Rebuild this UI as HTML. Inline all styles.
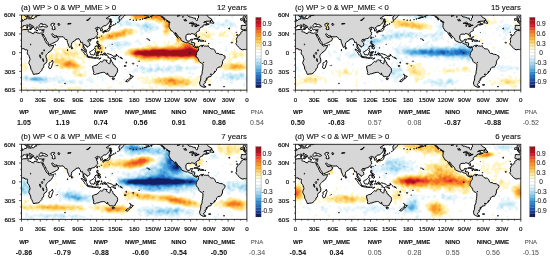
<!DOCTYPE html>
<html><head><meta charset="utf-8"><style>
html,body{margin:0;padding:0;background:#fff;width:550px;height:258px;overflow:hidden}
svg{display:block}
text{font-family:"Liberation Sans",Arial,sans-serif;fill:#222}
.ax{font-size:6.2px;fill:#111;stroke:#111;stroke-width:0.2px}
.cb{font-size:6.6px;fill:#1a1a1a;stroke:#1a1a1a;stroke-width:0.06px}
.tt{font-size:7.8px;fill:#111;stroke:#111;stroke-width:0.12px}
.tl{font-size:6px;font-weight:bold;fill:#111;stroke:#111;stroke-width:0.1px}
.tlg{font-size:6px;fill:#555;stroke:#555;stroke-width:0.1px}
.tv{font-size:7px;font-weight:bold;fill:#111;stroke:#111;stroke-width:0.04px;letter-spacing:0.15px}
.tvg{font-size:7px;fill:#555;stroke:#555;stroke-width:0.05px;letter-spacing:0.1px}
</style></head><body>
<svg width="550" height="258" viewBox="0 0 550 258">
<rect width="550" height="258" fill="#fff"/>
<defs><g id="land"><path fill="#d7d7d7" fill-rule="evenodd" stroke="#000" stroke-width="1.0" stroke-linejoin="round" d="M-3.4 14.9l0.6-0.3l1.5 0l0.9-0.6l0.5-0.7l-0.3-0.5l0.8-0.9l1.4-0.6l-0.1-0.3l0-0.5l1.1-0.1l1.1 0.2l0.6-0.5l0.8-0.3l0.9 0.3l0.2 0.6l0.6 0.3l0.6 0.6l1 0.4l1 0.5l0 1.1l0.5-0.2l0.5-0.3l-0.2-0.8l1 0.1l-0.3-0.3l-1.3-0.5l-0.9-0.5l-0.6-0.8l-0.8-0.6l0.1-0.6l0.8-0.1l0.5 0.3l0.6 0.8l0.9 0.4l1 0.5l0.6 0.4l-0.1 0.9l0.5 0.5l0.5 0.8l0.4 0.9l0.6 0.3l0.4-0.7l0.5-0.4l-0.7-0.8l0.3-0.5l0.4-0.4l1.3 0l0.2 0.5l0.3 0.9l0.3 0.8l0.6 0.4l0.8 0.3l0.7-0.4l0.8 0.2l1.3 0.1l0.9-0.2l0.5-0.1l-0.3 0.6l-0.2 1.2l-0.3 0.6l-0.3 0.9l-0.2 0.1l-0.7 0.2l-0.5-0.2l-0.8-0.1l-0.6 0.1l-0.6 0.3l-2.5-0.4l-1.3-0.7l-0.9-0.2l-1 0.5l0 0.7l-0.6 0.5l-2.1-0.7l-0.3-0.6l-1.4-0.4l-0.9-0.1l-0.6-0.4l-0.3-0.3l0.6-0.6l-0.3-0.5l0.3-0.7l-0.5 0l-1 0.1l-3.5 0.1l-1.9 0.6l-1.3 0.5l-2-0.5l-0.4 0l-0.6 1.1l-0.7 0.2l-1.1 0.8l0 1.2l-0.8 1.1l-1.2 0.7l-1 1.1l-0.9 1.5l-0.6 1.6l0.4 1.2l-0.1 1.9l-0.7 0.8l0.5 1.4l0.8 0.6l0.6 0.7l0.8 1.2l1.1 1l1.3 0.9l1.2 0.7l2.2-0.5l1.2 0.2l1.3-0.5l1.3-0.4l1.5 0l0.6 1.1l1 0.1l0.9-0.1l0.8 0.4l-0.1 1.2l-0.2 1.2l0.1 1.3l1 1.2l0.7 0.7l0.1 0.6l0.6 1.9l0.3 1.2l-0.8 1.6l-0.4 1.5l0 0.8l0.9 1.7l0.8 1.8l0.4 2.6l0.8 1l0.8 1.8l0.4 1l0.1 0.8l0.9 0.3l1.3-0.4l1.9-0.1l0.6-0.1l1.2-0.5l1.3-1.2l0.6-0.8l0.9-0.9l0.3-1.4l0.1-0.4l1.4-1l0.1-1.2l0-1l1-1.8l1.8-1l0.4-1.2l-0.1-2.2l-0.6-1.6l-0.3-0.9l0.1-1.1l0.5-1.1l0.7-0.6l0.6-0.6l1.2-1.3l1.3-0.6l1.3-1.6l0.9-1.4l0.8-1.4l0.1-0.9l0.2-0.9l-1.4 0.4l-1.3 0.1l-1.5 0.4l-0.9-0.7l0-0.5l-1-0.7l-1.3-1.3l-0.6-1.5l-0.8-1l-0.2-1.5l-1.2-1.6l-0.9-1.9l-0.6-1.5l0.4 0.7l0.7 0.7l0.4-1.1l0.3 0.9l0.7 1.3l0.9 1.2l0.6 1.3l0.3 1.2l1 1.3l0.9 1.2l0.3 1.3l0.3 0.8l1-0.1l1.9-0.7l1.2-0.7l1.3-0.5l1.2-0.7l0.9-0.5l0.7-0.4l0.8-0.4l0.4-0.9l0.8-1.2l-0.8-0.7l-0.9-0.3l-0.4-0.5l0-0.9l-0.6 0.5l-0.9 0.8l-1.5-0.2l-0.1-0.9l-0.3 0.6l-0.5-0.6l-0.4-0.7l-0.6-0.9l-0.3-0.6l0.3-0.3l0.9-0.1l0.6 0.8l1 0.9l0.9 0.4l1.3-0.2l0.6 0.8l1.2 0.2l1.7 0.2l1.5-0.1l1.5-0.1l0.7 0.9l0.6 0.3l0.3 0.7l0.6 0.9l1.6 0l0.3 1.2l0.3 1.9l0.6 1.3l0.4 1.2l0.6 1.3l0.6 1.2l0.6-0.6l0.7-0.6l0.6-1.9l0.1-1.6l1.1-0.9l1.3-0.9l1.6-1l0.3-0.9l1.2-0.2l1-0.3l0.8 0l0.4 1.1l1 0.9l0.3 1.9l0.6 0.1l1.2-0.4l0.4 1.6l0.3 1.8l-0.2 1.9l1.3 1.6l0.6 1.5l1.4 1.1l0.3-0.1l-0.4-1.6l-0.2-0.9l-0.6-0.5l-1-0.8l-0.4-1.1l-0.4-0.7l0.2-1.3l0.3-0.6l0.6 0.5l1 0.4l0.3 1l0.9 0l0.2 1.1l1.1-0.6l0.6-0.5l1.1-0.8l0-1.1l-0.3-1.3l-1.1-0.9l-0.6-1.1l0.3-1.1l0.9-0.6l1.3 0.2l0.2 0.5l0.4-0.7l1.6-0.5l1.5-0.3l1-0.8l0.9-0.9l0.6-1l1-0.9l0.3-0.9l-0.6-0.5l0.6-0.7l-0.8-0.6l-0.5-1.1l-0.5-0.3l0.8-0.6l1.3-0.6l-0.9-0.5l-1.3 0.4l-0.3-0.5l-0.5-0.6l0.5-0.2l0.9-0.5l1-0.5l0.3 0.2l-0.5 0.9l0.8-0.5l1.1-0.1l0.5 0.3l0.2 1.1l0.7 0.2l-0.1 0.9l0 0.9l0.7-0.1l1-0.2l0.3-0.6l-0.1-0.9l-0.6-0.7l-0.6-0.8l1.4-0.7l0.6-0.9l0.8-0.5l1 0.3l1.2-0.7l1.3-1l0.6-1l1.1-0.9l0.2-1.6l0.5-0.9l-0.2-0.6l-1.3-0.5l-1.2 0.2l-1.1-0.5l1.1-0.8l1.9-1.1l1.2-0.8l0.9-0.2l1.6 0l1.3-0.1l1.8 0.2l1.9-0.2l0.6-0.3l1-0.9l2.2-0.2l-1.3 2l-1.2 0.7l-0.3 1.5l0.7 2.5l1.2-1.2l0.9-0.8l1.2-1.2l0.8-1.1l1.1-1.3l9.4-3.1l0-6.3l-122.1 0l12.5 8.1l0 1.9l0.7 0.7l1.2 0l0.9-0.7l0.7-0.3l0.3 0.3l0.5 0.7l0.4 0.9l0.2 0.6l0.9 0.1l1.1-0.5l0.3-0.8l0.2-0.7l1.1-0.6l0-0.9l2.2 0l0 0.5l1.9-0.1l1.8-0.1l1.3 0.3l-1.3 0.3l-2.5 0l-0.3 0.6l0.5 0.7l-0.2 0.3l-1.5-0.3l-0.4 0.9l0.1 0.2l-0.4 0.5l-0.6 0.3l-0.6-0.2l-1.6 0.3l-1.2 0.2l-1.3-0.2l-0.6 0.2l-0.3-0.4l0.2-1.1l-0.4-0.1l0.2-0.8l-1.2 0.4l-0.3 0.4l0.3 0.6l-0.1 1l-0.9 0.3l-1.3 0.1l-0.4 0.7l-0.5 0.5l-0.6 0.2l-0.6 0.1l-0.1 0.4l-0.9 0.5l-0.6 0l-0.4-0.2l-0.3 0.7l-0.8-0.1l-0.8 0.3l0.2 0.3l1.1 0.3l0.8 0.7l0 1l-0.2 0.8l-0.9 0l-1.7-0.1l-1.4-0.1l-0.8 0.4l0.3 0.7l-0.1 0.9l-0.3 1.1l0.4 0.5l-0.1 0.6l0.9-0.1l0.8 0.2l0.4 0.5zM18.2 11.8l1.2 0l1.3-0.5l1.2 0l1 0.4l0.9 0.2l1.2 0l1-0.3l0-0.7l-1.3-0.9l-1.2-0.4l-0.6-0.4l-0.7 0.2l-1.2 0.3l-0.7-0.5l0.7-0.4l-1.3-0.4l-0.6 0l-0.5 0.8l-0.6 0.6l-0.5 0.8l0 0.7zM29.4 9.0l1.3-0.6l1.5-0.3l1 0.3l0 0.8l-1.3 0.5l0.2 0.8l1 0.8l0.1 0.7l0.5 2.2l-1.8 0.4l-1.2-0.5l0.1-1.3l0.7-0.5l-0.8-0.7l-1-1l0-0.9zM36.6 8.4l1.3 0.2l0.6 0.9l-0.9 0.8l-1-0.3zM46.3 8.6l1.6-0.3l1.6 0.1l-0.4 0.5l-1.5-0.1l-1.3 0.3zM65.1 5.2l1.3-0.5l1.2-0.9l1-1.2l0.1 0.3l-0.8 1.3l-1.2 0.9l-1.3 0.3zM8.5 29.4l0.6-0.5l0.3 0.5l-0.5 0.3zM19.8 37.8l0.5-0.5l0.7 0l0.4 0.4l-0.1 0.6l-0.3 0.8l-0.7 0l-0.4-0.6zM18.3 39.7l0.2 0l0.6 1.6l0.4 1.5l-0.4 0.2l-0.6-1.1l-0.3-1.2zM21.3 43.5l0.2 0l0.6 3l-0.3 0l-0.4-1.5zM22.4 34.7l0.4 0l-0.1 1.3l-0.2-0.1zM71.1 51.3l0.3 2.5l0.5 1.9l0.5 1.7l-0.4 1.1l0 0.5l0.9 0.4l1 0l1.2-0.7l1.3 0l1.2-0.5l1.3-0.5l1.9-0.3l1.2-0.2l1.3 0.3l0.7 0.5l1 1.3l0.2-0.5l1.1-0.9l-0.2 0.9l0.2 1l0.4-0.1l0.6 0.3l0.7 1.3l0.9 0.2l1.3-0.1l0.5 0l0.9 0.6l1.1-0.8l1.2-0.3l0.1-1l0.7-1.2l0.8-1l0.7-2.4l-0.4-1.5l0-0.6l-0.6-0.7l-0.8-0.8l-0.8-0.2l-0.4-1.3l-1.6-0.8l-0.2-1.2l-0.4-1.3l-0.5-0.5l-0.6-0.4l-0.1-1l-0.6-0.8l-0.3 1.1l-0.2 1.6l-0.1 1.3l-0.6 0.4l-0.8-0.2l-1.1-0.9l-1.1-0.6l0.1-0.8l0.6-0.9l-0.2-0.2l-1 0.2l-1.5-0.4l-0.7-0.1l-0.6 0.6l-0.4 0.9l-0.3 0.6l-0.9 0l-0.9-0.5l-0.9 0.8l-1 0.9l-0.8 0.7l-0.7 1l-1.4 0.5l-1.3 0.2l-1.1 0.6l-0.6 0.2zM222.0 14.9l0.6-0.3l1.5 0l0.9-0.6l0.5-0.7l-0.3-0.5l0.8-0.9l1.4-0.6l-0.1-0.3l0-0.5l1.1-0.1l1.1 0.2l0.6-0.5l0.8-0.3l0.9 0.3l0.2 0.6l0.6 0.3l0.6 0.6l1 0.4l1 0.5l0 1.1l0.5-0.2l0.5-0.3l-0.2-0.8l1 0.1l-0.3-0.3l-1.3-0.5l-0.9-0.5l-0.6-0.8l-0.8-0.6l0.1-0.6l0.8-0.1l0.5 0.3l0.6 0.8l0.9 0.4l1 0.5l0.6 0.4l-0.1 0.9l0.5 0.5l0.5 0.8l0.4 0.9l0.6 0.3l0.4-0.7l0.5-0.4l-0.7-0.8l0.3-0.5l0.4-0.4l1.3 0l0.2 0.5l0.3 0.9l0.3 0.8l0.6 0.4l0.8 0.3l0.7-0.4l0.8 0.2l1.3 0.1l0.9-0.2l0.5-0.1l-0.3 0.6l-0.2 1.2l-0.3 0.6l-0.3 0.9l-0.2 0.1l-0.7 0.2l-0.5-0.2l-0.8-0.1l-0.6 0.1l-0.6 0.3l-2.5-0.4l-1.3-0.7l-0.9-0.2l-1 0.5l0 0.7l-0.6 0.5l-2.1-0.7l-0.3-0.6l-1.4-0.4l-0.9-0.1l-0.6-0.4l-0.3-0.3l0.6-0.6l-0.3-0.5l0.3-0.7l-0.5 0l-1 0.1l-3.5 0.1l-1.9 0.6l-1.3 0.5l-2-0.5l-0.4 0l-0.6 1.1l-0.7 0.2l-1.1 0.8l0 1.2l-0.8 1.1l-1.2 0.7l-1 1.1l-0.9 1.5l-0.6 1.6l0.4 1.2l-0.1 1.9l-0.7 0.8l0.5 1.4l0.8 0.6l0.6 0.7l0.8 1.2l1.1 1l1.3 0.9l1.2 0.7l2.2-0.5l1.2 0.2l1.3-0.5l1.3-0.4l1.5 0l0.6 1.1l1 0.1l0.9-0.1l0.8 0.4l-0.1 1.2l-0.2 1.2l0.1 1.3l1 1.2l0.7 0.7l0.1 0.6l0.6 1.9l0.3 1.2l-0.8 1.6l-0.4 1.5l0 0.8l0.9 1.7l0.8 1.8l0.4 2.6l0.8 1l0.8 1.8l0.4 1l0.1 0.8l0.9 0.3l1.3-0.4l1.9-0.1l0.6-0.1l1.2-0.5l1.3-1.2l0.6-0.8l0.9-0.9l0.3-1.4l0.1-0.4l1.4-1l0.1-1.2l0-1l1-1.8l1.8-1l0.4-1.2l-0.1-2.2l-0.6-1.6l-0.3-0.9l0.1-1.1l0.5-1.1l0.7-0.6l0.6-0.6l1.2-1.3l1.3-0.6l1.3-1.6l0.9-1.4l0.8-1.4l0.1-0.9l0.2-0.9l-1.4 0.4l-1.3 0.1l-1.5 0.4l-0.9-0.7l0-0.5l-1-0.7l-1.3-1.3l-0.6-1.5l-0.8-1l-0.2-1.5l-1.2-1.6l-0.9-1.9l-0.6-1.5l0.4 0.7l0.7 0.7l0.4-1.1l0.3 0.9l0.7 1.3l0.9 1.2l0.6 1.3l0.3 1.2l1 1.3l0.9 1.2l0.3 1.3l0.3 0.8l1-0.1l1.9-0.7l1.2-0.7l1.3-0.5l1.2-0.7l0.9-0.5l0.7-0.4l0.8-0.4l0.4-0.9l0.8-1.2l-0.8-0.7l-0.9-0.3l-0.4-0.5l0-0.9l-0.6 0.5l-0.9 0.8l-1.5-0.2l-0.1-0.9l-0.3 0.6l-0.5-0.6l-0.4-0.7l-0.6-0.9l-0.3-0.6l0.3-0.3l0.9-0.1l0.6 0.8l1 0.9l0.9 0.4l1.3-0.2l0.6 0.8l1.2 0.2l1.7 0.2l1.5-0.1l1.5-0.1l0.7 0.9l0.6 0.3l0.3 0.7l0.6 0.9l1.6 0l0.3 1.2l0.3 1.9l0.6 1.3l0.4 1.2l0.6 1.3l0.6 1.2l0.6-0.6l0.7-0.6l0.6-1.9l0.1-1.6l1.1-0.9l1.3-0.9l1.6-1l0.3-0.9l1.2-0.2l1-0.3l0.8 0l0.4 1.1l1 0.9l0.3 1.9l0.6 0.1l1.2-0.4l0.4 1.6l0.3 1.8l-0.2 1.9l1.3 1.6l0.6 1.5l1.4 1.1l0.3-0.1l-0.4-1.6l-0.2-0.9l-0.6-0.5l-1-0.8l-0.4-1.1l-0.4-0.7l0.2-1.3l0.3-0.6l0.6 0.5l1 0.4l0.3 1l0.9 0l0.2 1.1l1.1-0.6l0.6-0.5l1.1-0.8l0-1.1l-0.3-1.3l-1.1-0.9l-0.6-1.1l0.3-1.1l0.9-0.6l1.3 0.2l0.2 0.5l0.4-0.7l1.6-0.5l1.5-0.3l1-0.8l0.9-0.9l0.6-1l1-0.9l0.3-0.9l-0.6-0.5l0.6-0.7l-0.8-0.6l-0.5-1.1l-0.5-0.3l0.8-0.6l1.3-0.6l-0.9-0.5l-1.3 0.4l-0.3-0.5l-0.5-0.6l0.5-0.2l0.9-0.5l1-0.5l0.3 0.2l-0.5 0.9l0.8-0.5l1.1-0.1l0.5 0.3l0.2 1.1l0.7 0.2l-0.1 0.9l0 0.9l0.7-0.1l1-0.2l0.3-0.6l-0.1-0.9l-0.6-0.7l-0.6-0.8l1.4-0.7l0.6-0.9l0.8-0.5l1 0.3l1.2-0.7l1.3-1l0.6-1l1.1-0.9l0.2-1.6l0.5-0.9l-0.2-0.6l-1.3-0.5l-1.2 0.2l-1.1-0.5l1.1-0.8l1.9-1.1l1.2-0.8l0.9-0.2l1.6 0l1.3-0.1l1.8 0.2l1.9-0.2l0.6-0.3l1-0.9l2.2-0.2l-1.3 2l-1.2 0.7l-0.3 1.5l0.7 2.5l1.2-1.2l0.9-0.8l1.2-1.2l0.8-1.1l1.1-1.3l9.4-3.1l0-6.3l-122.1 0l12.5 8.1l0 1.9l0.7 0.7l1.2 0l0.9-0.7l0.7-0.3l0.3 0.3l0.5 0.7l0.4 0.9l0.2 0.6l0.9 0.1l1.1-0.5l0.3-0.8l0.2-0.7l1.1-0.6l0-0.9l2.2 0l0 0.5l1.9-0.1l1.8-0.1l1.3 0.3l-1.3 0.3l-2.5 0l-0.3 0.6l0.5 0.7l-0.2 0.3l-1.5-0.3l-0.4 0.9l0.1 0.2l-0.4 0.5l-0.6 0.3l-0.6-0.2l-1.6 0.3l-1.2 0.2l-1.3-0.2l-0.6 0.2l-0.3-0.4l0.2-1.1l-0.4-0.1l0.2-0.8l-1.2 0.4l-0.3 0.4l0.3 0.6l-0.1 1l-0.9 0.3l-1.3 0.1l-0.4 0.7l-0.5 0.5l-0.6 0.2l-0.6 0.1l-0.1 0.4l-0.9 0.5l-0.6 0l-0.4-0.2l-0.3 0.7l-0.8-0.1l-0.8 0.3l0.2 0.3l1.1 0.3l0.8 0.7l0 1l-0.2 0.8l-0.9 0l-1.7-0.1l-1.4-0.1l-0.8 0.4l0.3 0.7l-0.1 0.9l-0.3 1.1l0.4 0.5l-0.1 0.6l0.9-0.1l0.8 0.2l0.4 0.5zM167.7 8.3l1.4 0.1l1.5 0l1.7 0l0.2-0.5l-0.6-0.3l-0.7-0.5l-1.2 0.2l-0.7 0.2l-0.9 0.4zM170.4 11.1l0.2 0.3l0.6-0.3l0.2-1.1l0.4-0.7l0.5-0.4l-1.1 0l-0.6 0.6l-0.2 0.8zM172.4 8.8l0.7-0.1l1.3 0.1l0.8 0.3l0.1 0.6l-0.8-0.4l-0.3 0.6l-0.4 0.7l-0.7-0.5l0.1-0.7l-0.6-0.4zM173.2 11.4l1.2 0.1l1.5-0.6l-0.1-0.2l-1.4 0.2l-1 0.4zM175.4 10.4l1.8 0l0.5-0.1l-0.2-0.4l-1.8 0.3zM164.7 6.0l0.3-0.1l-0.2-0.8l-0.5-0.8l-0.8-0.4l0.2 0.6l0.7 0.8zM163.4 6.1l0.5-0.2l-0.9-0.9l-0.6-0.6l0.2 0.6zM155.6 0.9l2.2-0.5l0.7 0.1l-1.3 0.3l-1.5 0.3zM161.2 2.2l0.5-0.1l0-0.8l-0.5 0.1zM181.6 47.1l0.5 0.1l0.2 0.5l-0.5-0.2zM193.0 56.4l0.7 0.1l-0.8 1l-0.3-0.2zM180.4 30.7l0.4 0l0.1 1l-0.5 0zM119.0-9.4l2.5 8.8l0.9 0.6l1.6 0.1l0.1 0.5l2.1 0.2l0.9 0.3l-0.9 0.8l-1.3 0.7l-1.2 0.5l-1.3 0.3l0.9-0.1l2.5-0.7l1.9-0.4l1.3-0.6l0.6-0.7l0.9-0.4l1-0.2l1.2-0.3l1.3-0.5l1.9 0.5l1.8 0.1l1.9 0.8l0.6 0.7l1 0.9l1.6 0.9l0.9 0.2l0.9 0.9l1 1.1l1.5 0.8l1.3 0.5l0.1 0.6l-1.2-0.2l0.5 1.3l-0.1 1.4l-0.3 0.8l0.2 1.1l0.3 0.7l0.8 1.3l0.4 0.7l0.8 1.3l1.3 0.4l0.8 0.8l0.5 0.7l0.4 0.8l1 1.4l0.1 0.5l1.2 1.1l1.3 1.6l0.2-0.4l-0.6-0.4l-0.5-0.8l-0.6-1.5l-0.7-1l-0.8-1.5l1.1 0.4l0.7 1.1l0.6 0.9l0.9 1.3l1 0.6l1.2 1.2l0.5 1l-0.2 0.7l0.7 0.8l1.5 0.7l1.3 0.6l1.2 0.5l1.3 0.3l0.9-0.3l1 0.4l0.6 0.7l1.3 0.4l1.2 0.4l0.3 0.1l1 0.9l0.1 0.3l0 0.7l0.8 0.3l0.5 0.6l0.7 0.2l1 0.3l0.6 0.3l-0.2-0.6l0.5-0.4l1 0.4l0.3 0.4l0.1 0.7l-0.1 0.3l0.1 1.2l-0.7 1l-0.7 0.9l-0.3 0.6l-0.3 0.7l-0.3 0.7l0.4 0.8l-0.5 0.6l-0.1 1l0.9 0.7l0.9 1.2l0.9 1.8l0.4 1.2l0.8 1l1.9 1l1.1 0.8l0.1 1.7l-0.2 1.5l-0.1 1.9l-0.5 2.2l-0.1 1.9l-0.4 1.5l-0.8 1.1l-0.1 1.7l-0.1 1.3l-0.1 1.2l-0.7 1.6l-0.3 1.3l0.3 1.5l0.7 1.3l1.2 0.6l1.3 0.6l1.2 0.3l1.3-0.3l0.5-0.2l-2-0.8l-0.1-0.7l-0.3-0.5l0-0.9l0.8-0.6l1.2-0.8l-1.1-0.9l0.4-0.5l1.2-0.3l0-1.6l0.9 0.1l-0.9-1l1.7-0.2l0.2-1.1l2.8-0.5l0.5-1l-0.3-0.7l-0.8-0.6l0.9 0l1.3 0.3l0.9-0.7l1.3-1.5l0.9-1.2l0.9-0.8l0-1.4l1.3-1.3l1.2-0.5l1.6-0.2l0.6-0.6l0.7-1.5l0.5-1l0.1-2.1l0.3-0.9l0.9-1.3l1.2-1.2l0.2-1.2l-0.3-1.2l-1.4-0.4l-0.9-0.9l-1.6-0.2l-1.5-0.2l-1.3-0.9l-1.6 0.1l-0.9-0.8l-0.3-1l-0.6-1.5l-1-0.9l-1.2-0.3l-1.3 0l-0.9-0.5l-1-1.1l-0.9-0.8l-0.6-0.5l-1.3 0.2l-0.9-0.2l-1.3 0.1l-1.2-1.1l-1 0.7l-0.4-0.5l-1.3 0.4l-0.8 0.5l-0.6 1l-0.6 0.1l-1-0.5l-0.9 0.3l-0.9 0l-1-1.1l-0.1-0.8l0.3-1.9l-0.8-0.5l-1.9 0l-0.4 0.1l-0.1-1.1l0.5-1.3l0.5-1.2l-0.8 0l-1.4 0.3l-0.2 0.8l-0.6 0.8l-1.6 0.1l-0.9-0.3l-0.6-0.8l-0.6-1.2l0-1.9l0.1-1.6l0.8-0.7l1.2-0.6l1.3 0l1.3 0.3l0.6-0.7l1.2-0.1l1.3 0.5l0.6-0.2l0.8 1.2l0.6 1.1l0.5 0.7l0.5-0.5l-0.2-1.6l-0.5-0.9l-0.1-1l0.9-0.7l1-0.8l1.2-0.5l0.6-0.4l-0.3-1l0.5-1l0.8-1.2l1.2-0.3l1.3-0.5l-0.5-0.5l0.5-0.7l1.9-0.6l0.6-0.2l0.9-0.2l-0.9 0.8l1.5-0.3l2.2-0.8l-0.9-0.1l-1.9-0.2l-0.3-1.1l0.4-0.6l-1.3-0.1l-1.6 0.5l1.3-0.7l1.8-0.5l2.5 0l1.9-0.8l0.8-0.4l-0.5-1.1l-1.5-0.8l-1.6-0.8l-0.6-0.9l-1.3-1.5l-0.3-1.1l0-8.1zM165.9-0.6l0.3 1.2l0.3 0.2l1 1l1.6 0.1l1.2 0.4l1.9 0.7l1.7 0.1l0 1.3l1.1 1l0.9-0.1l0.2-0.9l-0.2-1l1-0.6l0.3-0.9l-0.3-1l-0.3-1.5z"/><path fill="#fff" stroke="#000" stroke-width="1.0" stroke-linejoin="round" d="M30.9 45.0l0.7 2.2l-0.4 1l-0.6 1.8l-0.8 2.6l-0.4 0.6l-1.1 0.3l-0.8-0.5l-0.4-1.7l0.7-1.1l-0.3-1.7l0.3-0.8l1.2-0.4l0.9-0.9zM50.0 33.8l0-1.3l0.1-1.1l0.6 0.8l0.6 0.9l-0.2 0.5l-0.6 0.2zM59.7 34.0l1.3 0.3l0.8 0.9l1.1 1l0.7 0.2l1.4 1.8l0.4 0.8l0.9 2.2l-0.9 0l-1.3-1.2l-0.9-0.9l-0.4-0.9l-0.8-1.3l-1-0.9l-0.9-1.1zM65.9 41.8l0.8-0.5l1.1 0.2l1.4 0.3l1.3 0l1.2 0.6l-0.1 0.6l-1.5-0.3l-1.2-0.1l-1.3-0.2l-1-0.2zM72.0 42.7l0.9 0l1.6 0.1l0.1 0.2l-1.7 0.2l-0.8-0.2zM75.0 42.8l1.1 0l0.9-0.1l0 0.2l-1.2 0.2l-0.8-0.1zM77.3 44.0l1-0.7l1.3-0.5l-0.2 0.2l-1.1 0.7l-0.7 0.3zM68.6 36.2l0.5 0.3l0.7-0.6l1-0.4l0.7-0.9l0.5-0.2l0.6-0.6l0.7-0.7l0.4 0.6l0.9 0.5l-0.6 0.6l-0.3 0.1l-0.1 0.7l0.8 1.3l-0.6 0.1l-0.2 0.8l-0.7 0.9l0 1l-0.3 0.3l-0.9-0.1l-0.9-0.4l-1 0.2l-0.8-0.4l-0.1-0.8l-0.6-0.7l-0.1-0.6zM74.8 41.0l0-1.3l-0.4-0.5l0.6-1.4l0.6-1.1l0.8 0.2l1.6-0.3l0.4 0l-0.8 0.6l-1.5 0l-0.6 0.6l0.6 0.3l1.1 0l-0.8 0.4l-0.5 0.2l0.8 1l0.5 0.6l-0.7 0.7l-0.6-0.7l-0.5-0.9l0 1.6zM79.8 36.6l0.7 0l-0.4 0.9l0.4 0.5l-0.7-0.3zM80.1 39.4l1.6 0l0.2 0.5l-1.4-0.1zM78.9 39.5l0.7 0l-0.2 0.5l-0.5-0.2zM75.5 26.0l1 0l0.1 0.9l-0.5 0.9l0.2 1l1.3 0.6l-0.3-0.5l-0.6 0.2l-1.2-0.5l-0.4-1.1l0.3-0.9zM76.4 33.1l0.6-1l1.6-0.7l0.6 1.1l-0.2 1.1l-0.4 0.4l-1-0.4l-0.9-0.6zM76.4 30.1l0.7 0.9l0.5 0.6l0.8-0.5l0.4-0.8l-0.4-0.6l-0.8 0l-0.9 0.6zM73.4 32.3l1.5-1.8l-0.2-0.1l-1.4 1.6zM75.2 23.1l0.4 0.7l0.2 0l0.3-1.6l0.2-0.3l-0.5-0.1l-0.5 0.8zM68.1 25.5l0.5-0.5l0.6 0l0.3 0.3l-0.4 0.8l-0.5 0l-0.5-0.1zM82.0 16.3l1-1l1.8 0l0.4-0.5l0.6-0.4l0.9-0.5l1-1.1l0-0.8l0.9-0.3l0.3 1.1l-0.6 0.8l0 0.8l-0.2 0.6l-0.6 0.6l-0.6 0.3l-1.1 0l-0.1 0.2l-0.7 0.5l-0.5-0.7l-1.2 0.2l-1.3 0.2zM81.2 16.6l0.8-0.3l0.5 0.9l-0.4 0.7l-0.6 0.1l-0.2-0.9zM83.0 16.7l0.6-0.1l0.7-0.2l-0.1-0.3l-0.9 0.2zM87.7 11.6l0.6-0.2l1.4-0.1l1.4-0.9l-0.8-0.5l-1.6-0.8l-0.2 1.4l-0.7 0.1l-0.2 0.5zM88.9 8.8l0.9-0.5l-0.3-1.4l1 0l-0.8-1.6l-0.2-1.5l-0.3-0.2l-0.2 2l-0.1 1.9zM82.0 38.3l1-0.5l0.9 0.2l0.6 1.6l0.7-0.7l0.9-0.4l1.6 0.5l0.6 0.2l1.9 0.7l1.1 0.8l1.1 0.6l-0.2 0.5l0.5 0.7l0.9 1l0.8 0.6l-1.1-0.1l-0.9-0.2l-1-1.1l-1.2-0.4l-0.7 0.9l-0.9 0l-1.6-0.6l-0.6 0.2l0.5-0.9l-0.6-1.1l-1.1-0.5l-1.3-0.3l-0.6 0l-0.7-0.7l1-0.3l-1-0.1zM92.9 41.0l1-0.2l1-0.5l0.5-0.1l-0.4 0.6l-0.8 0.6l-0.9-0.1zM94.4 39.2l1 0.4l0.5 0.9l-0.4-0.3l-1-0.8zM97.0 41.3l0.5 0.3l-0.1 0.3l-0.5-0.3zM98.3 42.5l1.3 0.3l0.9 0.7l0.6 0.3l-0.6-0.6l-1.3-1zM90.6 63.0l2.3 0.1l0 0.8l-0.5 0.6l-1 0.2l-0.5-0.8zM108.1 59.0l1.2 0.9l0.8 1.1l1.7 0.1l-0.4 0.9l-0.6 0.3l-1 1.2l-0.5-0.1l0.3-0.9l-0.8-0.5l0.5-0.7l-0.2-1.1zM108.1 62.9l1 0.7l-0.7 0.8l-0.2 0.5l-1 0.4l-0.4 0.9l-0.9 0.5l-1.7-0.4l0.2-0.5l1-0.8l1.4-0.8l0.8-0.8zM-3.6 6.3l1.7-0.4l2.8-0.4l0.2-0.9l-0.9-0.5l-0.3-0.4l-0.8-0.6l-0.4-0.5l-0.3-0.4l0.5-0.6l-1-0.7l-1 0l-0.7 0.7l0.4 0.7l0.3 0.4l0 0.6l0.9-0.1l0.3 0.7l0 0.3l-1 0l0.3 0.3l-0.7 0.6l1.4 0.2l-0.7 0.2zM7.8 13.8l2-0.2l-0.3 1l-1.7-0.6zM5.1 11.9l1 0l0 1.1l-0.8 0.2l0-0.7zM5.4 11.3l0.5-0.7l0 1l-0.4 0zM14.7 15.4l1.8 0.1l-0.2 0.1l-1.3 0zM20.2 15.8l1.5-0.5l-0.4 0.6l-0.6 0zM104.7 50.8l-0.5-0.3l-1.1 0l-0.6 0.3l0.6 0.4l1.1 0zM105.1 47.4l-0.2-0.6l-0.3 0l-0.2 0.6l0.2 0.7l0.3 0zM112.4 48.5l-0.4-0.4l-0.7 0l-0.4 0.4l0.4 0.5l0.7 0zM90.8 29.1l0-0.2l-0.2 0l-0.1 0.2l0.1 0.2l0.2 0zM84.5 32.8l-0.2-0.2l-0.2 0l-0.1 0.2l0.1 0.3l0.2 0zM93.0 9.7l-0.3-0.3l-0.7 0l-0.3 0.3l0.3 0.3l0.7 0zM94.7 8.8l-0.2-0.3l-0.5 0l-0.3 0.3l0.3 0.2l0.5 0zM96.9 7.2l-0.2-0.2l-0.5 0l-0.3 0.2l0.3 0.2l0.5 0zM98.0 6.1l-0.2-0.2l-0.3 0l-0.1 0.2l0.1 0.2l0.3 0zM109.1 4.5l-0.2-0.2l-0.5 0l-0.3 0.2l0.3 0.2l0.5 0zM112.3 5.1l-0.3-0.1l-0.5 0l-0.2 0.1l0.2 0.2l0.5 0zM34.9 50.7l-0.1-0.1l-0.1 0l-0.1 0.1l0.1 0.2l0.1 0zM36.3 50.2l-0.1-0.1l-0.2 0l-0.1 0.1l0.1 0.2l0.2 0zM46.1 35.0l0-0.6l-0.1 0l-0.1 0.6l0.1 0.7l0.1 0zM58.2 29.7l-0.1-0.5l-0.2 0l0 0.5l0 0.5l0.2 0zM34.2 29.7l-0.3-0.2l-0.5 0l-0.2 0.2l0.2 0.2l0.5 0zM44.0 68.4l-0.2-0.3l-0.5 0l-0.3 0.3l0.3 0.2l0.5 0zM87.8 20.6l-0.1-0.1l-0.1 0l-0.1 0.1l0.1 0.1l0.1 0zM80.5 21.0l-0.2-0.2l-0.3 0l-0.2 0.2l0.2 0.1l0.3 0zM78.0 22.2l-0.2-0.2l-0.3 0l-0.2 0.2l0.2 0.2l0.3 0zM76.6 31.4l-0.2-0.4l-0.6 0l-0.3 0.4l0.3 0.4l0.6 0zM77.7 31.0l-0.1-0.5l-0.2 0l-0.1 0.5l0.1 0.5l0.2 0zM221.8 6.3l1.7-0.4l2.8-0.4l0.2-0.9l-0.9-0.5l-0.3-0.4l-0.8-0.6l-0.4-0.5l-0.3-0.4l0.5-0.6l-1-0.7l-1 0l-0.7 0.7l0.4 0.7l0.3 0.4l0 0.6l0.9-0.1l0.3 0.7l0 0.3l-1 0l0.3 0.3l-0.7 0.6l1.4 0.2l-0.7 0.2zM221.6 4.9l-0.1-1.1l0.3-0.4l-1-0.5l-0.7 0.5l-1 0.2l0.2 0.5l-0.3 0.9l0.5 0.3l0.9-0.2l1.1-0.2zM188.3 7.8l2 0l1.9 0.5l0.2-0.5l-0.5-1.1l-1.2-0.4l0-1l-1 0.1l-1.2 1.8zM172.2 23.9l1.9-0.6l1.2-0.2l1.9 1l1.7 0.8l-0.5 0.2l-1.6 0l-0.2-0.5l-1.9-0.6l-1.3-0.2zM178.8 26.0l1.1-0.9l1.7 0.1l1 0.7l-1.3 0.2l-1 0.1zM176.4 26.1l1.3 0l-0.2 0.2l-0.8 0zM183.3 26.0l1 0l-0.1 0.3l-0.8 0zM145.0 5.8l0.9 0.3l0.9 0.8l1.3 0.4l-0.7-0.8l-0.6-0.4l-1.2-0.5zM142.1 3.8l0.7 0l0.6 0.9l-0.3 0.2l-0.7-0.5zM187.1 69.6l2-0.1l0.2 0.4l-1.2 0.3l-0.9-0.2zM127.8 24.9l0.6 0.4l-0.4 0.4l-0.3-0.4zM197.2-0.6l0.7 0.7l0.9-0.7zM208.6 13.4l-0.4-0.3l-0.7 0l-0.4 0.3l0.4 0.3l0.7 0zM215.1 17.1l-0.1-0.2l-0.3 0l-0.2 0.2l0.2 0.2l0.3 0zM216.6 19.8l-0.4-0.2l-1 0l-0.4 0.2l0.4 0.3l1 0zM211.0 27.5l-0.3-0.4l-0.6 0l-0.4 0.4l0.4 0.5l0.6 0zM168.9 37.8l-0.2-0.4l-0.5 0l-0.3 0.4l0.3 0.5l0.5 0zM118.0 46.1l-0.3-0.2l-0.4 0l-0.2 0.2l0.2 0.2l0.4 0zM116.0 50.8l-0.2-0.2l-0.2 0l-0.1 0.2l0.1 0.2l0.2 0zM125.8 23.8l-0.1-0.3l-0.3 0l-0.2 0.3l0.2 0.2l0.3 0zM127.5 24.3l-0.2-0.3l-0.4 0l-0.2 0.3l0.2 0.2l0.4 0zM115.4 5.1l-0.3-0.2l-0.5 0l-0.2 0.2l0.2 0.1l0.5 0zM119.1 4.6l-0.2-0.2l-0.5 0l-0.2 0.2l0.2 0.1l0.5 0zM121.6 3.9l-0.3-0.1l-0.6 0l-0.2 0.1l0.2 0.2l0.6 0zM130.7 1.6l-0.4-0.4l-0.8 0l-0.3 0.4l0.3 0.3l0.8 0zM141.2 1.7l-0.3-0.6l-0.7 0l-0.3 0.6l0.3 0.5l0.7 0zM142.4 2.6l-0.3-0.5l-0.6 0l-0.3 0.5l0.3 0.6l0.6 0zM187.4 28.5l-0.1-0.4l-0.2 0l-0.1 0.4l0.1 0.3l0.2 0zM187.2 31.0l-0.1-0.2l-0.4 0l-0.1 0.2l0.1 0.1l0.4 0zM177.1 22.3l-0.2-0.3l-0.4 0l-0.2 0.3l0.2 0.4l0.4 0zM178.2 21.7l-0.2-0.3l-0.4 0l-0.2 0.3l0.2 0.3l0.4 0zM185.0 17.3l0-0.1l-0.2 0l0 0.1l0 0.1l0.2 0zM203.2 71.5l-0.3-0.2l-0.7 0l-0.3 0.2l0.3 0.1l0.7 0z"/></g></defs>
<clipPath id="clipa"><rect x="21.5" y="15.1" width="225.4" height="75.05"/></clipPath>
<g clip-path="url(#clipa)">
<rect x="21.5" y="15.1" width="225.4" height="75.05" fill="#fff"/>
<path fill="#fff6c8" fill-rule="evenodd" d="M20.2 90.5l1 0.8l2.7-3.7l-1.8-1.2l-0.4 0.3l-1.5 1.4l0 2.4zM47.7 91.4l1.4 0l1.2-0.9l0.5 0.9l1.6 0l0.7-1.8l1.9 1l0.9 0l1.9-1l1.2-0.1l-0.2-0.5l-1 0.5l-1.9-2.3l-2.8 1.4l-2.8 0.6l-1.9-1.8l-0.9-0.1l-0.9 0.3l1.1 3.8zM65.1 90.5l1.5 0.9l5.3-0.3l1.9-1.9l1.9 0.9l0.9 0l0.9-0.7l1.9 1l1.9-0.6l0.4-1.2l-0.4-1l-2.8-1.6l-3.7 0.7l-1 0.7l-1.9-0.6l-1.9 0.4l-1.9-0.7l-1 0.2l0.2 1.9l-2.2 1.9zM84.8 90.5l1.2-0.4l0.5-0.6l-1.4-0.6l-1.1 0.6l0.8 1zM91.4 90.5l1.5-1l-0.3-0.9l-1-0.8l-0.9 0.8l0 1.3l0.7 0.6zM100.0 90.5l2.4 0l-0.4-1.4l-1.9-1.3l-0.6 1.7l0.5 1zM174.2 91.4l0.4 0l-0.3-1.8l-0.4 0.9l0.3 0.9zM189.1 90.5l0.2 0.3l1.9-1.1l0-1.6l-1 1.2l-0.9 0.1l-0.2 1.1zM207.1 90.5l0.7 0.9l1.5 0l-0.3-1.1l-2.8-1.3l-0.2 0.5l1.1 1zM213.6 91.4l1.3 0l0.1-1.9l-0.3-0.5l-1.6 1.5l0.5 0.9zM239.9 90.5l1.1-0.1l0.7-0.9l-0.7-0.9l-1-0.4l-1.2 1.3l1.1 1zM246.4 91.4l1.1-0.5l0-2.4l-1.6 2l0.5 0.9zM25.3 89.5l0.6 0.8l0.9-0.2l0.6-0.6l-1.5-2.9l-1.8 1l1.2 1.9zM33.8 89.5l0.5 0.6l2.9-1.2l0.5-0.3l-0.3-1l-1.2-0.3l-1.9 0.2l-0.9-1.2l-0.9-0.3l-1.6 1.6l0.6 0.6l1.9 0.3l0.4 1zM40.3 89.5l0.6 0.6l0.9-0.2l0.5-1.3l-1.4-0.5l-0.6 0.5l0 0.9zM95.2 89.5l1.1 0l0-1l-1.1 0.1l0 0.9zM107.5 89.5l1 0l2.8-1.9l1 0.4l0.2-1.3l-2.1-1.3l-0.9 0l-1.2 1.3l-2 0.9l1.2 1.9zM128.2 89.5l1 0.7l0.9 0l0.7-0.7l-0.7-1l-1.8-0.5l-0.5 0.6l0.4 0.9zM142.3 89.5l1.9-0.2l1.9 0.8l0.8-0.6l-0.8-1l-0.9 0.8l-1-1.6l-0.9-0.2l-1.2 0.1l-1.1 1l1.3 0.9zM151.1 89.5l1.6 0.7l0.9-0.7l-0.9-3.2l-1.9 0.2l-0.4-0.7l-0.1-1l0.5-0.8l1.9-0.5l2.8 1.9l0.3 0.4l-0.4 0.9l1 1.2l1.6-0.3l0.4-0.9l-0.2-0.9l1-0.8l1 0.3l0.9 2.2l1.9-1.1l3.8 3.1l1.3-0.9l0.5-1l1.9 0.8l2.8-1.4l1 2.5l1.6-1.9l2.1-0.6l1 0l1.8 1l3.8-0.1l0.8-1.2l2 0l3.8-1.6l0.9 0.7l0 1.2l1-0.4l1.8 0.2l1.7-1l1.2-2.3l2.9-1.5l-1.1-0.3l-0.3-0.6l-0.1-1l0.4-0.7l1.8-1.1l0.1-0.6l0.1 0.6l0.8 0.2l1-1.2l-1-0.5l-0.9 0.5l-1.9-2l-2.8 1.1l-1.9 2l-1.8 0.3l-1.9 1.1l-0.9-1.5l2.3-1l-0.4-0.9l-1-0.5l-1.5 0.5l-1.3 1.1l-2.9 0.6l-2.8-1.8l-3.7-0.9l-1.9 0.2l-1.9-1.3l-0.9 1.8l-4.7-0.7l-2.8 1.4l-2.9-0.6l-1.8 1l-1 0l-2.8-1.3l-0.9 0.2l-1 1.3l-2.8 0.6l-0.8-0.7l-0.1-1.6l-1-0.2l-0.6 0.9l0.4 1.9l-0.7 1.5l-0.9 0.1l-1.1-0.7l-0.2-2.8l-0.6-0.4l-1 0l-1.8 1.5l-1 0l-1.9-1.2l-1.8 0.7l-1.9 0l-1 0.7l-0.8 1.5l0.4 0.9l1.4 0.2l1.9-2.6l1.2 1.5l0.2 0.9l-0.9 1l0.2 0.9l4 2l1.8-0.5l1.4 1.3l0.6 2.8l2.1 1.9zM166.8 87.5l-0.6-0.8l0.6-0.7l1 0.7l-0.1 0.5l-0.9 0.3zM143.3 80.6l-0.6-0.5l0.6-0.6l0.9-0.2l1.7 0.8l-1.7 0.7l-0.9-0.2zM231.2 89.5l1.3 0.6l0.9-0.4l1-1.4l-1-0.3l-2.2 1.5zM199.9 87.6l0.7 0.8l0.9 0l0.8-0.8l0-1.8l-0.8-0.8l-2.8 0.1l-0.5 0.7l1.7 1.8zM59.4 86.7l2.2 0.8l0.9 0l0.7-0.8l-0.2-0.9l-1.4-0.6l-1.8 0.6l-0.4 0.9zM96.9 86.7l0.4 0.5l1.1-0.5l0.3-0.9l-0.5-0.4l-0.9 0.3l-0.4 1zM208.3 85.8l1.7 0.7l0.9-1.3l0.2-1.3l-1-1.9l0.4-0.9l2-1.9l-0.7-1.3l-1.8 0.8l-3.8-0.2l-1 0.7l0.1 2.8l0.9 0.9l1.9-0.6l0.6 0.7l-0.4 2.8zM22.9 84.8l0.2 0.3l1.4-0.3l-0.5-1l-0.9 0.1l-0.2 0.9zM118.7 83.9l1.1 0.8l0.9-0.3l1.4-1.4l-0.8-1l-1.5-0.6l-1.6 1.6l0.5 0.9zM114.1 83.0l0.2-1l-1.1-0.3l0 0.8l0.9 0.5zM83.1 77.3l3.2-0.9l0.3-0.9l-0.6-3.8l-0.9-1.7l-1 0.3l-0.7 3.3l-1.2 0.1l-1.8-1.1l-0.5-1.8l0.5-0.8l2-0.2l0.8-1.5l0.9 0.2l0.9-0.6l0.4-0.9l-0.2-0.9l-1.1-0.8l-1.9 0.7l-0.9-2.5l-2.8-0.8l-1-2.5l-0.9 0.5l-0.9-0.9l-0.4-1.2l0.4-0.8l2.8 1.8l2.8 0.1l0.8 0.7l-0.1 2.9l3.1 0.6l0.1-1.6l-1.3-2.8l2.1-2l0.9-2.4l1.6-1.2l-0.1-1l-1.5-1.3l-0.9 0.2l0.2 2.1l-1.1 0.5l-1.2-1.5l0.5-1.8l-0.3-0.9l-0.9-0.6l-1 0.1l-0.9 0.9l-1.9 0.2l-0.9 1.1l-0.7-0.8l-0.3-3.9l1-0.4l0.9 0.3l1.9 1.4l0.9-0.9l0.5-2.2l-1.4-3.3l-0.9-0.3l-2.9 1.7l-2.8-1.6l-0.9 0l-1 0.7l0.2 1l2 1.8l0 1l-1.2 1.2l-1 2.5l-1.8 0.2l-1.4-1.1l2.3-1.9l0.3-0.9l-1.7-1.9l-0.4-1.9l-1-0.9l-1 0l-0.7 1.9l0.3 2.8l-2.4 1.9l-7.5-0.9l-2.8 1.6l-1.9-2.2l-0.9 1.1l-0.5 2.2l2.7 1l0.5 0.9l-0.1 0.9l-0.7 0.5l-3.8-1l-0.7 1.5l-1.2 0.3l-0.8-2.2l-1.1-0.3l-2.8 1.6l-1.1-1.3l0.2-0.9l1.9-1.5l2.2-0.4l0.3-1l-0.7-0.4l-1.8 1.1l-1-1.3l-0.9-0.2l-1.3 1.8l-1.8 0.9l0.3 2l-1.8 0.8l0.8 0.2l1.7 2.7l-0.1 2.8l1.2 0.4l1-0.3l1.9 1.6l1.5 0.1l0.1 1l-1.5 1.9l0.8 1.2l0.9 0.3l1-2.2l1.9-0.7l0.9 0.8l2.2 0.6l0.6 0.9l1 3.7l1.8 0.2l1-1.1l3.7 2.6l3.8-0.2l3.7 0.7l4-0.3l0.5 1l-0.9 0.9l0 1.9l1.7 0.9l1.3 2.4l8.4 0.4zM81.3 57.0l-2.2-1.2l0.3-1.5l1-1.1l0.9 0.4l1 2.2l-0.1 0.9l-0.9 0.3zM55.9 66.3l-0.1-1.2l1.1-0.3l0 2.1l-1-0.6zM60.6 53.0l-1.9-1l-1-0.9l0.1-0.6l2.8-1.2l0.5 0.8l0 1l1.2 1.8l-0.7 0.7l-1-0.6zM126.9 77.3l0.4 0.2l1-0.7l0-0.9l-1-0.2l-0.9 0.7l0.5 0.9zM105.6 76.4l1.1 0.2l0.1-0.2l-1.1-1l-0.1 1zM110.9 76.4l0.4 0.3l1-1.2l-1-0.7l-0.9 0.1l-0.3 0.6l0.8 0.9zM69.2 75.5l0.8 0.3l1-0.3l-1-0.5l-0.8 0.5zM134.9 75.5l0.9 0.9l0.9-0.9l-0.9-1l-0.9 1zM154.4 75.5l1.1 0.2l0.6-1.2l-1.6-0.5l-0.6 0.5l0.5 1zM32.4 74.5l0.1 0l0.9-0.9l-0.9-0.1l-0.1 1zM39.0 74.5l0.9-0.9l-0.9-0.7l-1.1 0.7l1.1 0.9zM200.2 74.5l0.4 0.7l1.2-0.7l-1.2-0.4l-0.4 0.4zM97.3 73.6l0.9 0.6l0.5-0.6l-0.5-0.7l-0.9 0.7zM22.2 70.8l0.9 0.6l2.8 0l0.9-2.1l1.8-1.4l-1.7-1.8l0.3-1.9l-1.3-2.4l-1.6 0.5l-1.2 1.5l-1.9-1.6l-1 0.7l0 6.5l1.3 0.4l0.7 1zM23.1 68.6l0-1.2l0.9 0.4l0 0.4l-0.9 0.4zM41.5 70.8l1.3 0.8l0.7-0.8l-0.7-0.4l-1.3 0.4zM225.2 70.8l1.7 0.4l1.8-0.8l8.5 1.1l0.9-0.4l2.9 0.1l1.8-1.2l2.8 0.2l1-0.6l0.9-0.8l0-4.9l-0.9 0.6l-0.5-0.3l-0.1-1.9l0.6-2.4l-1-0.2l-2.8 3.3l-2.2-0.7l-0.6-1.2l-2.8 0.6l-2.8 1.4l-1.9-0.1l-1.2-0.7l0.9-2.8l1.2-0.6l1.9 0.1l2.6-1.4l0.8-0.9l1.3 0.2l1.9 2.2l1.1-0.5l0.5-1.9l1.6-1.9l0-0.9l-3.2-3.1l-0.9 0l-1.2 1.2l-2.6 0.4l-1.5-1.3l0.1-1l-1.4-1.4l-1 2l-0.9 0.3l-0.9-0.5l-1.9 3l-2.1 0.4l0.1 0.9l1.3 1l0.4 0.9l-2.8 2.8l-0.2 1.9l-1.4 0.8l-1 0.1l-0.9-0.7l-0.9 0.4l-1 2.7l-0.9 0.3l-1.1-1.7l-1.7-1l-1.3 0l-0.7 2.8l-1.2 1.9l0.1 0.9l1.2-0.3l2.8 0.3l1 0.3l1.8 1.9l1.9-0.7l2.1 1.4zM230.6 58.1l-0.6-3.3l1.6-0.6l1.4 1.6l-2.4 2.3zM48.4 66.1l1.9 0.5l0-1.4l-2.4-0.1l0.5 1zM198.3 64.2l1.6 0l0.6-3.8l-0.2-1.8l1-1.9l0.2-2.7l0.8-1.1l-0.8-0.3l-1.4-7.2l-1.4-1.9l-2.8-1.8l-1-0.1l-1.8 0.8l-3.8-2.5l-3.8 0.7l-1.8-0.3l0.1-4.2l1.1-1.9l0.7-2.8l-0.2-1l-0.8-0.5l-4.7 4.1l-3.8 0.5l-0.8 0.6l0.4 6.6l-2.4 2l-2.8 0.9l-0.8-0.1l0.5-2.8l-0.4-1l-1.2-0.4l-0.6 0.4l-0.9 2.9l-1.3 0.9l-0.2-2.8l-0.7-1l-1.7 1l1.2 1.9l0.1 0.9l-0.6 0.7l-4.7 1l-3.7-2.7l-1.9-2.8l-0.9-0.3l-0.1 1.3l0.8 1.9l1.9 0.9l-1.7 1.5l-2.4-1.5l-3.2 0l-1.9 0.6l-0.9 1.4l-1.9-0.7l-1.9 1.7l-0.9 0l-1-0.6l-5.6 1.1l-1.9-0.5l-2.8 0.8l-5.1 3.7l0.1 2.8l1.2 1.4l3.8-0.1l1.9 1.7l3.7 0.6l1.2 2l1.4 1l1.2 1.7l1.9-1l0.9 0.6l1.9-0.9l3.7 1.3l1.9-1.2l1.9 0.7l1.9-1.1l1.8 0.4l2.9-0.7l1.8 0.3l1-1.1l0.9-0.2l1 1.2l0.9 0.3l2.8-0.7l1.9 0.6l1.9-0.1l3.7 1.9l1.4-2l5.2-1.3l1 0.3l1 1.9l1.8 0.8l4.7-2.9l1.8 0.1l1.9-0.5l1 0.6l0.5 2.9l2.3 0.9l2.4 0zM92.1 62.3l0.5 0.4l0.9-0.2l0.3-1.1l-0.7 0l-1 0.9zM36.5 59.5l1.6 0.3l1.6-1.2l-0.3-1l-1.3-1.2l-0.9-0.2l-1.9 0.9l-1.9-1.2l-1.9 0.7l1 1.8l1.8-0.1l2.2 1.2zM87.4 59.5l1.4 0.7l0.9-0.5l0.1-2.1l-2.2 1l-0.2 0.9zM94.6 58.6l1.7 0.6l0.7-0.6l-0.4-1.9l-1.2-2.3l-2.8-0.4l-0.5 0.8l0.5 0.8l1.8 1.1l-0.5 0.9l0.7 1zM223.4 58.6l0.6 0.7l0.9-1.7l-0.9-1.8l-0.9 0.8l0.3 2zM20.2 56.7l0 0.5l1.8-0.5l0.2-0.9l-1.1-1l0.1-0.9l1.6-1.9l-2.1-1.9l-0.5-2.1l0 8.7zM110.3 56.7l0.2 0l1.4-0.9l-1.5-0.3l-0.1 1.2zM98.5 55.8l1.6 0.9l4.7-4.4l0-3.1l0.8-1l-0.7-1.8l-2.5-2.8l2.2-1.9l0.2-1l5.6-0.4l5.6 0.4l3.8-1.9l4.8-0.9l3.7-2.2l3.7-0.2l0.9-0.5l1.9-2.3l2.8 0.9l1.1-1.3l-1.7-1.9l-0.3-1.5l-1.9 0.9l-0.9-0.3l-1.9-1.6l-2.8 0.3l-1.9-0.5l-2.8 0.1l-2.8 1.2l-3.1 0.5l-0.7 0.9l-2.8 0.7l-1.9-0.3l-2.8 0.6l-1.2 0.9l-2.5 0.3l-2.9 1.1l-4.7-0.8l-1.1 1.3l1.3 0.9l-1.1 0.7l-1.9-0.6l-0.5 0.9l0.2 1.8l1.3 1l0.2 0.9l-0.9 2.8l-0.3 3.1l-0.9 1.3l-1.9 1l0 2.3l-2.7 0.8l0.8 1.6l1.9 0.2l1.9 0.9l1.9-0.3l0.9 0.4l0.3 1.9zM214.5 53.9l0.2 0.2l2.9-1.2l-0.9-0.9l-1.1 0.1l-1.1 0.8l0 1zM246.5 53.9l1 0.9l0-4.3l-1.3 2.4l0.3 1zM114.9 52.9l1.1 0.6l1-1l0-0.9l-1-0.3l-0.9 0.4l-0.2 1.2zM120.5 52.9l2-0.9l-0.5-0.9l-1.3 0.2l-0.6 0.7l0.4 0.9zM34.2 52.0l1.1 0.4l0.2-0.4l-0.2-0.1l-1.1 0.1zM28.2 47.3l0.5 0.5l1.1-0.5l-1.1-0.3l-0.5 0.3zM35.9 47.3l0.3 0.6l0.8-0.6l-0.8-0.5l-0.3 0.5zM87.6 47.3l0.3 0.3l0.9-0.5l0.2-1.7l-1.1-1.1l-1.9 0l-0.9 1.4l2.5 1.6zM43.7 46.4l1-0.3l2.2-2.5l-0.4-1.5l-0.9 0.1l-1.9 2.1l-0.9 0.2l-1-1.6l-0.9 0.1l-0.4 0.6l-0.3 0.9l1.6 0.4l1-0.3l0.9 1.8zM52.1 45.4l0.5-0.9l-1.4-0.3l-0.2 0.3l1.1 0.9zM205.1 45.4l3 0.8l1.4-1.7l-5.2-1.1l-0.8 1.1l1.6 0.9zM94.1 43.6l0.3 0.3l0.3-0.3l-0.3-2.2l-0.9-0.2l-1.3 0.5l-0.5 0.9l2.4 1zM234.0 43.6l0.4 0.3l0.2-0.3l0.1-2.9l1.3-1.8l-0.4-1.9l0.5-0.9l3-1.6l0.9 0.4l1-0.3l3.7 2.5l0.1-2.9l-2.9-1l-0.9-1.4l-1 0.2l-0.9 1l-1.9-1l-1.9 1.8l-1.9-0.3l-1.8-1.1l-1 0.3l-0.4 0.5l0.3 1l2 0.4l0.6 2.4l-2 4.7l1.4 1.4l1.5 0.5zM25.1 41.7l0.8 0.9l0.9-0.9l-0.9-0.9l-0.8 0.9zM203.8 41.7l0.5 0.4l2.1-1.4l0.7-1.3l1-0.1l4.7 1.2l0.9-0.9l-0.9-1.2l-1-0.1l-0.3-3.2l0.3-0.5l1 0.2l0.9 1l1.8-0.7l-0.2-0.9l-1.6-1.2l-2.8 0.1l-0.8-1.7l-3-1l-1.8-2.2l-1.6 0.3l-0.3 0.6l-1-0.1l-0.2 0.5l1.2 0.3l1.5 1.6l-0.1 0.9l-2.4 0.2l-1.8-0.7l-1.9 0.8l-2.8 0.3l1.8 2.2l0 1l-1.7 1.8l0.8 1.8l1.9 0.2l0.9 0.7l1.9-1.6l0.9 0.1l0.9 0.7l0.5 1.9zM243.3 41.7l1.4 0.6l0.9-0.6l1.7-1.9l-0.3-0.9l-0.4-0.3l-1 0.4l-0.9 1.1l-1.4 0.6l0 1zM89.3 40.7l0.4 0.3l1-0.6l0.3-0.6l-0.3-0.7l-1-0.3l-0.9 0.8l0.5 1.1zM142.9 37.9l1 0l-0.6-1l-0.9 0.1l0.5 0.9zM59.9 37.0l0.7 0.4l1.2-0.4l-1.2-0.8l-0.7 0.8zM167.6 37.0l1-1.6l1.7-1.2l-0.1-1.9l0.3-0.5l1-0.5l1.8 1.3l1.6-0.3l0.4-0.9l-0.8-2.9l0.7-0.9l1.9 0.5l0.6-0.5l0-1.9l-1.3-2.8l1.8-1.9l0.4-3.7l-0.6-1.5l-1.9 0.1l-0.3-1.4l-46.3 0l-0.4 0.9l0.5 2.8l1.1 1l2.2 0.5l1.9 1.2l3.8-0.1l2.8-0.8l2.8 0.2l2.8 0.8l2.9-0.5l3.7 0.8l5.6 2.7l1.9-0.4l0.7 0.3l-0.2 2.8l1.4 0.9l0.5 0.9l-0.5 1l-1.3 0.9l1.4 2.8l-0.9 1.9l1.7 1l1.9-0.2l1.8 1.1zM219.0 37.0l2.2-0.1l2.8 0.7l3.5-0.6l1.2-1.9l0-0.9l-0.9-0.5l-2.8 2.6l-0.5-1.2l0.5-1l1.2-0.9l0.7-2.1l1.8 1.4l1-0.2l0.8-1.9l-0.6-0.9l-1.2-0.4l-1.8 1.1l-1.9 0.1l-2.8 2.2l-0.3-2.1l-0.7-0.5l-0.6 2.4l-1.5 0.9l-0.4 1l-0.5 1.9l0.8 0.9zM190.6 35.1l2.5 0.1l0-0.9l-2.3-2l-1.3 0l-0.2 1.2l1.3 1.6zM20.2 32.3l0 0.7l2.5-0.7l0.7-1.9l0.6-0.2l0.9 0.8l1.5-0.6l1-0.9l-0.4-1l-3.9-1.8l-2.9-0.5l0 6.1zM193.1 32.3l1.8 0l1-0.9l0.3-1l-0.3-0.9l-2.8 2.8zM247.3 32.3l0.2 0.2l0-6.2l-0.9 0.4l-2.8-0.5l-2.9 1.4l-0.1 0.9l2 2.9l2.8-0.4l1 0.4l0.7 0.9zM77.5 30.4l4.7 0.4l2.1-1.3l-1.1-0.7l-1 0.9l-0.9 0.1l-2.8-1.3l-1.4 1l0.4 0.9zM233.6 30.4l0.8 0.3l0.4-0.3l-0.4-0.7l-0.8 0.7zM103.8 28.5l2.9 0.1l0.5-1l-2.4-1.1l-1.3 1.1l0.3 0.9zM66.5 25.7l0.7 0.6l1.3-0.6l-0.4-0.9l-0.9-0.4l-0.7 1.3zM185.2 25.7l0.3 0.5l0.7-0.5l-0.6-1.8l0.8-1l-0.3-1.9l0.4-1.8l-1-1.6l-1.1 4.4l1.1 1.9l-0.3 1.8zM59.4 24.8l0.3 0.5l1-0.5l-1-0.6l-0.3 0.6zM44.7 22.9l0.9 0.5l0.3-0.5l0.1-0.9l-0.4-0.5l-0.9 1.4zM103.6 22.9l1.2 0.3l0.4-1.2l-1.4-0.5l-0.4 0.5l0.2 0.9zM202.2 22.9l0.2 0.5l1-0.4l0-1l-1-0.3l-0.2 1.2zM237.8 22.9l0.3 0.2l0.5-1.1l-0.5-0.7l-0.8 0.7l0.5 0.9zM245.5 22.9l2-2.2l0-6.2l-2.4 0l-1.7 2.8l2.5 2.8l-0.5 0.9l0.1 1.9zM92.8 22.0l1.1 0l0.5-1l-0.9-0.3l-0.7 1.3zM25.9 20.1l6.6-0.6l1.8-1.3l1.2-1.8l-1.2-0.5l-1.8 0.7l-2.3-2.1l-10 0l0 3.1l1 1.6l0.9 0.7l3.8 0.2zM35.8 20.1l0.4 0.5l0.6-0.5l-0.6-0.6l-0.4 0.6zM50.7 19.2l0.7 0l0.4-1l-0.6-1.2l-0.8 1.2l0.3 1zM77.0 19.2l0.8 0l0.4-1.9l-1.2-2.8l-0.7 0l-1 1.9l1.7 2.8zM39.0 18.2l1.7 0l0-0.9l-0.7-0.6l-1 0.1l-0.4 0.5l0.4 0.9zM207.7 17.3l0.4 0.3l0.9-0.3l-0.9-1.1l-0.4 1.1zM192.3 15.4l0.8 0.4l0.5-0.4l-0.5-0.6l-0.8 0.6zM228.9 15.4l0.8 0.9l0.4-0.9l-0.4-0.6l-0.8 0.6z"/>
<path fill="#fee79a" fill-rule="evenodd" d="M54.6 89.5l1.3 0.3l0.4-0.3l-0.4-1.3l-1.3 0.4l0 0.9zM67.8 89.5l0.3 0.6l1 0l2.1-0.6l-1-0.9l-1.1-0.3l-1.3 1.2zM79.3 88.6l1.1 0.2l0.2-0.2l-0.2-0.5l-1 0l-0.1 0.5zM169.2 86.7l1.3 0.8l1.9-1.4l3.7 0.4l2.9-0.5l1.8 1.2l3.8-1.1l2.8 0l4.5-3.1l0.3-1l-1.7-0.9l-1.2-2.1l-3.8-0.3l-3.7-1.4l-2.8 0.3l-1.9-0.7l-2.8 0.8l-1.9-1.1l-2.8-0.4l-2.1 1.1l-2.6-0.3l-2.8 0.9l-1.9 0l-1.9-0.9l-1.9 1.4l-3.9 0.8l0.2 1.9l-1.1 0.9l1.1 0.1l1.8 1.6l3.8 0.7l1.9-0.3l1.9 1.3l4.7-0.1l2.4 1.4zM80.0 76.4l2.5 0l0.4-0.9l-0.5-1l-3-1.3l-2.7 1.3l0 1l3.3 0.9zM75.3 74.5l0.4 0.6l0.8-0.6l-0.6-0.9l0.2-1.9l1.9-1.9l0.5-1.3l2.2-0.6l0.2-1.8l-0.5-1.2l-2.9-1.5l-2-2l-1.7-2.5l-1.9 0.3l-1.3-0.6l-1.4-2.8l1.8-0.3l2.8 1.7l0.9-0.4l0.9-1l-0.2-1l1.2 0.8l1.2-0.8l0-1.9l-1.2-1.5l-0.9 0l-3.8 1.5l-0.3-0.9l-2.5-1.6l-1 0l-0.9 1.3l-0.9-0.3l-2.2-2.2l-1.6-0.4l-0.2 2.3l0.9 1.8l0 1.9l5.3 1.9l-1 0.9l1.3 1l-0.2 0.9l-0.5 0.2l-1.8-1.6l-3.7-1.4l0.2-0.9l-1-1l-1.2-0.2l-0.6 1.2l1.1 1.8l-0.3 1l-1.1 0.4l-0.9-0.4l-1.3-1.9l1.4-2.8l-0.4-1l-1.6-0.6l-1.3 2.5l-0.7 2.8l-0.8 1l-1.3-1l0.7-1.8l-0.4-1.3l-0.9-0.2l-1 0.9l-1.8 0.1l-0.5 0.5l-0.9 2.8l0.4 1.1l1 0.2l0.9 1.1l1.9 0.5l1.9 1.9l0.9 0.5l1.9-0.4l0.9 0.7l0.6 1.9l2.7 2.8l1.4 0l1.9-0.9l1.9 0.2l1.8 0.9l4.7-0.2l1.2 0.9l0 1l-1.3 1.8l2.6 1.9zM240.0 70.8l1.9-1.2l3.7-0.7l1.9-1.6l0-1.3l-1.9-0.3l-1.8-1.9l-4.7-0.4l-1.9-0.6l-2.8 0.9l-4.7-1.1l-0.2 0.7l-0.8 0.4l-2.8 1l-1.9-1l-0.3 1.4l-1.5 0.5l-1.2 1.4l0.2 1.1l2-0.2l2.7 1.8l1.9-0.3l7.5 1.3l2.8-0.6l1.9 0.7zM20.2 67.9l0 0.5l1-0.1l1.2-2.2l0.1-1l-1.3-1.4l-1 0.2l0 4zM25.2 67.9l0.7 0.5l0.3-0.5l-0.3-1.7l-1 0.2l-0.2 0.6l0.5 0.9zM194.7 62.3l0.2 0.6l3.8 0.1l0.9-0.9l0.2-3.5l1.2-1.9l0.4-3.8l-1.8-7l-3.5-0.5l-1.2-2.1l-0.9 0.6l-1.8-0.3l-1.4-1.9l-1.5-0.8l-4.7 0.3l-1.9 0.8l-1.6-0.3l1.4-1.9l0.2-1.9l0-2.8l-0.9-0.7l-4.7 0.6l-0.9 1.1l-0.3 3.7l0.4 2.8l-1.2 1l-0.8 1.7l-1.9-0.5l-1.9 0.7l-2.8-0.5l-2.7 1.4l-5.8 0.5l-2.8-1.7l-2.8 1.5l-0.9 0l-1.9-1.3l-2.8-0.1l-1 0.3l-0.8 1.7l-1 0.4l-1.9-0.9l-2.8 1.4l-1.9-0.5l-9.4 1.4l-3.4 2.9l-0.9 1.9l0.5 1l3.8 0.5l1.9 1.3l3.7 1l1.9 1.6l1.9 0.2l0 1.3l2.8-0.5l4.7 0.9l0.9 0.6l1.9-0.9l1.9 0.7l2.8-1.3l4.7 0.1l2.8-1.2l1 0.3l0.9 1.1l6.6-0.1l2.8 1.2l7.5-2.3l2.7 0.1l2.9 1.2l2.9-1.4l3.7-0.3l1.4 0.5l1.2 2.8zM229.5 61.4l0.2 0.8l0.5-1.8l-0.5-0.4l-0.2 1.4zM37.0 58.6l1.1 0l0-1l-0.9 0l-0.2 1zM233.3 57.6l2 0.6l1.4-0.6l0.6-0.9l-1-3.8l-1.9-0.3l-1.2 1.3l0.8 1.9l-0.7 1.8zM83.9 56.7l0.2 0.5l1-0.3l0.4-1.1l-1.4-0.7l-0.2 1.6zM239.8 55.8l2.1-0.1l1.3-0.9l-0.5-0.9l-1.7-0.6l-1.9 0.4l-0.3 1.1l1 1zM41.5 54.8l0.3 0.5l1.2-0.5l-1.2-1.3l-0.4 0.4l0.1 0.9zM45.4 54.8l0.2 0.4l1.5-1.3l-0.6-1.1l-1.3 1.1l0.2 0.9zM100.9 53.9l2.9-2.7l-0.3-2l0.7-1.9l-2.2-2.9l-1-0.3l-0.9 0.7l-0.9-0.3l-0.1-3.6l3.8 0.5l1.9-1.8l11.2 0.4l2.9-2.5l4.7-0.2l2.8-1.2l0.9-1.3l2.8 0.3l1.9-0.3l0.8-0.6l0.7-3.8l-1.9-1.9l-2.4 0.4l-2.8-0.6l-1.9 0.1l-2.8 1.6l-1.9 0.2l-0.9 1.2l-5.7 0.2l-6 1.6l-2.4 1.7l-2.8-0.4l-2.9 2l-2.3 0.5l1.9 1.9l0.3 1.8l-0.8 0.3l-0.7 1.6l0 1.9l-1.2 3.3l-1.4 1.4l-0.5 2.8l1.9 0.8l2.8-0.3l1 0.4l0.8 1zM68.5 47.3l0.6 0.5l0.9-0.1l1-1.3l-1-0.7l-0.9 0.5l-0.6 1.1zM76.2 46.4l0.4 0.4l0.7-1.4l-0.4-0.9l-2.2-1.9l-0.5 1l1.2 0.9l0.8 1.9zM80.3 46.4l1 0.4l0.4-0.4l-0.2-1l-0.9-0.9l-0.2-1.3l-1 0.4l-0.7 1.8l1.6 1zM233.0 41.7l0.4 0.4l0.2-0.4l-0.2-2.1l-0.4 2.1zM199.2 37.9l0.4 0.9l1.9-1.1l0.3-0.7l-1.2-0.2l-1.4 1.1zM207.2 37.9l1.8 0.2l1.4-1.1l-0.4-2.3l-1-1.2l-1.9 1.6l-3.7-1.6l-1 0l-0.7 0.7l0.7 1l4.8 2.7zM234.2 37.0l0.2 0.3l0-1.9l-0.4 0.7l0.2 0.9zM219.3 35.1l1 0.9l1.4-0.9l0.2-0.9l-0.7-1l-0.9 0l-1 1.9zM222.7 35.1l0.4 0.5l0.9-1.1l1.2-2.2l-0.2-0.5l-1 0.4l-1.4 2l0.1 0.9zM163.9 34.2l2.9 0.6l1.8-0.7l0.8-0.9l-0.6-0.9l1.7-1.5l1-0.2l1.8 1.2l1-0.4l-0.7-1.9l0.2-1.9l2.1-1.9l-0.6-2.8l0.3-0.9l1.6-1l0.1-0.9l-1.4-2.8l-1.6-1.6l-5.7-0.6l-0.8-0.6l-36 0l-0.7 0.9l-0.6 1.9l0.2 0.9l2.2 0.4l1.9 1.7l1 0.2l5.6-1.1l2.8 0.1l2.8 1l2.9-0.9l1.8 0.8l2.8 0.2l1.7 1.4l3 1.2l2.9-0.7l0.7 0.4l0.4 1l-0.8 1.8l2 2.8l-1.5 2.9l1.1 1.8l-0.1 1zM243.0 30.4l4.5 0.3l0-3.6l-2.8-0.1l-1.6 0.6l-1 0.9l0.9 1.9zM20.2 29.5l0 0.6l1 0.2l2.6-1.8l-1.2-0.9l-2.4-0.5l0 2.4zM24.9 19.2l2.9 0.1l2.4-1.1l-0.1-1.8l-0.5-1l-2-0.9l-0.8 0.3l-0.9 1.4l-1.9-0.4l-0.9-1l-1-0.3l-0.9 0.5l-0.4 1.4l1.1 1.8l3 1zM76.4 17.3l0.8 0l-0.6-1.6l-0.4 0.7l0.2 0.9zM246.7 16.4l0.8 0.5l0-1.7l-0.9-0.4l-0.4 0.6l0.5 1z"/>
<path fill="#fdd163" fill-rule="evenodd" d="M169.3 85.8l1.2 0.4l1-0.8l5.6 0.2l3.7-1.4l6.6 1.3l1.2-0.7l1.6-1.8l-0.1-1l-1-1.9l-0.7-0.3l-2.9-0.2l-2.8-0.9l-1.9 1.3l-3.7-1.6l-2.8 0l-2.8-1.2l-4.7 0.9l-1.9-0.3l-1.9 0.9l-4.7-0.4l-0.9 1.4l-1.9-0.3l-0.4 0.7l0.4 1.9l1 1l4.6 0.2l2.8 1.6l2.9 0l2.5 1zM79.4 75.5l1.9 0.3l0.6-0.3l-0.4-1l-1.1-0.4l-1.3 0.4l0.3 1zM228.7 68.9l6.6 0.9l1.9-1l0.9 0l1.9 0.9l1-0.8l1.9 0l2.6-1l0.4-0.9l-2.1-0.8l-2.8-2.2l-1.9 0.4l-1.9-0.8l-1.9 0.6l-3.7-0.4l-1.4 0.4l-0.5 1.9l-1.6 1.8l0.6 1zM61.2 67.9l0.4 0.4l1.8-1.1l1 0l4.7 1.1l1.9-0.6l2.8 0.8l2.8-0.1l2.5-1.4l0.7-0.9l-0.5-1l-1.8-0.8l-4.7-3.7l-2.8-0.8l-1.9 0.7l-2.8-0.1l-0.9-0.4l-0.3-1.4l-1.6-0.6l-2.8 2.1l-0.9-0.2l-1.9-1.8l-1 0.1l-1.4 4.1l0.5 0.5l1.9-0.1l3.7 1.4l0 2l0.6 1.8zM197.7 62.3l1.4-0.9l0.4-1l-0.3-1.8l1.4-1.9l0.6-2.8l-0.1-1.9l-1.5-4.5l-1.8-0.4l-5.4-2.6l-3.1-2.7l-0.9-0.2l-4.7 0.5l-2.6 1.5l-1.2 2l-2.8 1l-1 0.2l-3.7-1.1l-1.9 0.4l-2.8-0.3l-1.9 1.1l-5.6 0.5l-4.7-0.8l-2.8 0.7l-1.9-0.6l-4.7 1.5l-2.8-0.3l-2.8 0.8l-1.9-0.4l-8.5 1.3l-1 0.5l-1.9 2.8l1.1 0.4l1.8 1.9l2.8 0.9l3.8 2.3l1.9-0.1l1.9 0.9l3.7 0.7l2.8-0.9l1.9 0.9l2.8 0.5l1.9-0.9l4.7 0.3l3.8-1.2l2.8 1.2l1.9-0.3l1.8 0.5l1.9-0.6l1.9 1l4.7-0.5l3.7-1.1l1.9 0l3.8 0.9l2.8-1.2l2.8-0.1l1.1 0.2l2.6 2.8l1.9 0.9zM235.2 57.6l1.1-0.8l0-0.2l-1.6 0.1l0.5 0.9zM66.9 54.8l1 0l0.8-0.9l-3.4-2.1l-0.9 0l0 1.4l2.5 1.6zM95.6 52.0l2 0l0.6-2l0.9 0.1l1 1.1l1.9-0.2l0.7-0.9l0.5-1.9l-0.3-1.3l-1.9-1.6l-1.9 1l-0.9-1l-0.3 1.1l0.4 0.9l-2.9 3.3l0.2 1.4zM177.5 42.6l0.5 0.3l1-0.4l2.6-2.7l0.3-2.8l-1.1-1.4l-2.4 0.5l-1.9 2.8l-0.1 0.9l1.1 2.8zM100.0 39.8l2 0.6l2.8-1.5l8.4 0.4l0.7-0.4l0.3-1.2l1.8 1.4l2.9-2.3l4.7-0.1l1.7-0.6l2-3.9l1.4 2l2.4 0.1l1.2-3.9l-0.3-0.9l-0.9-0.5l-2.8 1l-2.9-1.2l-4.7 2.8l-7.5 0.7l-2.8 1.1l-2.8 0.4l-2.8 3.1l-1.9-0.8l-2.4 0.9l-0.7 1.9l0.2 0.9zM165.7 33.2l1.1 0l1.8-2.5l3.5-1.2l1.2-2.8l0.9-1l0.2-5.6l0.6-1.9l0-0.9l-0.7-0.6l-1.9 0.2l-1.9-1l-1.9 0l-1.7-1.4l-3.6 0l-1.2 0.8l-1.1-0.8l-7.2 0l-2.1 1l-1.8-0.4l-1.9 0.4l-3-1l-10.4 0l-2.2 0.9l-0.2 1l1.1 0.9l0.9 1.9l1.6 0.9l5.6-1.3l2.8 0.1l2.8 0.9l1.9-1.1l3.8 1.3l2.8-0.8l0.9 1.9l1 0.1l0.9-0.5l1.8 1.3l2.9-0.8l1.4 2.7l-0.4 1.8l1.5 3.8l-1.8 1.9l2 1.8zM243.7 29.5l1 0.5l0.9-0.1l1.2-0.4l0.6-1l-2.7-1l-1 1l0 1zM26.1 18.2l2.1 0l0.6-0.9l0-0.9l-1-0.4l-1.6 1.3l-0.1 0.9z"/>
<path fill="#fcb53f" fill-rule="evenodd" d="M173.4 84.8l2.6 0l3-1.4l3.7 0l0.9-0.4l0.5-1.9l-0.3-1l-3 0.8l-9.3-2.8l-4.7 1l-1.9-0.4l-1.3 1.4l0 1l2.2 2.8l1.9 0.3l3.8-1.1l1.9 1.7zM185.4 84.8l2.2 0l0.3-0.9l-1.4-1.6l-0.3 0.7l-1.5 0.9l0.7 0.9zM159.5 81.1l0.7 0.7l1.4-0.7l-0.6-1l-0.8-0.2l-1 0.2l0.3 1zM232.3 68.9l1.1 0.2l3.8-1.3l1.9 0.6l1.9-0.8l1.8 0.4l0.1-1l-1.9-2.1l-1 0l-0.9 0.7l-1.9-1.2l-1.9 0.6l-3.7-0.4l-0.8 2.4l0.2 0.9l1.3 1zM67.4 67.0l1.7 0.6l1.9-0.8l0.9 0.1l1.9 0.8l2.8-0.6l1.5-1l-3.1-2.8l-2.2-0.7l-1-1.2l-1.8-0.8l-5.6 1.1l-1 1.2l-1.1 0.4l-0.3 0.9l1.8 1.9l1.5 0.7l2.1 0.2zM197.0 61.4l1.2 0l0.5-1l-0.3-1.8l1.2-1l1.1-1.8l0.4-2.9l-1.5-4.2l-2.8-0.7l-8.4-5.6l-4.5 0.2l-1.5 1l-1 1.8l-1.5 1.2l-2.8 0.9l-4.7-1l-12.2 1.5l-5.7-0.7l-3.7 0.4l-1.9 0.8l-5.6 0l-3.8 0.8l-1.9-0.4l-7.6 2.2l-0.1 1.8l1.2 1.9l2.6 1l3 1.9l1.9-0.3l2.8 1.4l2.8 0.5l2.8-0.9l1.9 0.7l1.9-0.6l0.9 0.6l1.9-0.4l4.7 0.5l3.8-1.3l6.5 1.4l2.9-0.8l1.8 0.8l1.9-0.2l1.1 0.4l2.7-0.9l3.7-0.4l3.8 0.8l4.7-1.1l2.8 0.4l3 3.1zM100.4 50.1l1.4 0l0.5-0.9l-0.3-1.8l-1-0.4l-0.9 0.1l-0.8 1.1l1.1 1.9zM177.8 41.7l0.6 0l2.4-2.3l0.5-1.5l-0.5-1.3l-0.9-0.3l-0.9 0.5l-2 2.1l-0.1 0.9l0.9 1.9zM102.2 38.9l0.7 0.1l1.2-1.1l-1.2-0.8l-0.8 0.8l0.1 1zM106.3 37.9l1.3 0.8l4.7 0l0.9-0.6l1-1.7l1.8 1.4l2.9-1.6l4.7-0.1l1.4-1l0.6-2.8l1.2-1.9l-1.4-1l-4.7 2.9l-7.5 0.9l-2.8 1.4l-1.9-0.4l-1 0.9l-1.2 2.8zM129.0 33.2l0.2 0.3l1.1-0.3l-1.1-1.1l-0.2 1.1zM165.2 31.4l1.6 0.5l0.7-1.5l-0.7-0.4l-1.6 1.4zM166.1 28.5l0.7 0.7l0.9 0l1.9-2.6l0.5 0.1l0.4 1l1 0.1l2.2-3l0.1-1.9l-0.5-2l-2.8 0.8l-1.1-0.7l-0.2-1.8l2.3-0.2l0.6-0.8l-0.6-1.2l-1.9-0.4l-0.7 0.7l-0.3 1.8l-0.9-1l-0.8-2.7l-1.1-0.6l-1.7 0.6l-0.9 1l-1.1 0.1l-2.3-2l-2.1 0l-3.2 0.3l-1.8 1.2l-2.8 0.3l-0.9 1l2.7 2l1 0.1l2.8-1l4.7 2.3l2.8-0.6l0.9 0.4l1 2.3l1 1.1l-1 1.8l1.2 2.8zM135.0 19.2l1.7 0.3l4.7-1.3l4.7 0.5l2.7-1.4l-2.7-2l-5-0.8l-5.3 0l-2.1 0.9l-0.1 1l1.4 2.8z"/>
<path fill="#f9962a" fill-rule="evenodd" d="M173.6 83.9l1.6 0.4l0.9-0.4l0.3-0.9l-0.4-1.9l-2.3-1.9l-2.2-0.4l-2.9 0.8l-1.3 1.5l1.3 1.1l3.8 0l1.2 1.7zM178.8 82.0l1.1 0.5l1.1-0.5l-1.1-0.5l-1.1 0.5zM233.1 67.9l1.3 0.2l2.8-1.1l0.2-0.9l-1.1-0.5l-2.9 1.1l-0.6 0.3l0.3 0.9zM65.1 66.1l4 0.6l1.9-0.9l0.9 0l1.9 0.8l0.9-0.4l0.6-1.1l-0.6-1.1l-2.6-0.7l-2-1.9l-1-0.1l-2.8 1.2l-1-0.1l-0.8 0.9l-0.4 1.8l1 1zM143.9 58.6l1.3 0l1.8-0.7l1.9 0.5l1-0.4l3.7-0.1l4.7 0.7l3.8-1.2l6.5 1.1l1.9-0.7l3.8 0l1.8 0.8l1.9-0.7l4.7-0.2l3.8 0.7l3.7-1l2.9 0l3.7 1.8l3.2-2.5l0.9-3.8l-1.3-3.4l-0.9-0.7l-2.8-0.5l-5.7-4.2l-2.8-0.9l-3.7 0.4l-0.9 0.9l-0.1 2l-1.9 0.1l-3.7 1.4l-3.8-0.6l-6.5 0.7l-4.7-0.1l-1.9 0.5l-3.8-0.1l-1.9-0.5l-2.8 0.3l-1.8 1l-6.6-0.2l-3.8 0.7l-1.9-0.4l-4.7 1.4l-1.9 1.3l-0.2 0.9l0.3 1l4.7 2.8l0.9 0.4l1.9-0.5l5.3 2zM177.9 39.8l0.1 0.4l2.1-1.3l0.2-1l-0.4-0.6l-1.9 1.6l-0.1 0.9zM107.8 37.9l4.5 0.1l1.1-1.9l-0.2-0.9l-0.9-0.4l-2.8 0.6l-1.6 1.6l-0.1 0.9zM115.3 36.1l0.7 0.5l1-0.1l1.9-1.3l1.8 0.3l0.5-0.4l0.1-0.9l-0.6-1l-3.7 0.3l-2.1 1.6l0.4 1zM123.2 34.2l0.4 0.4l0.9-1.4l0-1.6l-0.9 0l-1 0.7l-0.3 0.9l0.9 1zM166.1 27.6l0.7 0.6l0.9-0.3l0.9-2.3l3.8-0.2l0.6-2.5l-0.6-0.7l-1.9 0.2l-2.5-0.4l-0.1-1.9l-1.8-1.9l-0.3-1l-3.7 0.3l-1-0.5l-1.1-1.6l-1.7-0.5l-3.8 0.5l-3.6 1.9l0.8 1.2l1 0.1l1.8-0.8l1 0l2.8 0.7l1.9 1.4l3.7-0.5l3.8 3.5l-0.3 1l-1.8 1.8l0.5 1.9zM135.1 18.2l0.7 0.7l0.9-0.2l0.9-1.7l1.9 0.8l4.7-0.3l1 0.5l1.8-0.7l-0.3-0.9l-0.6-0.4l-1.9 0.1l-4.7-1.3l-0.9 0.9l-1 0.1l-0.9-0.8l-1.3 0.4l-0.9 1l0.6 1.8z"/>
<path fill="#f37524" fill-rule="evenodd" d="M168.6 81.1l1 0.3l1.9-0.6l2.8 0.7l0.2-0.4l-0.4-1l-1.7-0.7l-3 0.7l-0.8 1zM65.5 65.1l1.7 0.4l4.1-1.3l-1.3-1.9l-0.9-0.2l-3.4 2.1l-0.2 0.9zM143.3 57.6l0.9 0.5l2.8-0.7l1.9 0.4l1-0.4l4.6-0.2l1.9 0.1l1.9 0.8l2.8-1l1.9-0.2l3.8 0.9l3.7-0.6l5.6 0.4l1-0.4l9.4 0.6l6.6-1.1l3.7 1.6l2.9-1.6l1-3.8l-1.1-2.7l-0.9-0.7l-2.8-0.6l-3.8-2.4l-1.9-1.8l-2.8-0.7l-2.8 0.7l-0.9 2.2l-1 0.7l-1.9-0.2l-3.7 1l-15 0l-1.9 0.5l-5.7-0.5l-2.8 0.4l-1.8 0.8l-5.7-0.2l-4.7 0.8l-1.9-0.5l-3.9 1.4l-2 1.8l0.2 1l3.9 2.3l0.9 0.3l1.9-0.7l1.9 0.3l2.8 1.5zM109.3 37.0l1.1 0.2l1.9-0.2l-1-0.9l-2 0.9zM169.2 23.9l1.3 0.4l0.9-0.4l-0.9-0.7l-0.9 0.1l-0.4 0.6zM155.3 17.3l2.1 0.3l0.6-0.3l0.3-0.9l-2.8-0.5l-1.2 0.5l1 0.9z"/>
<path fill="#ee4f27" fill-rule="evenodd" d="M158.3 57.6l3.8-1.1l1.8 0l2.9 0.8l2.8-0.7l6.5 0.4l1-0.4l3.7 0.7l7.6-0.2l4.7-0.9l3.7 1.6l2.8-1.6l1-3.3l-1.9-2.8l-3.2-0.9l-3.6-1.9l-1.7-2l-2.8-0.6l-2.7 1.7l-1 1.7l-1 0.2l-10.3 0.9l-7.5-0.3l-4.7 0.4l-6.6-0.2l-4.7 1.1l-4.7-0.4l-4.7 0.7l-1.9-0.4l-2.8 1l-1.8 1.8l-0.2 1l3.9 1.9l1.9-0.5l2.8 0.2l2.8 1.7l1 0l11.2-0.7l1.9 1.1z"/>
<path fill="#dc1f33" fill-rule="evenodd" d="M157.8 56.7l0.5 0.3l1.9-0.7l3.7-0.3l2.9 0.7l2.8-0.6l2.8 0.4l4.7-0.3l3.7 0.8l5.7-0.7l1.9 0.4l4.7-1l3.7 1.6l2.8-1.8l0.6-2.6l-0.6-1.3l-1.8-1.4l-3.8-1.1l-1.9-1.2l-2-0.6l-0.8-1l-0.7 1l-1.2 0.3l-1.9-0.4l-0.9 1.3l-3.8 0.9l-11.2 0.6l-7.5-0.7l-1.9 0.4l-7.5-0.1l-3.8 1l-2.8-0.3l-5.6 0.5l-2.9-0.2l-2.8 1.3l-0.8 1l0 1l2.7 1.2l3.8-0.2l5.6 1.6l9.4-0.6l2.3 0.8z"/>
<path fill="#b8141f" fill-rule="evenodd" d="M195.8 56.7l1.5 0l2.3-2.3l0-2l-2.8-2l-5.6-2.2l-2.8 0.1l-3.8 1.2l-3.8 0.5l-7.5 0l-3.7 0.7l-4.7-1l-12.2 0.3l-3.8 1l-2.8-0.4l-3.8 0.7l-4.7-0.2l-2.8 1.8l0.2 1l0.8 0.3l4.7 0.3l5.6 1.4l10.3-0.4l1.9 0.9l1.9-0.8l6.6 0.5l2.8-0.5l2.8 0.5l4.7-0.3l3.7 0.7l5.7-0.7l2.8 0.2l2.8-0.8l1.9 0.4l1.8 1.1z"/>
<path fill="#9c1019" fill-rule="evenodd" d="M180.2 55.8l9.1-0.2l2.8-0.8l4.7 1.4l0.7-0.4l1.2-2.9l-1.9-2.1l-2.8-0.7l-2.8-1.4l-3.8 0.3l-2.8 1.3l-7.5 0.5l-3.8-0.4l-3.7 0.9l-4.7-1.2l-13.2 0.6l-2.8 0.8l-2.8-0.6l-3.8 1.1l-3.7-0.4l-0.8 0.4l-0.1 0.9l1.5 1l6 1.3l2.8-0.5l4.7 0.6l3.7-0.2l1.9 0.5l1.9-0.6l5.6 0.6l3.8-0.5l2.8 0.5l5.6-0.3l2.2 0.5z"/>
<path fill="#e6f5fb" fill-rule="evenodd" d="M218.1 89.5l0.3 0.6l1-0.6l-1-0.6l-0.3 0.6zM131.6 87.6l1.3 0.7l1-1.6l-1-1.1l-0.9-0.1l-1.1 1.2l0.7 0.9zM84.1 86.7l1.9 0.9l0.7-0.9l-0.7-1.1l-1.4 0.2l-0.5 0.9zM121.5 86.7l0.2 0.8l0.9-0.8l-0.9-0.4l-0.2 0.4zM243.7 86.7l1 0.3l0.7-1.2l0.2-3.7l-0.9-0.1l-1.1 1l-0.5 2.8l0.6 0.9zM53.3 85.8l0.8 0.3l0.9-0.3l0.8-1l-0.8-0.7l-0.9 0.1l-0.8 1.6zM64.5 84.8l0.8 0.7l3.8-1.9l6.6 0.9l0.8-2.5l-2.7-3.1l-2.8 1.1l-1.9-0.6l-1.5 0.7l-0.4 0.7l-2.8-2.3l-2.8-0.2l0.9-0.1l0.6-1.8l-2.5-1.2l-0.5 0.3l-0.4 1.9l-0.9 0.1l-0.6-1.1l0.4-0.9l-0.8-0.6l-2.8 1.1l-2.8 1.9l-1.9-1.2l-1.9 0.7l-1.6-1.9l0.6-1l-0.9-0.4l-0.2 1.4l-1.6 0.4l-6.6 0.3l-2.8-0.6l-5.7 1.4l-2.8-2.4l-3.7 1.5l-1-0.1l-0.7-2.4l-1.2-0.7l0 7.7l1-0.9l0.9 0.1l1 0.7l1.8 0.4l1.9 1.6l1.9-1.3l6.6 1.8l2.8-0.2l1.9 1.9l2.8-1.3l2.8 0.7l1.9-1.3l1.9 0l2.8-1.9l1.9 1.8l1.8-1.8l1 0.5l1.9 2.9l4.6-0.7l0.9 0.3l0.2 0.9zM79.8 84.8l1.5 0.4l1.8-1.3l0.3-0.9l-0.3-1.9l0.5-1l-0.4-0.8l-1.1-0.1l-1.7 1.2l-1.9-0.2l-0.3 0.9l0.5 2.8l1.1 0.9zM106.2 84.8l0.5 0.2l0.9-0.6l0-1.6l-0.9 0.6l-0.5 1.4zM230.3 83.9l2.6 0l0.3-0.9l-0.5-1l1.7-1.9l1.9 1.2l1.8-0.5l1.9-1.2l2.8 0.8l1.9-0.5l1.9 2l0.9-0.2l0-6.6l-1.9 0.8l-0.9-2.8l-2.8-0.7l-2.8-0.1l-1.9 1.3l-1.9-0.7l-1.9 1.1l-1.3-1.4l-2.4-0.8l-1.9 1.3l-2.8 0.3l-1.9-1.4l-0.9-0.1l-0.7 1.7l0.4 1.9l-0.7 0.9l-2.1 0.9l1.1 3.8l2 0.3l-0.3-2.2l1.2-0.3l3.8 2.1l1.8-1.3l1 0.3l0 1.1l-0.6 0.9l1.2 1.9zM90.5 83.0l2.1 0.5l0.6-0.5l0.6-1l-0.4-1.9l-1.8-1.3l-0.9-1.5l-3.8 0.7l-0.8 3.1l0.8 0.4l2-0.4l1.6 1.9zM217.9 83.0l0.5 0.9l0.9-0.9l-0.9-0.6l-0.5 0.6zM225.7 83.0l0.2 0.3l1-0.1l0.9-1.2l-0.9-0.9l-1.2 1.9zM101.9 82.0l1-0.5l1.2-2.3l-2.1-4.2l-1-0.2l-1.2 0.7l2.5 3.7l-0.8 1.9l0.4 0.9zM115.8 81.1l1.2 0.1l0.4-1.1l-2.1 0l0.5 1zM122.7 80.1l0.9 0.7l0.9-0.4l1-1.2l-1-0.9l-1.8 1.8zM113.3 79.2l1.8 0.6l0.2-0.6l-1.1-1.3l-0.7 0.4l-0.2 0.9zM214.8 79.2l0.8 0.5l0.7-0.5l1.8-2.8l-1.6 0.2l-1.7 2.6zM97.1 77.3l1.1 0.1l1.3-1l-1.3-0.5l-0.9 0.3l-0.2 1.1zM191.7 74.5l1.4 0.4l0.7-0.4l0.3-0.9l-1-0.8l-1.9 0.4l-0.7-2.4l0.8-1l1.8-0.3l1.8 1l2.9-2.2l1.3-0.4l0.5-0.7l1.9 0.5l0.9-0.3l0.4-1.3l-0.4-1.1l-0.9-0.6l-1.9 2.5l-4.7-1.7l-4.7 1.7l-0.9-0.1l-0.9-0.9l-1.9-0.3l-1.3 1.4l-0.2 0.9l0.6 1.9l0.9 0.9l2.8-0.6l0.2 0.7l-1.3 1.8l-0.1 1l1.2 0.5l1.9-0.3l0.5 0.7zM66.8 73.6l0.4 0.3l0.3-0.3l-0.3-1.6l-1.1 0.6l0.7 1zM132.7 73.6l0.2 0.6l1.9-2.1l1.9 0.7l0.9-0.4l1-1.6l-0.1-2.9l-0.9-0.7l-0.9 0.1l-2.8 1.6l-1 1.3l-2.8 1.5l-1.8-1l-1 0.1l-0.2 0.9l0.6 0.9l1.5 0.3l0.9-1.2l1 0l0.9 0.5l0.7 1.4zM141.8 73.6l0.5 0.4l1.9 0.2l1.9-1.3l2.8 0.6l1.9-0.2l1.9-1.6l3.7 1.3l1-0.3l0.9-1.3l0.9-0.4l1.9 0.6l1.9 2.3l0.9-0.3l1-1.9l1.9 1.5l1.8-1.5l1 0.3l0.4 1.6l2.4 0.5l1.9-1.7l4.7-0.4l2.8 0.2l1.4-0.5l-0.5-0.9l0.2-1l1.1-1.9l-0.5-0.9l-3.6-2.3l-0.9-1l-1.9 0.8l-1.9 0.1l-0.9 1l-1 0.2l-2.8-0.4l-1.9-1.2l-1.1 1.9l-1.7 1.3l-0.9-0.9l-1-2.1l-1 0.7l-0.8 1.9l-1 0.6l-1.7-1.5l-0.2-1.9l-1.8-1.2l-1 1.5l-2.2 0.6l1.1 1.9l-0.6 0.9l-1.1 0.3l-1.5-1.2l-0.9-2.8l-1.3-0.4l-0.9 0.4l0.4 2.8l-1.4 0.6l-1 0.1l-5.1-2.6l-0.7 0l-1.4 1l-1.2 1.8l0.3 1l2 0.9l-0.9 1.9l1.8 1.9zM174.3 69.5l-0.5-0.6l0.5-1.1l0.8 1.1l-0.8 0.6zM59.3 72.6l0.4 0.9l0.9-0.1l0.3-0.8l-1.2-0.4l-0.4 0.4zM111.2 72.6l0.1 0.3l1.1-0.3l-1.1-0.6l-0.1 0.6zM92.7 71.7l0.8 0.4l0.7-0.4l-0.7-0.4l-0.8 0.4zM208.1 71.7l0.9 0.4l1-0.6l0.3-0.7l-0.2-1.9l0.5-1l-2.9-2.8l-0.1-1.8l-1.4-0.5l-0.3 0.5l0.9 1.8l-1.5 2.1l-1.8 0.7l0 1l0.8 0.7l2.8 0.3l1 1.8zM112.3 69.8l1.9-0.6l0.9 0.7l0.9 0l0.8-1l-0.8-1.2l-1.8 0.3l-1-0.7l-0.9 0.1l-0.7 0.5l0.7 1.9zM125.1 69.8l1.3 0.4l0.4-0.4l-0.4-0.9l-1-0.5l-0.6 0.5l0.3 0.9zM211.5 67.9l1.2-0.9l0.1-0.9l-1-0.2l-0.8 1.1l0.5 0.9zM99.1 67.0l1 0.9l1.3-0.9l0.1-0.9l-0.5-0.8l-0.9 0.1l-1 1.6zM123.2 67.0l0.5 0l0.4-0.9l-0.5-1.2l-2.3 1.2l1.9 0.9zM111.2 65.1l1.1 0l0.2-0.9l-0.5-0.9l-1.6-0.9l-1.4-0.1l-0.2 1l2.4 1.8zM118.0 63.3l0.9 0.7l0.6-0.7l0.6-1.9l-0.3-0.9l-0.9 0.3l-0.9 2.5zM211.7 63.3l1.1 0.7l0.9-0.7l-0.9-1l-2.8 0l1.7 1zM114.1 62.3l1 0.8l1.2-2.7l1.7-0.9l0.5-0.9l-0.8-1.9l0.2-0.5l1.9-0.4l-0.4-1l-0.5-0.2l-3.8 2.2l-1 5.5zM107.5 61.4l0.1 0.3l0.4-0.3l0.3-1l-0.7-1.3l-0.1 2.3zM124.5 61.4l0.9-1l0.1-0.9l-1-0.8l-1.7 0.8l1.7 1.9zM27.0 57.6l0.8 0.4l0.3-0.4l-0.2-0.9l-1.1-0.6l-0.3 0.6l0.5 0.9zM218.0 57.6l0.4 0.5l0.2-0.5l-0.2-1.4l-0.9-1.1l-1-0.2l-0.4 0.9l1.9 1.8zM210.9 52.9l0.9 0.1l0.3-1l-1.2-0.1l0 1zM110.5 52.0l0.8 0.3l2.9-2.6l1.4-0.5l0.2-1l-1.8-0.9l0.2-1.2l0.9-0.1l1.5 2.2l2.3 2.3l2.6-1.3l1.2-1.9l1.3-0.9l2.4 0.3l3.5-0.3l2.4-2.8l-2.2-1.8l-2.8-0.5l-1.9-1.2l-2.8 1.4l-4.7-0.4l-1.9 0.7l-4.2-0.1l-2.3 1.4l-2 0.5l-0.8 2.8l0.9 0.7l0.9-0.4l1.6 0.6l-0.2 1.9l0.6 0.9l0 1.9zM224.3 51.1l1.6 0.9l2.1-0.9l-1-1.9l-0.3-2.8l-1.8 0l0.6 0.9l-0.1 0.9l-1.1 2.9zM215.5 50.1l1.2 0l0.3-0.9l-1.4-1.1l-0.4 1.1l0.3 0.9zM139.4 44.5l2 0.8l0.9-0.8l-0.4-0.9l-2.4-1.9l-0.9-2.7l-1-0.3l-2.9 3l0 0.9l1.1 0.5l1.8-0.7l1.5 1.2l0.3 0.9zM221.2 43.6l1.2 0l0.3-1l-3.3-0.4l-1.1 0.4l0.1 0.4l1.9-0.1l0.9 0.7zM38.8 42.6l0.4 0l0.3-0.9l-0.5-0.2l-0.3 0.2l0.1 0.9zM144.9 42.6l0.3 0.4l1-0.4l-1-0.4l-0.3 0.4zM28.6 41.7l1 0.4l0.6-1.4l-0.5-0.9l-1-0.4l-0.7 0.4l0.6 1.9zM148.2 40.7l0.7 0.8l0.4-0.8l-0.4-0.6l-0.7 0.6zM65.6 39.8l0.7 0.5l0.6-0.5l-0.6-0.6l-0.7 0.6zM26.4 38.9l1.4 0.6l0.3-0.6l-1.2-1.9l0-0.9l-1-1.9l-1-0.2l-0.3 0.2l0.3 0.9l1.8 1.9l-0.3 1.9zM41.6 37.9l2.1 0.7l0.3-0.7l-1.2-0.8l-1.2 0.8zM46.7 37.0l0.8 0.7l0.3-0.7l-0.3-1.2l-0.6 0.3l-0.2 0.9zM42.7 36.1l0.1 0.6l0-3.2l-0.3 1.6l0.2 1zM152.2 36.1l0.5 0.4l1.1-0.4l-1.1-0.7l-0.5 0.7zM140.9 35.1l1.9 0l1.1-2.8l-1.6-1l0-1.2l1-0.3l1.2 2.5l2.5 0.6l1 0.7l0.9-0.1l2.8-1.4l1-1.4l1.8 0.7l3.8-1.3l1.2-1.6l-0.1-1.8l-2-1.5l-1.9-0.3l-2-2l-1.8-0.5l-1.8 0.4l-1.9-0.9l-2.8-0.2l-1.9 1.7l-3.8 0.1l-1.9-1.1l-1.8 0.2l-2.7-0.6l-1.1-1l-1.9 0.4l-0.8-0.4l-1-1.5l-1-0.3l-2.8 1.6l-1.2-0.7l0.1-1.9l-0.8-2.5l-1.9 1.2l-2.8-1.3l-4.7 0.3l-1.8 2.3l-0.1 1l1 2.9l1.9 0.7l1.8 3.3l1.1-1.3l1.9 0l0.6 0.9l-0.7 1l-1 0l0 1l2.8-0.2l2.9-1.7l4.7 0.3l1.8 0.6l5.7-0.8l2.6 1.7l1.4 2.8l1.1 1l-1.2 2.8l1.2 0.9zM113.2 20.3l-1.2-1.1l1.2-1.1l2.9 1.1l-1 1.3l-1.9-0.2zM81.5 34.2l0.7 0.4l1-0.4l0-1l-1.7 1zM65.1 31.4l1.2 0.8l1.3-1.8l-0.4-0.8l-1.9 0.8l-0.2 1zM96.8 31.4l0.5 0.4l0.2-1.4l2.1-1.9l0.2-0.9l-0.7-0.8l-0.9-0.3l-1.3 1.1l0.3 2.8l-0.4 1zM190.2 29.5l0 0.7l1.1-0.7l-0.1-0.1l-1 0.1zM216.5 29.5l1 0.8l0.9-0.2l1.9-3.4l0.9-0.4l1.6 0.4l1.2 1.4l1 0.1l1.9-1.9l1.7 1.3l1.1 0.2l1.6-0.2l2.1-1.1l2.9 1.6l0.9 0l0.6-0.5l-0.1-0.9l-2-1l0.2-1.8l-0.6-1.1l-1.9-0.1l-5.6-3.8l-1.9-0.4l-1.2 1.6l-0.7 2.3l-0.9-0.2l-1.9 1l-1.8-0.3l0.3-1.9l-0.3-0.6l-4.7 3l-1-0.4l-2.8 1l-1.9 2.1l-1.2 0.6l0.3 1.5l4.7-1l3.7 2.3zM215.6 27.0l-0.7-1.3l0.7-1l1.4 0.1l0.3 1.9l-0.8 0.5l-0.9-0.2zM116.3 26.7l0.7 0.2l0.8-0.2l-0.8-0.5l-0.7 0.5zM54.5 25.7l0.5 0.7l1.3-0.7l-0.3-0.9l-1-0.1l-0.5 1zM93.3 25.7l0.2 0.6l0.9-1.3l0.5-1.1l-0.5-0.4l-0.9 0.6l-0.2 1.6zM82.1 24.8l1.1-0.9l-1-1.7l-0.8 0.7l-0.3 1l1 0.9zM106.6 24.8l1 0.2l1.3-1.1l0.4-1l-0.8-0.9l-1.9 2.8zM22.5 22.9l1.5 0.9l0.9-0.1l0.8-0.8l-0.1-0.9l-0.7-0.9l-0.9 0l-1.2 0.9l-0.3 0.9zM26.8 22.9l1 0.5l0.8-0.5l-0.8-0.7l-1 0.7zM64.9 22.9l0.4 0.2l1-1.4l1.1-2.5l-1.1-0.5l-1 0.4l-0.9 2.1l0 1.2l0.5 0.5zM73.6 22.9l1.1 0.3l0.8-1.2l-0.2-1l-0.6-0.3l-1.2 0.3l0.1 1.9zM209.9 22.0l1 0.5l0.7-0.5l0-1l-0.7-0.6l-0.9 0.1l-0.1 1.5zM90.3 21.0l0.6 0l1-0.9l-0.3-1.4l-0.9-0.3l-1.7 1.7l1.3 0.9zM99.1 20.1l1-0.2l1.9-1.4l0.9-0.1l0.5-1.1l-1.4-1l-2.6 1l-0.8 0.9l0.5 1.9zM105.5 20.1l1.2 0.6l0.2-0.6l-1.2-0.6l-0.2 0.6zM214.0 20.1l0.7 0.7l0.5-0.7l0.8-2.8l-0.4-0.3l-1.4 0.3l-1.2 0.9l1 1.9zM87.8 18.2l1 0.4l0.8-0.4l0.3-0.9l-2-0.9l-2.1 0l2 1.8zM231.4 18.2l1.1 0.5l0.7-0.5l0.3-2.8l1.2-0.9l-3 0l-0.7 2.8l0.4 0.9zM211.6 17.3l0.2 0.4l0.9-0.4l-0.9-0.7l-0.2 0.7zM79.4 16.4l1 0.5l0.8-0.5l0.8-1l-0.3-0.9l-2.5 0l-0.3 0.9l0.5 1zM93.1 15.4l2.3 0.3l1.2-1.2l-3.4 0l-0.1 0.9z"/>
<path fill="#c8e9f6" fill-rule="evenodd" d="M39.9 83.0l1.9 0l1-1l0.9-0.1l1 1.2l0.9 0l0.9-1.1l1.2 0l0.5-0.9l-0.4-2.8l-1.3-1.3l-0.9-0.2l-2.8 0.6l-1.9-0.9l-5.6 0l-6.6 1.6l-1.9-2.7l-1.1 0.1l-1.2 0.9l0 2.8l2.3 1.6l1.9-1.3l1.9 1.7l7.5 0.6l1.8 1.2zM58.5 83.0l1.2 0.4l0.4-0.4l0.5-1.9l-0.9-0.8l-1.2 0.8l-0.3 0.9l0.3 1zM70.7 83.0l2.1-0.1l0.7-0.9l-0.1-0.9l-0.6-0.5l-3.7 0.1l0 1.3l1.6 1zM80.3 83.0l1.3 0l-0.3-1l-1 0l0 1zM61.8 81.1l1.6 0.7l0.6-0.7l-0.1-1l-1.4-0.5l-1.5 0.5l0.8 1zM50.3 80.1l0.3-1.8l-0.3-0.8l-0.9 0.8l0.9 1.8zM231.2 80.1l1.3 0.2l1.9-1.6l0.9 0l1 1.1l1.8 0.2l1.2-0.8l0.7-2.5l1.9 1.4l0.9 0.1l1.8-3.7l-0.8-1l-2.8-0.5l-1.6 0.6l-0.3 1.6l-1 0.3l-1.8-1.4l-1-0.1l-1.9 0.9l-2.8-1.6l-4.8 1.2l-0.6 1l2.4 0.9l0.2 0.9l-1.4 1l-0.2 0.9l1.2 0l1.3-1.1l2.5 2zM246.4 80.1l1.1 0.3l0-3.8l-1.4 1.7l-0.2 0.9l0.5 0.9zM52.8 79.2l1.3 0.6l0.9-0.6l-0.9-1.6l-1.3 1.6zM20.2 78.3l0 0.8l1.4-0.8l-0.1-1l-1.3-1l0 2zM221.5 77.3l0.7 0.7l0.9 0l1.1-0.7l0.5-1.8l-1.6-2.3l-0.6 0.4l0.5 1.9l-1.5 1.8zM142.7 72.6l1.5 0.4l0.5-0.4l-1.4-0.5l-0.6 0.5zM146.8 71.7l1.2 0.6l2.8-0.2l1.9-1.3l0.6-1l-2.5-2.5l-3.1 1.6l-0.8 0.9l-0.1 1.9zM154.5 71.7l1.9 0.3l1.9-1.5l1.9-0.4l2.8 1.9l0.8-2.2l-0.8-1.1l-1.9 0.1l-2.8-2.5l-0.9 0.1l-0.4 1.5l-2.8 2.9l0.3 0.9zM134.4 70.8l1.4 0.3l0.7-0.3l0-1l-0.7-0.6l-1 0.3l-0.4 1.3zM142.3 70.8l1-0.2l2.3-1.7l-0.7-1l-3.5-1.9l-0.9 1l0.2 0.9l1.6 1.9l0 1zM165.6 70.8l4 0.1l0.9-1.6l1.8-1.4l-0.6-0.9l-1.2-0.4l-1.9 0.1l-3.3 2.2l-0.3 0.9l0.6 1zM175.9 70.8l0.2 0.5l3.8-0.8l0.9 0.5l2.2-3.1l-3.1-1.9l-2.8-0.5l-0.8 0.6l-0.4 4.7zM186.2 68.9l0.3 0.4l1.1-0.4l0.3-1l-0.5-1.1l-1.1 0.2l-0.4 0.9l0.3 1zM194.4 68.9l0.5 0.3l0.6-0.3l-0.2-1l-0.4 0l-0.5 1zM208.1 68.9l0.3-1l-1.3-1l-1.1 1l2.1 1zM111.2 49.2l0.1 0.3l1 0.4l0-0.8l-1-0.5l-0.1 0.6zM116.3 46.4l0.7 0.7l0.9 0.1l1.9-1.1l2.6-0.7l-0.7-0.2l-2-2.6l-1.8-0.8l-3.5 0.8l0.4 1.9l1.5 1.9zM122.7 45.4l2.7 0.2l2.9-2l0.4 1.8l0.5 0.3l0.5-1.2l-0.3-0.9l-1.1-0.1l-0.3-0.9l-1.6-0.9l-3.7 2.8l0 0.9zM145.5 31.4l0.6 0.3l1.3-0.3l-0.1-1.9l1.6-0.7l0.7 1.6l1.2 0.6l2.8-2.7l0.4-0.7l-0.4-0.9l-1.8-1l-1-1.8l-1.9 0.2l-1.9-1.2l-1.8-0.2l-1 1.2l-2.1 0.9l-0.6 0.9l0.2 1.9l-1.1 1.9l0.8 0.1l0.9-1l1-0.1l2.2 2.9zM156.3 28.5l1.1 0.6l0.9-0.4l-0.9-1.9l-1-0.2l-1.2 1l1.1 0.9zM138.2 26.7l1.3 0.2l0.9-1.2l-3.1-1.8l-1.1 0l0.2 0.9l1.8 1.9zM210.5 26.7l2.1-1l-0.4-0.9l-1.3 0.2l-0.6 0.7l0.2 1zM120.7 25.7l1.1 0l0.1-1.8l-1.5-1.9l1.3-1.4l0.4-2.4l-0.4-0.3l-1.9 0.9l-1.9-0.9l-0.6 1.3l0 2.8l0.6 1.2l1.9 1.1l0.9 1.4zM221.7 25.7l2.3 0.2l0.9-1.1l-1.8-1.5l-3.6 1.5l2.2 0.9zM229.9 25.7l0.7 0.8l1-0.3l1.5-1.4l0-0.9l-2.5-1.3l-0.4 0.3l-0.3 2.8zM126.0 24.8l1.3 0.3l1-0.4l1.8 0.9l1.1-0.8l-0.3-1.9l-2.1-0.9l-1.5-1.4l-0.9 0l-0.8 1.4l0.4 2.8zM225.5 22.0l0.4 0.6l1 0.1l1.1-1.7l-0.2-0.9l-1.9-0.3l-0.4 2.2z"/>
<path fill="#a1d7f1" fill-rule="evenodd" d="M35.5 81.1l3.5 0.2l6.6-0.6l1.3-1.5l-0.4-1l-0.9-0.3l-0.9 0.8l-1 0l-2.8-1.5l-5.6-0.2l-3.8 0.7l-1.2 0.6l-0.6 0.9l0.9 1.4l4.9 0.5zM25.0 78.3l0.9 0.9l0.9-0.1l0.7-0.8l-0.7-1.4l-0.9-0.7l-0.9 2.1zM230.8 78.3l0.8 0.5l0.9-0.1l0.9-0.8l0.6-1.5l-2.4-0.6l-1.9 0.4l0 1.1l1.1 1zM237.2 78.3l0.9 0.9l0.7-0.9l-0.7-1.1l-0.9 1.1zM240.9 76.4l1 0.4l0.9-1.3l-1.8-1.4l-0.8 0.4l0 1l0.7 0.9zM150.4 70.8l1.3-0.2l0.5-0.8l-0.5-0.9l-0.9-0.4l-0.6 0.4l0.2 1.9zM162.1 70.8l0.7-1l-1.1 0l0.4 1zM156.5 69.8l0.9 0.5l0.9-1l1.1-0.4l-0.2-0.8l-0.9-0.2l-1.8 1.9zM168.4 69.8l0.9-0.9l-0.7-0.4l-0.3 0.4l0.1 0.9zM142.1 67.9l0.2 0.3l1-0.3l-1-0.5l-0.2 0.5zM178.4 67.9l2.4 0.6l0.5-0.6l-1.4-0.5l-1.5 0.5zM116.6 45.4l0.4 0.6l0.9-0.1l0.4-0.5l-1.3-0.8l-0.4 0.8zM150.6 29.5l0.6-1l-0.3-0.9l-1.5 0l1.2 1.9zM145.7 27.6l1.3 0.7l1.8-0.7l0.5-0.9l-3.2-3l-3.4 2l0.6 0.8l1.9 0.2l0.5 0.9z"/>
<path fill="#76c1ea" fill-rule="evenodd" d="M31.2 80.1l6 0.6l5.6-1l0.2-0.5l-2.1-1.3l-6.6-0.3l-3 0.7l-1 0.9l0.9 0.9zM146.5 26.7l0.5 0.6l0.8-0.6l-0.8-0.6l-0.5 0.6z"/>
<path fill="#4ea7df" fill-rule="evenodd" d="M31.2 79.2l5 0.8l1.9-0.8l-2.8-1.1l-4.1 1.1z"/>
<use href="#land" x="21.5" y="15.1"/>
</g>
<rect x="21.5" y="15.1" width="225.4" height="75.05" fill="none" stroke="#1a1a1a" stroke-width="0.9"/>
<text x="15.4" y="17.30" class="ax" text-anchor="end">60N</text>
<text x="15.4" y="36.06" class="ax" text-anchor="end">30N</text>
<text x="15.4" y="54.83" class="ax" text-anchor="end">0</text>
<text x="15.4" y="73.59" class="ax" text-anchor="end">30S</text>
<text x="15.4" y="92.35" class="ax" text-anchor="end">60S</text>
<text x="21.50" y="102.05" class="ax" text-anchor="middle">0</text>
<text x="40.28" y="102.05" class="ax" text-anchor="middle">30E</text>
<text x="59.07" y="102.05" class="ax" text-anchor="middle">60E</text>
<text x="77.85" y="102.05" class="ax" text-anchor="middle">90E</text>
<text x="96.63" y="102.05" class="ax" text-anchor="middle">120E</text>
<text x="115.42" y="102.05" class="ax" text-anchor="middle">150E</text>
<text x="134.20" y="102.05" class="ax" text-anchor="middle">180</text>
<text x="152.98" y="102.05" class="ax" text-anchor="middle">150W</text>
<text x="171.77" y="102.05" class="ax" text-anchor="middle">120W</text>
<text x="190.55" y="102.05" class="ax" text-anchor="middle">90W</text>
<text x="209.33" y="102.05" class="ax" text-anchor="middle">60W</text>
<text x="228.12" y="102.05" class="ax" text-anchor="middle">30W</text>
<text x="246.90" y="102.05" class="ax" text-anchor="middle">0</text>
<path d="M19.1 15.10H21.5M19.1 33.86H21.5M19.1 52.62H21.5M19.1 71.39H21.5M19.1 90.15H21.5M20.2 21.35H21.5M20.2 27.61H21.5M20.2 40.12H21.5M20.2 46.37H21.5M20.2 58.88H21.5M20.2 65.13H21.5M20.2 77.64H21.5M20.2 83.90H21.5M21.50 90.14999999999999v2.4M40.28 90.14999999999999v2.4M59.07 90.14999999999999v2.4M77.85 90.14999999999999v2.4M96.63 90.14999999999999v2.4M115.42 90.14999999999999v2.4M134.20 90.14999999999999v2.4M152.98 90.14999999999999v2.4M171.77 90.14999999999999v2.4M190.55 90.14999999999999v2.4M209.33 90.14999999999999v2.4M228.12 90.14999999999999v2.4M246.90 90.14999999999999v2.4M27.76 90.14999999999999v1.3M34.02 90.14999999999999v1.3M46.54 90.14999999999999v1.3M52.81 90.14999999999999v1.3M65.33 90.14999999999999v1.3M71.59 90.14999999999999v1.3M84.11 90.14999999999999v1.3M90.37 90.14999999999999v1.3M102.89 90.14999999999999v1.3M109.16 90.14999999999999v1.3M121.68 90.14999999999999v1.3M127.94 90.14999999999999v1.3M140.46 90.14999999999999v1.3M146.72 90.14999999999999v1.3M159.24 90.14999999999999v1.3M165.51 90.14999999999999v1.3M178.03 90.14999999999999v1.3M184.29 90.14999999999999v1.3M196.81 90.14999999999999v1.3M203.07 90.14999999999999v1.3M215.59 90.14999999999999v1.3M221.86 90.14999999999999v1.3M234.38 90.14999999999999v1.3M240.64 90.14999999999999v1.3" stroke="#1a1a1a" stroke-width="0.7" fill="none"/>
<text x="21.0" y="10.1" class="tt" textLength="95.0" lengthAdjust="spacingAndGlyphs">(a) WP > 0 & WP_MME > 0</text>
<text x="246.9" y="10.1" class="tt" text-anchor="end">12 years</text>
<rect x="255.80" y="84.51" width="5.3" height="3.24" fill="#131f5e"/>
<rect x="255.80" y="81.32" width="5.3" height="3.24" fill="#183690"/>
<rect x="255.80" y="78.13" width="5.3" height="3.24" fill="#1d52a8"/>
<rect x="255.80" y="74.94" width="5.3" height="3.24" fill="#2470c0"/>
<rect x="255.80" y="71.75" width="5.3" height="3.24" fill="#338bd2"/>
<rect x="255.80" y="68.55" width="5.3" height="3.24" fill="#4ea7df"/>
<rect x="255.80" y="65.36" width="5.3" height="3.24" fill="#76c1ea"/>
<rect x="255.80" y="62.17" width="5.3" height="3.24" fill="#a1d7f1"/>
<rect x="255.80" y="58.98" width="5.3" height="3.24" fill="#c8e9f6"/>
<rect x="255.80" y="55.79" width="5.3" height="3.24" fill="#e6f5fb"/>
<rect x="255.80" y="52.60" width="5.3" height="3.24" fill="#ffffff"/>
<rect x="255.80" y="49.41" width="5.3" height="3.24" fill="#ffffff"/>
<rect x="255.80" y="46.22" width="5.3" height="3.24" fill="#fff6c8"/>
<rect x="255.80" y="43.03" width="5.3" height="3.24" fill="#fee79a"/>
<rect x="255.80" y="39.84" width="5.3" height="3.24" fill="#fdd163"/>
<rect x="255.80" y="36.65" width="5.3" height="3.24" fill="#fcb53f"/>
<rect x="255.80" y="33.45" width="5.3" height="3.24" fill="#f9962a"/>
<rect x="255.80" y="30.26" width="5.3" height="3.24" fill="#f37524"/>
<rect x="255.80" y="27.07" width="5.3" height="3.24" fill="#ee4f27"/>
<rect x="255.80" y="23.88" width="5.3" height="3.24" fill="#dc1f33"/>
<rect x="255.80" y="20.69" width="5.3" height="3.24" fill="#b8141f"/>
<rect x="255.80" y="17.50" width="5.3" height="3.24" fill="#9c1019"/>
<path d="M255.80 20.69h5.3M255.80 23.88h5.3M255.80 27.07h5.3M255.80 30.26h5.3M255.80 33.45h5.3M255.80 36.65h5.3M255.80 39.84h5.3M255.80 43.03h5.3M255.80 46.22h5.3M255.80 49.41h5.3M255.80 52.60h5.3M255.80 55.79h5.3M255.80 58.98h5.3M255.80 62.17h5.3M255.80 65.36h5.3M255.80 68.55h5.3M255.80 71.75h5.3M255.80 74.94h5.3M255.80 78.13h5.3M255.80 81.32h5.3M255.80 84.51h5.3" stroke="#000" stroke-opacity="0.28" stroke-width="0.35"/>
<rect x="255.80" y="17.50" width="5.3" height="70.2" fill="none" stroke="#000" stroke-opacity="0.5" stroke-width="0.4"/>
<text x="267.10" y="26.38" class="cb" text-anchor="middle">0.9</text>
<text x="267.10" y="35.95" class="cb" text-anchor="middle">0.6</text>
<text x="267.10" y="45.53" class="cb" text-anchor="middle">0.3</text>
<text x="267.10" y="55.10" class="cb" text-anchor="middle">0</text>
<text x="267.10" y="64.67" class="cb" text-anchor="middle">-0.3</text>
<text x="267.10" y="74.25" class="cb" text-anchor="middle">-0.6</text>
<text x="267.10" y="83.82" class="cb" text-anchor="middle">-0.9</text>
<text x="24.0" y="114.4" class="tl" text-anchor="middle">WP</text>
<text x="62.6" y="114.4" class="tl" text-anchor="middle">WP_MME</text>
<text x="100.8" y="114.4" class="tl" text-anchor="middle">NWP</text>
<text x="140.6" y="114.4" class="tl" text-anchor="middle">NWP_MME</text>
<text x="178.8" y="114.4" class="tl" text-anchor="middle">NINO</text>
<text x="219.0" y="114.4" class="tl" text-anchor="middle">NINO_MME</text>
<text x="257.0" y="114.4" class="tlg" text-anchor="middle">PNA</text>
<text x="24.0" y="125.4" class="tv" text-anchor="middle">1.05</text>
<text x="62.6" y="125.4" class="tv" text-anchor="middle">1.19</text>
<text x="100.8" y="125.4" class="tv" text-anchor="middle">0.74</text>
<text x="140.6" y="125.4" class="tv" text-anchor="middle">0.56</text>
<text x="178.8" y="125.4" class="tv" text-anchor="middle">0.91</text>
<text x="219.0" y="125.4" class="tv" text-anchor="middle">0.86</text>
<text x="257.0" y="125.4" class="tvg" text-anchor="middle">0.54</text>
<clipPath id="clipc"><rect x="295.4" y="15.1" width="225.4" height="75.05"/></clipPath>
<g clip-path="url(#clipc)">
<rect x="295.4" y="15.1" width="225.4" height="75.05" fill="#fff"/>
<path fill="#fff6c8" fill-rule="evenodd" d="M301.2 90.5l0.5 0.9l1.9 0l0.3-1.9l-1.3-0.6l-2.1 0.6l0.7 1zM313.1 91.4l0.8 0l1.5 0l-0.6-0.9l-0.9-0.1l-0.8 1zM318.1 90.5l0.5 0.3l0.8-0.3l0.3-1l-1.1-0.5l-0.5 1.5zM396.5 91.4l1.3 0l0.7-0.9l-1.6 0l-0.4 0.9zM412.9 91.4l0.5 0l2.2 0l-1.2-1l-1.5 1zM453.8 91.4l2.4 0l0.1-3.8l-0.6-1.1l-1 0.5l-0.9 1.6l0 2.8zM463.5 90.5l0.6 0.4l1.2-0.4l-0.4-1l-0.8-0.3l-0.6 1.3zM341.4 89.5l0.6 0.7l0.4-0.7l-0.4-0.4l-0.6 0.4zM379.1 89.5l1.5 0.5l0.3-1.4l-1.3-0.4l-0.6 0.4l0.1 0.9zM416.3 89.5l0.9 0.8l0.4-0.8l-0.4-0.4l-0.9 0.4zM470.2 89.5l1.5 0.6l1.4-0.6l-1.4-1.7l-1 0l-0.6 0.8l0.1 0.9zM512.6 88.6l1.3 0.2l3.3-1.2l0.1-1.8l-2-1.9l0.5-0.4l2.8 0l1.9 1l0.9 0l0-5.2l-1.9-0.7l-1.8 1l-1-0.3l0.6-2l-0.6-0.9l-1.5 0.9l0.2 1.9l-2.4 0.5l-1.3-3.3l-2.5-1.3l-0.9 0.1l-1 1.2l1.9 1l0.6 0.9l-0.6 0.5l-0.9 0l-1-1l-0.9-0.3l-1.9 1.2l-2.8-0.3l-1.9 1.7l-0.9 1.9l-1 0.3l-0.9 0l-1.9-1.7l-0.9 0.2l-1 1.2l-1.8 1.1l-0.9 1.7l0.4 1l1.4 0.5l1-0.4l0.9-1.8l2.8-0.8l0.9 0.2l1.9 2.6l1.9-0.3l0.9-0.7l1.9 0.5l1.9-0.8l1.9-0.2l2.2 1.2l0 1.8l1.5-0.2l0.6 1.2zM375.8 87.6l0.2 0l0.9-0.9l-1-0.4l-0.5 0.4l0.4 0.9zM385.9 87.6l0.3 0.8l0.9-0.6l0-1.3l-0.9-0.4l-0.3 1.5zM295.9 86.7l1.1 0.2l1.8-2.1l4.7-1.6l2.9 0.7l2.8-0.7l1.9 1.1l0.9-0.2l0.9-1.1l1.9 1.8l0.9 0l1-0.9l0.4-1.9l1.5-2.7l1.8 1.4l1-0.4l0.9-1.8l1-0.2l0.8 0.9l0.1 3.8l1.9 0.7l0.7-0.7l-0.1-2.9l-1.6-2.5l-0.9 0.3l-0.9-0.9l-1.9 0.1l-2.8-1.1l-1.9-1.7l-0.5 0.2l-0.5 1.8l-2.8 1.7l0-1l0.9-0.6l1-1.9l-0.9-0.5l-1.9 0l-1.9-1.3l-0.9 0l-0.4 0.9l0.9 0.9l0 1l-1.5 1.1l-1.8-0.4l-1.9 1.9l-2.8-0.2l-1 1.8l-2.8 0.4l2.5 1.9l-0.6 0.3l-1 0.4l-1.8-0.4l-0.4-0.3l0.1-0.9l1.2-1l-1.9-1.1l-1.9 0.3l0 5.5l1 0.4l0.8 1.5zM301.7 82.0l-0.9-0.9l0.7-1l1.1-0.2l0.3 1.2l-0.3 0.6l-0.9 0.3zM317.6 78.3l-0.4-1l0.4-0.4l0.9 0.4l0.2 1l-0.1 0.4l-1-0.4zM324.7 86.7l0.9 0l0.2-0.9l-1.2 0l0.1 0.9zM355.0 86.7l3.2 0l-0.2-0.9l-1.2-1l-0.2-0.9l1.1-1.9l-0.6-0.9l0-2l-1 0l-0.5 1l0.5 0.9l0.8 0.1l-0.8 0.6l-1.1 5zM457.9 86.7l0.9 0l-0.1-0.9l-0.3 0l-0.5 0.9zM480.0 83.9l1 0.2l0.3-0.2l-1.2-1l-0.1 1zM415.1 83.0l1.1 0.5l2.9-3l0.9-0.5l1.9-0.1l3.7-2.6l-0.9-0.9l-0.1-0.9l1.8-1.9l-0.3-1l0.3-1.8l-2.6-3.5l-1.9-0.1l-1-4.7l-0.9-0.5l-4.7 2.2l-1.9-0.3l-1.9 0.6l-1.8-1.8l-1.9 0.6l-1 3.7l0.2 1.9l-1 0.9l0.2 1l0.6 0.4l2.1 0.5l0.3 0.9l-0.5 1.9l1 1.5l0.9 0.6l3.8-1.1l0.3 0.9l-1 1.9l1 1.8l0 1.9l0.4 1zM420.0 78.1l-0.9-0.8l0.9-0.8l1.3-0.1l0.2 0.9l-0.6 0.8l-0.9 0zM488.4 82.0l2 0l1.2-0.9l-0.2-1l-1-0.3l-0.9 0.3l-1.1 1l0 0.9zM374.6 81.1l0.9 0l0.1-1l-0.7-0.6l-0.3 1.6zM473.4 80.1l1.1 0.5l0.4-0.5l-0.4-0.9l-1.1 0.9zM497.7 80.1l1.5-0.9l0.4-0.9l-0.6-1l-1.1 0.4l-0.7 1.5l0.5 0.9zM482.8 79.2l0.6-0.9l-0.5-1.1l-0.9 1.1l0.8 0.9zM298.8 78.3l1-0.3l0.4-0.7l0.1-1.8l-0.5-1l-1 0.1l-1 0.9l1 2.8zM338.3 77.3l2.8-0.3l0.5-0.6l-0.5-1.9l0.9-0.5l1 0.9l2.8-0.6l2.8 1.2l2.8-0.6l0.9-0.4l0.2-0.9l-1.1-1.1l-1.8-0.1l-1.9-2.1l-0.4-2.4l-1.5-0.7l-3.2 2.6l0.2 1.9l-0.8 1.4l-0.8-1.4l0-1.9l-1-0.4l-1.9 1.6l-1.9-0.8l-0.5 0.6l0.8 1.8l1.9 1.9l-0.3 2.8zM361.4 76.4l1.3 0.9l1-0.9l-1.9-0.8l-0.4 0.8zM333.3 75.5l1.5 0l-1.6-1.9l-0.5-2.7l-0.8-0.1l-0.2-1l-0.4 2.8l0.9 1.9l1.1 1zM355.1 75.5l1 0.9l0.8-1.9l1.5-1.9l-0.1-0.9l-1.2-1.1l-1.3 0.2l-0.7 4.7zM428.4 75.5l1-0.1l1.5-1.8l-1.5-1.1l-2.6 1.1l1.6 1.9zM516.3 75.5l0.4 0.8l1.1-0.8l-1.1-0.6l-0.4 0.6zM303.1 74.5l1.4 0.2l0.1-1.1l-1.4 0l-0.1 0.9zM443.4 73.6l1 0.7l1 0l0.9-0.3l1.9-1.5l0.9 0l2 0.1l1.8 1l1.8 0.1l0.1-2l0.7-1.9l-0.8-1.1l-0.9-0.3l-1.9 0.7l-0.9-1.2l-2.8 1.3l-1.9 0.2l-1-0.5l0.1-1.6l-1.9 0.2l-1.6 3.3l0.1 0.9l1.7 0.9l-0.3 1zM469.7 72.6l1 0.3l1-1.2l-1.7-1.9l-0.7-1.9l-1.4-1.1l-2.8-1.1l-2.7 1.3l-1.1 2.8l-0.9 0.4l-0.8-1.3l-2-1.6l-1-0.3l-0.6 0.9l0 2.9l1.6 1.7l1.8-1.4l1.9 0.1l3.8 1.4l0.9-0.1l1.9-1.4l0.9 0.1l0.9 1.4zM352.0 71.7l0.4 0.2l0.3-1.1l2-1.9l-0.4-1l-1.6 1l-1.2 1.9l0.5 0.9zM367.3 71.7l1 0.4l1.1-1.3l-2-3l-0.1 3.9zM433.6 71.7l0.5 0.1l1-1l-0.1-1.3l-1.1 0.3l-0.3 1.9zM438.0 71.7l1.7 0.7l1.2-0.7l-1.2-0.4l-1.7 0.4zM487.3 71.7l1.3 0l0.1-0.9l-1.1 0l-0.3 0.9zM325.9 69.8l1.1 0.8l0.4-1.7l-0.4-0.4l-1.1 1.3zM361.4 68.9l0.4 0.6l0.9-0.1l0-1.5l-1.2 0l-0.1 1zM427.6 67.9l0.8 0.8l0.6-0.8l-0.6-0.4l-0.8 0.4zM436.7 67.0l0.2 0.7l0.9-0.2l0.3-1.4l-1.2-0.3l-0.2 1.2zM335.2 66.1l0.3 0.4l1-0.4l-1-0.1l-0.3 0.1zM379.2 66.1l0.4 0.3l1-0.4l2.2-1.8l-0.1-0.9l-4 1.4l-0.2 0.4l0.7 1zM304.1 65.1l0.4 0.4l0.7-0.4l-0.5-0.9l-0.6 0.9zM315.9 65.1l0.8 0.3l1.5-0.3l-1.5-0.5l-0.8 0.5zM324.8 65.1l1.3 0.6l0.7-0.6l-1.2-1.8l-0.5-1.8l-1 0.8l-0.1 1l0.8 1.8zM347.4 64.2l0.5 0l0.7-1.5l1.9-0.5l-2.8-0.3l-0.5 0.4l0.2 1.9zM494.8 62.3l2.2 0.2l-0.2-3l-1.7-0.3l-1.5 1.2l1.2 1.9zM510.9 62.3l1.6-0.9l-0.5-0.7l-1.6 0.7l0.5 0.9zM503.9 58.6l1.6 0.9l0.3-0.9l-2.2-1.4l-0.4 0.4l0.7 1zM491.4 57.6l1.8-0.9l0.5-0.9l-1.4-0.3l-0.9 0.5l-0.6 0.7l0.6 0.9zM485.0 55.8l0.7 0.5l0.5-0.5l-0.5-1l-0.7 1zM382.9 54.8l0.5 0.4l1.1-0.4l0.1-0.9l-1.2-0.3l-0.5 1.2zM294.1 52.0l0 0.3l2-1.2l-0.8-1.9l1-1l-0.3-0.5l-0.9 0l-1 1.2l0 3.1zM507.2 52.0l1.1 0.7l0.2-1.6l-0.4 0l-0.9 0.9zM520.7 52.0l0.7 0.3l0-2.6l-1.6 1.4l0.9 0.9zM306.2 51.1l1.2 0l0-1l-1 0l-0.2 1zM343.8 49.2l0.4 0l0.2-1l-0.5-0.2l-0.1 1.2zM325.8 48.2l1.2-0.2l0-1.8l-1 0.2l-0.5 0.9l0.3 0.9zM335.4 48.2l1 0.3l0.1-1.2l-0.3 0l-0.8 0.9zM492.0 48.2l1.3 0.5l2.3-0.5l-0.3-0.9l-3-0.9l-0.7 0.9l0.4 0.9zM508.9 45.4l2.2 0.3l0.8-0.3l0.2-0.9l-3.4-0.9l-0.6 0.9l0.8 0.9zM394.8 44.5l0.8 0.6l0.9-0.3l0.2-1.2l-1.1-0.2l-0.8 1.1zM296.8 43.6l1.4 0l-0.1-1l-1.1 0l-0.2 1zM504.7 43.6l0.8 0.7l1.7-0.7l-0.4-1.9l-1.7 0l-0.4 1.9zM479.0 42.6l1.1 0.2l1.9-1l0.9-0.7l0.5-1.3l-2.4-1.5l-1.9 2.4l-0.1 1.9zM320.6 41.7l0.8 0.6l1.1-0.6l-0.2-0.9l-0.9-0.9l-0.8 1.8zM330.1 41.7l1.6 0.4l1.7-1.4l-0.7-0.7l-3.8 0.1l0 0.9l1.2 0.7zM345.7 40.7l1 0.4l0.5-0.4l-0.5-0.3l-1 0.3zM495.1 40.7l1 0.7l0.4-0.7l-1.4-1.1l0 1.1zM507.8 40.7l1.3 0l-0.2-0.9l-1 0l-0.1 0.9zM294.7 39.8l1.3 0.5l0.4-0.5l0.4-1.9l-0.8-0.6l-1.8 0.6l0.5 1.9zM510.9 38.9l1.1 0.6l1-0.6l-1-0.3l-1.1 0.3zM307.9 37.0l1.5 0l0.1-1.9l-0.3-0.3l-1.6 0.3l-0.3 1l0.6 0.9zM465.7 37.0l2.2 0.7l1.1-0.7l-0.2-1l-0.9-0.2l-2.2 1.2zM472.7 37.0l3.6 0.8l1.2-0.8l0.1-0.9l-0.6-1l-1.6-0.1l-2.4 1.1l-0.3 0.9zM351.9 35.1l0.5 0.7l2.1-1.6l-2.1-0.9l-0.6 0.9l0.1 0.9zM328.8 33.2l1.7 0l0.4-0.9l-2-0.6l-0.4 0.6l0.3 0.9zM469.4 33.2l1.3 0.4l0.5-0.4l-1.4-0.7l-0.4 0.7zM520.3 33.2l0.8 0l0.1-0.9l-0.7-0.1l-0.2 1zM294.1 30.4l0 1l2.9-0.7l0.7-1.2l-2.6-1.1l-1 0.2l0 1.8zM327.8 30.4l1.1-0.2l0.6-0.7l0.9-1.9l0.1-1.9l-2.5-3.1l-1-0.2l-2.4 3.3l0 1l0.5 1.8l1 1.1l1.7 0.8zM419.5 30.4l2.4 0.1l1.1-1l1.7-0.5l1.9 1l1.8-0.7l1.9 1.3l0.5-0.2l2.2-3.7l-0.5-1l-2.2-1.3l-0.9 0.3l-1-0.3l-3.7-1.9l-1.9-0.2l-2.3 0.6l-3.5-1.9l-0.8-0.9l-0.4 0.9l-1.4 0.5l-5.7-2.5l-0.9-0.1l-1.9 0.8l-1.9-0.3l-1.8 0.4l-5.7-1.6l-2.8 1.7l-2.1-0.7l-0.7 1.1l-1 0.1l-0.9-0.3l-1.9-3l-1.9 1.2l-2.3 3.7l0.1 1.9l-1 0.9l-0.1 0.9l1.5 1.3l0-2.2l0.9-0.9l2.8-0.5l1.9 1l1.9-1.8l0.9 0l0.5 1.3l-0.6 0.9l0.1 0.9l1.9 0.5l0.9 2.4l1 0.8l3.7-1.7l2.9 0l6.5 0.5l3.8 1.8l1.9-0.6l5.1 1zM471.8 28.5l0.8 0.4l1.3-0.4l-0.4-2.1l-0.9-0.3l-0.7 0.6l-0.1 1.8zM467.9 27.6l0 0.1l1.4-1l-1.6 0l0.2 0.9zM484.1 26.7l1.6 0.8l0.6-0.8l0-1l1.3-0.8l3.8 0.2l2.8-1.7l1.9 0.3l0.9-0.6l0.2-2.1l-1.9-0.9l-0.3-1.9l-0.8-1.1l-1.6 0.2l0 0.9l2.4 1.9l-1.7 1l-2.9-0.8l-1.4-1.1l-1.4-2.2l-1.3 3.1l0.5 1.9l-0.9 2.8l-1.8 1.9zM517.3 25.7l1.3 0.5l1.9-0.1l0.4-0.4l-3.2-2.1l-1.9-0.5l-0.3-2.1l-0.6-0.8l-1-0.1l-0.5 0.9l0.3 2.9l1.2 1l1.8 0.3l0.6 0.5zM310.9 24.8l1.3 0l0.7-0.9l-0.9-1.4l-0.9-0.6l-1 2l0.8 0.9zM363.1 23.9l0.5 0.9l0.5-0.9l-0.5-0.4l-0.5 0.4zM482.8 23.9l1.1-1l-1-2.1l-1 2.1l0.9 1zM375.2 22.9l0.7 0.7l0.9-0.2l1.3-0.5l0.6-0.9l1.9 0.8l0.9-0.2l0.8-0.6l0.1-1l-1.8-1l-1.9 2l-2.8-2.4l-2.9-0.7l-0.9-0.8l-0.9 0.1l-0.7 1l0.7 1.6l4 2.1zM314.6 22.0l1.1 0.3l0.3-0.3l-0.3-0.6l-0.9-0.1l-0.2 0.7zM334.2 22.0l0.3 0.5l1 0l1.1-1.5l-2.1-0.6l-0.3 1.6zM342.4 21.0l1.5 0.9l1-1l0.3-1.7l-2.2 0.5l-1-0.4l-0.6 0.8l1 0.9zM501.9 17.3l1.7 0.3l0.9-0.3l-1.9-2.7l-0.9 1.1l0.2 1.6zM337.2 15.4l1.1 0l0.8-0.9l-2.6 0l0.7 0.9z"/>
<path fill="#fee79a" fill-rule="evenodd" d="M514.6 86.7l1.2 0.3l0.4-1.2l-1.3-0.2l-0.3 1.1zM492.1 84.8l0.7-0.9l-0.5-0.2l-0.4 0.2l0.2 0.9zM314.6 83.9l1.2 0l1.5-3.8l-0.1-0.9l-1.5-1.8l-2.8 1.7l-1.8-2.4l-1-0.1l-6.1 2.6l-0.4 2.8l0.9 0.6l4.7-0.7l1.9 0.8l1.8-1.1l1 0l0.5 0.4l0.2 1.9zM505.7 83.9l4.5 0.4l0.9-0.9l0.9 0l1 0.9l0.9-0.4l1.5-1.9l0.2-0.9l-0.7-0.5l-1.9 0.6l-1-0.1l-1.3-1l-2.4-0.3l-1.9-1l-1.9 1l-1.9-0.3l-1.7 0.6l-0.1 1.5l0.9 0.6l1.9-1.4l2.1 3.1zM294.1 83.0l1.4-1.9l0.1-1l-0.5-0.3l-1 0.1l0 3.1zM416.0 82.0l3-2.8l-0.9-0.7l-0.9-0.2l-0.7 0.9l-0.6 1.9l0.1 0.9zM520.4 82.0l1 0.7l0-2.6l-1.9-0.4l-0.8 0.4l0.4 1l1.3 0.9zM418.5 75.5l1.5 0.2l0.9-0.4l0.4-0.8l-0.8-1.9l1.4-0.9l-4.7-1.4l-2.1-2.4l0.8-1.8l-0.6-0.7l-2.8-0.3l-2.7 1l1.7 1.6l0.1 1.2l-1-0.1l-0.9-0.7l-2 1.7l2.7 1.9l-0.5 1.9l0.6 0.9l1-1.1l7 2.1zM343.3 73.6l4.4 0.5l0.8-0.5l-0.7-1.9l-2-2.7l-1.9 1.3l-0.6 3.3zM356.1 71.7l0 0.2l1 0.4l0-0.7l-1 0.1zM445.9 71.7l0.4 0.6l1.9-0.6l2.3 0l1.4-0.7l1 1l0.9-0.2l0.1-1l-0.1-0.6l-1.9 0.5l-1.9-1l-0.9 0.1l-2.8 0.6l-0.5 0.4l0.1 0.9zM457.3 69.8l0.3 0.9l0.9-0.9l-0.9-0.4l-0.3 0.4zM463.4 69.8l2.6 0.8l1.1-0.8l0.2-1.9l-1.3-0.8l-2.8 0.4l-0.5 0.4l0 1l0.7 0.9zM418.6 29.5l2.3 0.7l1.9-1.4l1.9-0.7l1.9 0.7l0.9-3.4l-0.4-0.6l-4.3-1.8l-1.9 0.9l-2.8-1.1l-2.8-0.1l-2.8-1.3l-2.8-0.3l-1 0.7l-1.9-1.2l-1.8-0.3l-2.8 0.5l-3.8-1.3l-2.8 0.4l-3 1.1l-0.2 1l3.2 5.6l0.9 0.1l3.8-1.1l5.6 0.9l2.8-0.1l3.8 1.7l1.9-1l4.2 1.4zM326.5 28.5l0.5 0.6l1 0.1l1.8-2.5l-1.8-3.1l-1 0.1l-1.7 2l0.3 1.9l0.9 0.9zM375.6 22.0l1.2 0.5l0.5-0.5l-1.4-1.3l-1.5 0.3l1.2 1zM388.1 22.0l0.5-1l-2.5-0.9l-0.6 0.9l0.7 0.9l1.9 0.1zM488.2 22.0l0.4 0.4l0.6-1.4l-0.4-0.9l-1.2-0.8l-0.4 0.8l0.2 0.9l0.8 1z"/>
<path fill="#fdd163" fill-rule="evenodd" d="M505.8 83.0l0.6 0.4l2.8-0.2l0.7-0.2l0.1-1l-0.8-1l-2.8-0.6l-0.9 1l0.3 1.6zM304.9 81.1l0.5 0.2l1-0.7l0.3-0.5l-0.3-0.5l-1-0.2l-0.7 0.7l0.2 1zM313.7 80.1l2 0.9l0.7-0.9l-0.7-1.8l-0.9 0.3l-1.1 1.5zM308.6 79.2l1.5 0.7l1.1-0.7l-2-1l-0.6 1zM415.9 73.6l1.3 0.2l0.2-1.2l-1.2 0l-0.9-0.8l0.3-1l-1.2-1.6l-2.4 2.5l1.4 1.4l1.9 0l0.6 0.5zM345.9 72.6l1 0l-1.1-1.4l-0.9-0.1l0 0.9l1 0.6zM413.1 67.9l0.3 0.6l0.7-0.6l0-0.9l-0.7-0.4l-0.5 0.4l0.2 0.9zM420.0 29.5l1.1 0l0.8-2.2l0.9 0.2l0.4-0.8l-0.4-2.7l-1.9 1.2l-1.8-1.3l-1-0.1l-0.9 0.6l-4.7-2.3l-3.8 1.1l-1.9-1.2l-1.8-0.5l-3.8 0.2l-2.8-1.2l-0.6 0.5l-0.3 1l0.9 3.7l1.9 0.1l1.9 0.8l1.8-0.4l1.9 0.8l2.8-0.2l3.8 1.5l1.9-1l5.6 2.2zM326.6 27.6l1.4 0.3l0.9-1.2l-0.9-2.1l-1-0.1l-1.1 1.2l-0.1 1l0.8 0.9zM394.3 22.9l0.7 0l0.6-0.9l-1-0.8l-1 0.8l0.7 0.9z"/>
<path fill="#fcb53f" fill-rule="evenodd" d="M418.2 27.6l1.8 0.4l0.2-0.4l-0.2-1.4l-0.9-0.8l-1.9 0.8l-1.9-1.8l-2.8-1.2l-0.9 0.7l1 0.9l-1.3 1.9l1.2 0.7l1.9-0.8l3.8 1zM326.6 26.7l0.4 0.3l1-0.2l-0.1-1.1l-0.9-0.4l-0.4 1.4zM401.7 25.7l1.4 0.1l0.9-1.2l1.9 1.4l4.4-0.3l-0.2-0.9l-1.4-0.4l-1.7-1.5l-2-0.2l-4.5 1.2l-0.1 0.9l1.3 0.9z"/>
<path fill="#e6f5fb" fill-rule="evenodd" d="M346.3 91.4l0.4 0l1.2 0l-1.2-1l-0.4 1zM366.1 90.5l1.1 0.9l0.7 0l0.6-0.9l-3-2.5l-0.1 1.5l0.7 1zM382.2 91.4l1.2-0.1l0-0.8l-1-0.9l-0.6 0.9l0.4 0.9zM406.6 91.4l1.4 0l0.2-0.9l-0.4-0.3l-0.7 0.3l-0.5 0.9zM422.5 89.5l0.3 0.6l1.1-1.5l-1.1-0.1l-0.3 1zM459.3 89.5l0.7 0l0.5-0.9l-1.1-0.4l-0.5 0.4l0.4 0.9zM323.1 88.6l1.1 0.4l0.2-0.4l-1.1-0.4l-0.2 0.4zM356.1 88.6l1 0.8l0.7-0.8l-0.7-0.3l-1 0.3zM445.0 88.6l1.3-0.2l0.6-2.6l1.3-1.3l1.8-0.2l2.9 1.7l1.4-1.2l0.4-1.4l1.9 0.2l2.6-2.5l-1.4-2.8l-0.7 0l-0.3 1.8l-2.1 1.3l-1.5-1.3l-1.3-2.5l-3.7 0.4l-3.8 5l-0.9-1.5l-0.5-2.3l-0.5-0.3l-2.8-0.3l-1.9-1.1l-1.3 2.6l-1.5 0.5l-1.9-1.1l-4.3-1.2l-3.2 2.6l-0.9-0.6l-0.9 0.4l-1 2.3l0.3 0.9l2.5 0.6l3.8-2.1l1.2 1.5l0.5 2.8l1.1 0.6l1.9-1.7l2.8 0.3l2.8 1.4l1.9-0.5l3.4 1.8zM475.7 88.6l1.1 0l-0.3-1l-0.6 0l-0.2 1zM473.1 86.7l1.1 0l-0.7-2.8l-0.9 1.2l0.5 1.6zM308.0 85.8l0.2 0.3l1.1-0.3l-1.1-0.3l-0.2 0.3zM418.8 84.8l1.2 0.6l0.3-0.6l-0.3-0.3l-1.2 0.3zM363.3 83.9l1.3 0.5l2-1.4l-2.3-1l-1.1 1l0.1 0.9zM395.1 83.0l0.8 0l0.7-1.9l1.9-1l-0.2-0.9l0.7-0.9l1.3-0.6l1.9 0.3l0.2-0.7l2.4-1.8l-1.2-1.9l0.6-1l-1.1-0.3l-0.2-0.6l0.7-0.9l-0.1-1l-1.3-1l-1.9-3.1l-1-0.1l-0.9 0.6l-0.9 2l-3.8-0.9l-1.7-1.2l-0.2-0.8l-0.3 0.8l-3.5 1.8l-0.1 3.8l1 0.9l0.1 1.3l-0.1 0.6l-2.2 1.9l-0.2 0.9l0.6 1.3l3.8-1.1l2.8 1.3l0 2.3l1.4 1.9zM400.3 72.7l0.9-0.4l1.6 0.3l-1.6 0.5l-0.9-0.4zM467.7 83.0l1.1 0.5l0.2-0.5l-0.2-0.3l-1.1 0.3zM368.7 82.0l0.6 0.6l1.3-0.6l-0.4-0.8l-0.9-0.2l-0.6 1zM381.8 82.0l1.1 0l0.5-0.9l-0.2-1l-2.3-1.8l-1.1 0l0 0.9l2 2.8zM347.3 78.3l0.4 0.5l1.3-0.5l-1.3-0.4l-0.4 0.4zM433.5 77.3l0.6 0.7l0.5-0.7l-0.5-0.6l-0.6 0.6zM486.4 76.4l0.3 0.3l2.4-0.3l-1.5-1.2l-0.9 0.1l-0.3 1.1zM466.4 75.5l2.4 0.4l0.4-0.4l-1.3-0.6l-1.5 0.6zM500.2 75.5l2.4 0.7l1.6-0.7l-1.6-0.7l-0.9-1.1l-0.9 0.6l-0.6 1.2zM322.8 74.5l0.6 0l0.3-0.9l-0.4-2l-1.1 0.1l0.1 2.3l0.5 0.5zM373.9 74.5l1.1-0.9l-0.1-1.1l-0.9-0.3l-0.7 0.4l-0.2 1l0.8 0.9zM365.3 73.6l0.2 0.3l1-0.3l-1-0.6l-0.2 0.6zM513.6 73.6l1.3 0.3l0.9-1.3l-1.9-1l-0.6 1l0.3 1zM383.1 72.6l1.2 0l0.5-1.8l-0.1-1l-1.3-1.8l-1-0.5l-0.7 1.4l0.6 2.8l0.8 0.9zM500.7 71.7l1 0.8l0.9-0.1l1-0.6l1.9-0.1l2.8-1.4l4.7-0.9l1.9-1l1.8 2l1 0.1l1.5-1.6l0-1l-0.6-1.1l-0.9-0.5l-4.7 0.3l-3.8-1.2l-4.7 0.4l-0.9-1.1l-1.9 0.5l-2.8 0.1l-3.8 2.2l-0.3-0.5l1-1.9l-0.7-0.9l-0.9-0.3l-0.9 0.2l-1.8 2l0.8 0.6l1 2.8l0.9 1l1.9-1.7l1.8 0l1 1.5l1.8 1.4zM504.5 70.1l-0.4-1.2l1.4-0.8l0.3 0.8l-0.3 0.9l-1 0.3zM299.0 70.8l0.8 0.6l3-0.6l-3-0.5l-0.5-0.5l-0.5-2.2l-3.2-2.5l-0.5-1l-1-0.3l0 5.8l1.9 1.1l1.9-0.6l1.1 0.7zM319.1 70.8l0.8 0l0-1l-0.4-0.3l-0.6 0.3l0.2 1zM358.0 69.8l1 0l0-1.2l-1 0.3l0 0.9zM486.6 69.8l0.9-0.9l-0.8-1.1l-0.6 1.1l0.5 0.9zM460.2 67.0l0.9-0.9l-0.7-0.9l-1 0.9l0.8 0.9zM480.4 67.0l0.6 0.8l0-1.2l-0.6 0.4zM310.2 66.1l1.5 0l-1.6-2.2l-0.2 0.3l0.3 1.9zM351.3 66.1l0.1 0.4l1-0.6l1.7-1.7l-0.8-0.9l-1 0l-0.9 1.2l-0.1 1.6zM448.8 66.1l2.2 0.1l1.2-1.1l-2.2-0.3l-0.8 0.3l-0.4 1zM454.2 66.1l0.8 0l0.7-1l-1-2.1l-0.9 0l-0.9 1.2l0.1 0.9l1.2 1zM477.6 66.1l2.5 0l0.2-1.9l-1-0.9l-0.1-1.1l-1-0.5l-0.7 0.6l1.2 1.9l-1.1 1.9zM385.7 65.1l1.4 0.6l1.2-2.4l-1.1-1l-0.1-1l-0.5 2l-1.1 0.9l0.2 0.9zM396.5 65.1l2.6-0.9l-0.5-0.9l-1.1-1.2l-1-0.2l-0.9 1.6l-1 0.7l-0.6-0.9l-0.3-3l-1.3 2l-1.7 1l0.2 1.4l0.9 0.4l2.8-0.8l1.9 0.8zM366.1 64.2l1.3 0.2l1.9-1l0-0.5l-1-0.5l-0.9 0.2l-1 0.7l-0.3 0.9zM321.0 63.3l0.4 0.5l0.3-0.5l-1.3-3l-0.9 1.1l1.5 1.9zM343.0 63.3l0.9 0.6l0.8-0.6l-0.8-0.9l-0.9 0.9zM466.7 63.3l0.3 0.3l4.7-3.3l0.4 1.1l1.4 1.1l1.4-1.1l-1.2-1.9l0.6-8.4l-0.6-5.7l0.7-2.8l-0.9-0.8l-2.8 2.9l-0.9-0.4l-1.9-2l-1.9 0.4l-1.9 1.4l-0.9-0.1l-2.5-2.3l0.1-1.9l-2.3-2.7l-1.6 1.8l-1.2 3.2l-2.9 1.5l0.5 1.8l-0.7 1l-0.7 0.1l-1.9-0.8l-2.8-0.3l-1.8 0.8l-2.9 0l-1.8 0.6l-3.8-1.7l-1.9 0.8l-0.9-0.1l-1.9-2l-0.9 0l-0.8 0.7l-1 1.9l-1.1 0l-0.4-2.8l2.1-1.9l0.1-1l-0.8-0.3l-3.8 1.8l-2.1 2.3l0 0.9l-0.7 0.5l-1.9 0.1l-2.8-1.3l-0.9 0.6l-1 1.5l-2.8 0.1l-1.9 1.3l-1.3-0.9l0.2-1.9l-0.7-0.4l-1.9 0.9l-1-0.1l-0.8-0.4l-0.1-1.1l-0.9 0l-1 1.2l-1.8 1.3l-1.4-2.3l0.4-1.5l1.1-0.4l-0.1-1.3l-2.9 2.1l-0.3 1.1l-1.5 1.9l-1.9 1.4l-1 0.3l-1.2-1.7l-0.8 0l-0.2 2.8l2.2 1.9l-0.4 0.9l0.4 0.9l1 0.5l0.1 0.5l-0.3 0.9l0.8 1.9l-0.7 1.9l7.6 3.3l0-2.7l-4.6-2.5l-0.4-0.9l0.3-0.4l2.8-0.6l2.8 0.6l0.5 0.4l-0.1 1.8l0.6 0.7l1.8 0.5l1 0l0.9-2.7l1 0.2l2.8 1.8l5.6-1.2l1.9 1.3l2.8-0.5l4.7 1.3l4.7-0.8l1.9 0.6l1.9 1.4l0.9-0.4l2.8 0.5l0.9-0.8l-0.6-0.9l0-1l1.6-0.3l3.3 1.3l0.2 0.9l-1.3 1.9l0.6 0.5l2.8-2.3l5.7 1.5l0.9 0l1.9-1.1l1.9 0.9l0.9-0.2l0.9-1l2.9 1.2l0.9-0.2l0.9-1.6l1 0l2 3.2l-0.4 1zM310.4 62.3l0.7 0.9l1.8-0.9l1-1.8l1.1-1l-0.2-0.9l-0.9 0l-1.9 1l-1.6 2.7zM339.4 61.4l0.8 0.5l0.7-1.5l-0.9-3.7l1.4-0.9l-0.3-1.5l-0.9-0.2l-1.5 2.6l-2.3 0.3l-1 0.6l1.9 2.5l2.1 1.3zM373.2 61.4l5.5 0.5l1.3-1.5l-1.3-0.8l-2.8-0.4l-2.9 1l0.2 1.2zM381.1 60.4l1.3 0.7l0.8-0.7l-0.8-0.7l-1.3 0.7zM516.6 60.4l0.1 0.3l1-0.9l0-1.4l-1.1 0.2l0 1.8zM349.5 59.5l2.9-1.8l1.9 1.3l0.9-0.2l0.9-1.2l2.9 0.3l2.8-0.6l1.5 1.3l0.3 1.1l1.9-2.4l1.9-1.1l0.7 0.5l0.1 0.9l-0.6 1l0.7 0.7l1.9 0l1.4-1.7l0-1.8l0.5-0.9l0.9 0.9l1.7 0l0.2-1.9l-1.9-2.5l-2.8-1.3l-0.1-0.9l3.6 0l0.3 0.5l0.4-1.5l1.5-1l0.3 1l-0.3 1.1l-1.8 0.8l1.8 1.9l1.8 1.1l0.4 0.8l-0.4 1.3l-2 0.6l1.1 1l4.6-0.1l-0.9-2.8l-1.5-1.9l0.1-2.8l1.3-1.9l-2.7-0.6l-0.5-0.3l0.4-1l1.1-0.9l2.8 0l2.8-3.4l1.9 0.4l1.9-0.8l0.9 0.5l1.9-0.1l2.8-2l2.8 0.4l1.9 0.7l2.8 0.2l1-1.9l0.9-0.3l2.8 0.6l1.9-0.9l1.9 0.3l0.5 1.6l-1.8 2.8l1.3 0.9l1.8-0.9l2.1-3.7l0.8-0.5l4.7-1.2l1.8 0.5l1 1l0.9 0l4.7-1.4l1.9-1.4l0.6 0.2l0.4 1.8l1.6 1l0 1.8l1.1 1.2l2.9 0l4.7-3l0.9 0.2l1.9 1.6l0.5-2.8l-1.3-1.8l2-2.9l-0.2-3.7l-1-1.2l3.7-0.7l-1.5-5.6l0-1l0.6-0.8l0.9 0.2l1 1.2l2.3 0.4l0.3-1l-0.7-0.9l-1-1.3l-1.5-0.6l-0.4-0.9l1-1.1l0.9-0.1l0.9 1.3l0-2.5l-0.9 0.3l-0.9-0.7l-3.3 0l-0.5 2.6l-0.9 0.3l-0.2-1l-1.4-1.9l-1.4 0l-1.6 0.9l-1.6 2.8l0.1 1.9l-1.9 0.9l0.3 1l2 1.1l0.5-0.2l-0.2-1.9l0.7-0.9l1.9-1.4l1.8-0.5l0.1 1l-1.6 0.9l-1.3 2.7l-0.9 0.7l0 1.8l-2.8-0.2l-1 0.5l2.5 2l0.9 1.9l-0.6 0.6l-0.9 0.1l-2.6 3l-1.2 0.5l-1.8-1l-1 0l-2.8 1l-1.9 0l-1.8 1.2l-1.4-0.7l0-1.9l-0.5-0.4l-2.8 0.2l-1 0.6l-8.4-1.5l-1.9 0.5l-1-0.3l-0.9-1.3l-2.8-0.9l-0.5 2.2l-1.4 1l-1.9-2.5l-0.9 0.1l-2.8 1.6l-2.8-0.2l0.7-1l-0.7-1.5l-1.9 0.9l-1.9-0.8l-1.9 3.2l-1.5 0.1l0 0.9l1.1 1l-2.4 0.1l-2.8-1l-1.8 0.9l0.9 2.8l-0.2 0.9l-0.8 0.3l-3.7-1.4l-1.9-0.1l-1.9-0.9l-0.9 0.4l-1 2.4l-1.9-0.2l-3.6 1.4l0 1.9l-1.1 0.2l-0.6-1.2l0.2-1.8l-0.5-0.9l-2.8 0l-0.8 0.9l0.2 0.9l0.5 0.9l1.5 1l0.1 0.9l-3.4 4.4l-1.9 0.9l-0.9-0.6l2-1.9l0.1-0.9l-1.2-0.5l-2.7 1.4l0 2.8l-0.9 1l0.5 2.8l-0.8 0.9l-2.6 1.5l-0.4-1.5l1.1-0.9l-0.5-0.9l-1.2-0.1l-3.2 1.9l0.3 2.9l1.7 0.9l0.3 1.1l1.8 1.7zM357.1 54.1l-1.9-2.1l2.8-3.2l0.6 2.3l1.2 0.9l-0.1 0.9l-2.6 1.2zM365.5 53.5l-0.5-0.6l0.2-0.9l1.3-1.4l0.9 0.3l0.6 1.1l-1.5 1.5l-1 0zM388.1 33.3l-0.3-0.1l0.6-0.9l0.6-0.1l2.3 1l-1.4 0.8l-1.8-0.7zM439.7 37.8l-0.8-0.8l1.7 0l-0.9 0.8zM508.2 58.6l0.1 0.3l0.9-0.8l0-1.7l-0.7 0.3l0.2 0.9l-0.5 1zM321.2 57.6l0.6-0.9l-0.2-0.9l1.7-0.9l0.1-1l-3-2.3l-0.9 0.3l-0.4 1l2.2 2.9l-0.1 1.8zM324.2 57.6l1.2 0l-0.2-0.9l-1.3 0l0.3 0.9zM497.0 57.6l0.4 0l0.6-0.9l-1.4 0l0.4 0.9zM296.0 56.7l1 0l0.4-0.9l-0.5-1.9l-0.9-1.1l-1.9 1.1l0 1.6l1.1 0.3l0.8 0.9zM329.4 56.7l0.4 0.4l1-0.1l0.2-1.2l-0.1-1l-1.2-1.9l0.5-2.8l-0.4-0.3l-1.6 1.3l-0.3 0.9l1.5 4.7zM386.8 56.7l1.3-0.2l0.4-0.7l-1.4-0.4l-0.4 0.4l0.1 0.9zM308.8 54.8l0.4 0.7l0.7-0.7l-0.7-0.9l-0.4 0.9zM476.3 53.9l1.2-1l-0.2-1.4l-1 0.3l-0.4 1.1l0.4 1zM335.6 52.9l0.8 0.5l1.2-0.5l-0.3-0.9l-0.9 0l-1.5-1.9l-1.3-0.2l-0.7 2.1l0.7 0.8l2 0.1zM340.9 52.9l0.2 0.5l1.9-1.4l-1-1.8l-1.6 0.9l0.5 1.8zM480.3 52.9l0.7 0.3l1-0.6l0.2-1.5l-1.7 0l-0.4 0.9l0.2 0.9zM498.9 52.9l1.9 0.7l1.3-0.7l-2.3-2.1l-2.9 0.3l0.2 0.9l1.8 0.9zM514.6 52.0l0.9-0.9l-0.6-0.5l-1.7 0.5l1.4 0.9zM310.7 51.1l0.6 0l-0.2-1.1l-0.3 0.1l-0.1 1zM512.0 51.1l1-0.2l0.2-0.8l-1.2-1.8l-0.5 0.9l0.5 1.9zM478.2 48.2l1-0.9l-2.2-5.6l-0.7-0.7l-0.9 0.3l-0.8 1.3l0.1 1l3.5 4.6zM302.1 47.3l0.5 0.5l0.9-0.1l0.7-1.3l-0.7-0.6l-1.4 1.5zM382.8 47.3l0.6 0.9l0.9-0.5l0-1.7l-0.9-0.2l-0.6 1.5zM332.5 46.4l0.2 0.4l1.3-2.3l-0.4-1l-1.4 1l0.3 1.9zM294.1 45.4l0 0.7l1.2-0.7l-0.2-1.2l-1-0.4l0 1.6zM520.8 45.4l0.6 0.5l0-1.9l-1.1 0.5l0.5 0.9zM351.0 44.5l1.4 0.9l0.7-0.9l-1.2-1.9l1.6-2.8l-0.2-0.9l-0.7 0.9l-2.1 0.8l-0.9-2l-0.4 1.2l1.3 0.9l-0.9 2.4l-1 0.5l1 0.3l0.9-0.4l0.5 1zM448.8 43.6l0.5 0l0.1-2.9l-1.2-0.4l-1.1 0.4l0 1l0.2 0.9l1.5 1zM488.3 43.6l2.1 0.3l0.5-0.3l0-1l-0.5-0.4l-0.9 0.3l-1.2 1.1zM392.0 42.6l0.8 0.5l0.6-0.5l-0.2-0.9l-0.4-0.4l-0.6 0.4l-0.2 0.9zM324.8 41.7l0.3 0.9l1-0.2l0.4-1.7l-0.4-0.9l-1-0.3l-0.2 0.3l-0.1 1.9zM502.3 39.8l1.3 0.5l2.4-1.4l0.8-3.8l1.5-1.7l1.9-0.3l0.9-2.4l3.8 1.1l0.9-0.3l-0.7-3l-1.2-0.9l-1-1.9l-1.8-1.1l-1.9-0.1l-1.9-1.1l-3.3 0.5l-2.1 1.8l0.7 0.4l0.3 1.5l-0.7 2.8l-0.7 1l0.2 0.4l0.9-1l1 3.7l0.9-1.3l0.6 1l-1.2 3.7l-1.7 1l0.1 0.9zM511.1 30.2l-0.4-1.7l0.4-1.2l0.9-0.4l0.9 0.7l-1.8 2.6zM355.7 37.9l1.4 0.5l1.1-0.5l0-0.9l-2.1-1.1l-0.5 0.2l-1.3 0.9l1.4 0.9zM518.5 37.9l1 0l1.2-1.8l-1.2-0.8l-0.9 0.2l-0.1 2.4zM330.3 37.0l0.5 0.8l0.9-0.1l1-1.6l1.8 0.5l0.9-0.5l-0.9-1.2l-1.8-0.4l-2.2 0.6l-0.2 1.9zM482.3 37.0l0.8 0l0.3-0.9l-0.5-0.6l-0.9 0.4l0.3 1.1zM316.6 36.1l1 0.2l2.1-1.2l-0.2-0.9l-1.9-0.7l-0.9 0.5l-0.1 2.1zM339.0 36.1l0.2 0.4l1-0.1l0-1.3l-1 0.2l-0.2 0.8zM499.5 36.1l0.3 0.6l1 0.2l0.8-0.8l-1.8-2.5l-1 0.6l0.7 1.9zM325.7 35.1l0.4 0.4l0.9-0.6l0-1.9l-0.9-0.3l-0.8 0.5l0.4 1.9zM370.2 35.1l0.2-0.9l-0.2-0.2l-0.7 0.2l0.7 0.9zM311.7 34.2l0.3 0.4l0.6-0.4l-0.6-1l-0.3 1zM483.9 34.2l0.9 0.6l1-0.6l-0.1-2.9l-1 0.1l-0.8 0.9l0 1.9zM493.2 34.2l1 0.5l0.6-1.5l-1.5-0.8l-0.1 1.8zM334.8 31.4l1.6 0.8l0.3-0.8l-1.2-0.5l-0.7 0.5zM450.3 31.4l0.7 0.5l1-0.5l-1-0.5l-0.7 0.5zM316.6 30.4l1 0.5l1.3-0.5l-0.3-0.9l-1.4-1l-0.5-1.6l-0.8 0.7l0.7 2.8zM496.4 30.4l0.6 0.8l0.9-0.3l1.2-3.3l2.5-1.9l-0.8-0.7l-1.9 0.6l-1.9 1.9l-1.8 1l1.2 1.9zM352.2 29.5l0.6-1l-0.4-0.6l-1-0.6l-0.6 0.3l0.6 1.4l0.8 0.5zM377.7 29.5l1.9-1.9l0-0.3l-1.2 0.3l-0.7 1.9zM303.2 28.5l0.3 0.4l1-1.6l-1-0.2l-0.3 1.4zM342.1 28.5l0.9 0.5l1.1-1.4l-0.2-3.2l-0.9-0.1l-0.3 0.5l-0.6 3.7zM387.6 28.5l0.5 0.1l0.8-1l-0.1-0.9l-1.7-0.5l-0.9 0.5l-0.1 0.9l1.5 0.9zM451.8 28.5l1.1 0.5l1.8-0.1l0.6-0.4l0.1-1.8l-0.7-0.5l-1.8 0.8l-1-1.4l-1.9-1.2l-1.5 2.3l-0.1 0.9l0.7 0.7l2.7 0.2zM458.2 28.5l0.3 0.4l1-0.4l-1-0.7l-0.3 0.7zM490.3 28.5l1.1 0.5l0.1-1.4l-1.1-0.4l-0.4 0.4l0.3 0.9zM348.3 23.9l0.3 0.2l1.3-1.2l-0.3-1l-1 1l-0.3 1zM477.6 23.9l1.6 0.5l1.1-0.5l-1.1-1.1l-1 0.2l-0.6 0.9zM303.2 22.9l0.3 0.3l1.1-0.3l0.8-3.2l1-0.8l0.9-0.4l1.9 1.3l0.9-1.6l1.9-0.9l0.9 0.1l0.5-1l-1.4-1l-0.9 0l-1.9 1.6l-1.9 0.8l-2.1-1.4l-0.7-1.5l-4.7 1.1l-1-0.1l-1.5-1.4l-2.3 0l-0.9 0.7l0 3.6l1.9 0.5l1.9-0.8l0.9 2.4l1-0.1l1.9-2l0.9 0.4l0.6 3.7zM321.2 22.9l0.2 0.8l0.9-0.1l0.4-1.6l0.8-1l-0.2-0.9l-1-0.8l-0.9 0.3l-0.2 3.3zM499.8 22.9l1.9 0.8l0.6-1.7l1.3-0.4l0-1.5l-1-0.6l-1.8 0.2l0 1.3l-2 1l1 0.9zM506.7 21.0l0.6 0.6l1.2-0.6l-0.4-0.9l-0.8-0.3l-0.5 0.3l-0.1 0.9zM358.7 20.1l1.2 0.2l0.7-0.2l-0.7-0.4l-1.2 0.4zM423.5 20.1l0.4 0l0.8-1.7l1.9 1.2l0.9 0l0.9-1.4l1-0.3l0.9 2l1.9-1.5l2.3-0.2l-0.4-1l-1 1l-0.9-0.7l-2.5-3l-8.5 0l-1.2 0.4l-2-0.4l-3.6 1.1l-1.9 1.7l1.9 2l1.8-0.9l1.9 0.9l1.9-0.9l1.9 0.4l1.6 1.3zM452.7 20.1l0.2 0.4l1-0.4l-0.1-0.5l-0.9-0.2l-0.2 0.7zM467.4 20.1l2.4-0.2l0.9-0.6l-0.5-1.1l0.6-0.9l-0.5-0.9l-1.5-1.2l-0.9 0.3l-0.9 1.1l-1.9-1.6l-1.5 0.4l0.4 2.8l2 0.1l1.4 1.8zM517.2 19.2l0.5 0.4l0.9-0.1l0.9-2l1.9 0.9l0-3.3l-1.9 1.9l-0.9-0.2l-3.2 0.5l1.8 1.9zM410.5 18.2l2-0.9l-1.9-2.1l-1.7-0.7l-3.9 0.3l-1.9-0.3l-1.3 0.9l0.4 1.1l0.9 0.4l1.9-0.5l1.2 0.9l2.5 0l1.8 0.9zM398.3 17.3l1.1 0l-0.1-1.9l-0.9-0.5l-0.9 0.2l-0.6 0.3l1.4 1.9zM329.8 16.4l1 0.4l1.2-1.4l-1.4-0.9l-0.8 1.9zM455.0 16.4l0.7 0.5l0.4-0.5l-0.4-0.5l-0.7 0.5zM434.7 15.4l0.3 0.5l1 0l0.9-1l1.4-0.4l-3.5 0l-0.1 0.9zM497.4 15.4l0.7 0l0.2-0.9l-1.4 0l0.5 0.9z"/>
<path fill="#c8e9f6" fill-rule="evenodd" d="M439.4 85.8l1.3-0.1l2.1-2.7l-0.5-2.9l-0.7-0.6l-0.9-0.2l-1.7 0.8l0.7 0.9l1 0.1l0 1.2l-1 0.3l-0.9-0.6l-1 0.2l-1.8-0.8l-1.9 0l-1.9-1.2l-1.9 0.7l-0.1 1.1l1.1 1.1l2.8 0.2l1.9 1.3l1.8-0.5l1 0.3l0.6 1.4zM446.2 84.8l2-1l2.8-0.6l1.9 1.5l0.4-2.7l-1.4-2.6l-0.9-0.7l-2.9 0.5l-1.1 1.9l-1.1 0.9l-0.7 1.9l1 0.9zM395.3 77.3l0.3 0.6l2.8-0.4l0.9-0.9l3.6-1.1l-1.5-1l-2.1-0.2l-0.9-1.4l-0.9 0.7l1.6 1.9l-1.6 0.6l-1 1.1l-1.2 0.1zM393.5 75.5l1.1-0.2l1.9-3.2l5.5-1.3l0.2-1l-1.9-2.8l-1-0.2l-1.8 2.3l-2.9-0.5l-3.8 2.2l-0.6 1.8l0.6 1.9l2.7 1zM294.6 68.9l1.4 0.3l1.3-1.3l-2.2-1.6l-1 1.4l0.5 1.2zM509.4 68.9l0.8 0.1l2.9-1.1l-2.9-0.5l-1.1 0.5l0.3 1zM516.5 68.9l1.2 0.8l0.6-0.8l0-1l-0.6-0.5l-1 0.1l-0.7 0.4l0.5 1zM501.0 67.9l0.7 0.7l1.2-0.7l-0.4-0.9l-0.8-0.4l-1.2 0.4l0.5 0.9zM467.3 60.4l1.5 0.8l2.7-2.6l0.2-0.7l0.9 0.3l0.9-0.7l0.5-1.7l0.1-4.7l-0.6-3.9l-1.8-1.5l-2.9 1.1l-0.9-0.4l0.5-1.9l-0.5-0.7l-1.9 0l-1.9 1l-0.9 0l-1.9-0.9l-0.9 0.1l-1 0.8l-0.8-0.3l-0.1-1l-0.9-0.1l-1 0.7l-1.9 0.1l-0.3 0.3l0.3 1.3l1 0.3l2.5-0.7l0.3-0.6l-0.1 1.6l-1.8 0.9l-1.9-0.8l-3.7 0.6l-2.8-0.8l-7.5 1.2l-3.8-1.1l-3.8 0.1l-0.9-1.5l-0.9 0.2l-0.3 1.2l-1.2 0.9l-4.2 0.4l-0.9 0.7l-4.7-1l-0.9 0.1l-1 1l-0.9 0.1l-1-0.8l-1.8-0.2l-2.9 1.2l-2.3-0.6l-0.5-0.9l-1.9-0.3l-1.8 1.2l-1.9 0.3l-1.7 1.6l0.3 2.8l1.4 1.1l5.6 1.2l3.8 1.8l3.7-0.2l1-0.6l3.7 0.1l4.7 1.8l2.8-1.1l3.8 0.5l1.9-0.9l0.9 0l2.8 1.8l1.9-1.7l1.9-0.2l6.6 1.9l1.8-1.2l1 0.1l0.9 1.4l1 0.4l1.8-1l3.8-0.4l2.8 1.9l1 0.2l2.8-2.1l2.2 2.7zM338.7 59.5l0.5 0.4l0.4-0.4l-0.1-0.9l-1.2-0.5l-0.5 0.5l0.9 0.9zM370.0 57.6l0.6-0.9l-0.4-0.5l-0.7 0.5l0.5 0.9zM406.3 57.6l0.7 0l0.3-0.9l-0.5-0.4l-0.9 0.4l0.4 0.9zM349.8 56.7l1.6 0.4l1.9-1.1l1.9-0.5l0.6-0.7l-0.2-0.9l-1.3-0.9l-2.9 1.2l-1.7 1.6l0.1 0.9zM357.9 55.8l2 0.5l1.4-0.5l-1.4-1.2l-1.8 0.2l-0.2 1zM362.6 52.9l0.1 0.6l1.9-2.1l0-0.7l-1.6 0.4l-0.4 1.8zM368.6 52.9l0.7 0.6l1.9-0.1l0.7-0.5l-0.1-0.9l-2.5-1.1l-0.7 2zM397.1 52.9l1.3 0.5l1.6-0.5l-2.5-4.3l-1-0.4l-1.5 1l1.6 1.9l0.5 1.8zM371.5 47.3l0.6 0.6l1.9-0.2l1.5-1.3l0.6-1.9l0.7-0.5l5.5-2.3l1.1-1.6l2.8 0.1l0.7-0.4l1.2-2.4l0.9 0.3l-0.4 2.1l1.3 0.5l3.8-3l1.9 1.1l3.7 0.6l1.8-2l2 0.1l0.9-0.8l1.9 1.1l4.7-0.6l0.9 2l1.2-0.9l-0.9-1.8l2.4-1.9l0.1-1l-2.8-0.9l-1.8 0l-2.3 0.9l-1.5 1.6l-1.9-2.8l-1.8 1l-2.9 0.4l-0.8-1.1l-1-0.1l-2.9 0.7l-1.8 1.6l-4.7 0.3l-1 0.8l-1.9-0.2l-2.8-1.2l-0.9 0.2l-0.5 0.7l1 1.9l-0.2 0.9l-1.2 1.4l-6.6-1.6l-1.9-0.9l-0.6 2.1l-1.3 1.3l-3.7 0.1l-0.3 0.4l1.2 1.4l1.9 0.1l-0.4 2.3l2.6 0.9l0 1.9zM361.4 46.4l2.2 0.4l1-1.4l-1.9-1.5l-0.9-0.1l-0.7 1.6l0.3 1zM364.6 45.4l2.8 0.4l0.6-0.4l0.2-0.9l-0.8-0.9l-1.8 0l-1 1.8zM435.5 39.8l1.1 0l0.9-0.9l-1.5-1.3l-1 1.3l0.5 0.9zM414.9 37.0l1.3 0.1l0.9-1l0.4-1l-1.3-1.2l-1.3 3.1zM424.1 37.0l1.5 0.1l1-0.5l0.4-0.5l-0.4-1l-1 0l-1.1 1l-0.4 0.9zM431.5 37.0l1.6 0.2l1.6-1.1l2.8-2.9l-0.6-0.9l-2.8 1.9l-1.9 0.3l-0.8 0.6l0.1 1.9zM439.6 35.1l1.1 0.6l0.9-0.5l1.5-2l-0.3-0.9l-2.1 0l-1 0.9l-0.4 1l0.3 0.9zM504.4 31.4l1.1-0.3l1.8-1.4l1.9-0.2l0.7-1.9l-0.7-0.9l-1.9 0.7l-2.8-0.2l-0.4 0.4l-0.6 0.9l0.9 2.9zM512.9 30.4l1-0.4l0-0.9l-0.9-0.2l-0.5 0.6l0.4 0.9zM439.4 28.5l1.3 0.4l0.5-0.4l0.2-3.7l3-0.7l0-1.6l-0.9-1.4l-1-0.3l-0.9 0.5l-2.2 6.3l0 0.9zM295.2 18.2l1.4 0l-0.6-1.4l-0.9 0.5l0.1 0.9zM417.9 18.2l2.1-0.6l2.8 0.2l0.9-1.4l-1.8-0.7l-2.8 0l-1.9 1.3l-1.9-1.1l-1.1 0.5l0.2 1.1l0.9 0.4l1.9-0.4l0.7 0.7zM426.1 18.2l1 0l0.7-2.8l-1.2-0.8l-1-0.1l-1.3 0.9l-0.5 1l2.3 1.8zM299.7 17.3l0.1 0.4l2.8-0.2l0.9-1.1l-0.9-0.3l-2.9 1.2zM410.1 17.3l0.7 0l-0.2-1l-0.9-0.3l-0.7 0.4l1.1 0.9zM440.2 17.3l1.4 0l0.4-0.9l-0.4-0.4l-1.5 0.4l0.1 0.9z"/>
<path fill="#a1d7f1" fill-rule="evenodd" d="M447.2 82.0l0 0.7l1-0.3l0.9 0.4l2.5-1.7l-0.6-1.1l-1 0.1l-2.8 1.9zM391.6 73.6l2.1 0.6l0.7-1.6l-0.7-0.4l-1.9 0.3l-0.2 1.1zM399.3 69.8l1 0.3l0.5-0.3l-0.5-0.4l-1 0.4zM468.2 59.5l0.6 0.2l1-1.1l0.3-1.9l0.6-0.5l2.8 0.2l0.4-5.3l-0.4-2.7l-1.8-1.3l-1-0.2l-3.7 1.3l-1.9-2.6l-4.7 0.5l-2.8 2l-1 0.2l-2.8-0.9l-4.7 0.8l-0.9-0.7l-1.9-0.2l-1.9 0.6l-6.6-0.1l-1.8 0.4l-1-0.7l-1.9 0.1l-0.9-0.5l-3.8 1.8l-1.8-0.5l-3.8 0.6l-2.8-0.5l-2.8 1.2l-1.9-1.3l-0.9-0.1l-2.9 1.2l-1.8-0.5l-3.8 0.6l-1.9-0.2l-1.1 0.7l0.6 2.8l0.5 0.5l4.7 1l2.8 1.5l2.9-0.5l7.5 0l3.7 1.8l0.6-0.5l-1-0.9l1.4-0.4l4.7 1.6l2.8-1l3.7 1l1.9-0.9l1.9-0.2l6.6 1.6l2.8-0.9l1.9 1.2l2.8-1.4l3.7 0.5l1.9 1.4l1 0.1l3.7-1.5l1.1 0.7l1.1 1.9zM372.9 47.3l1.5-0.9l-1.4-0.9l-0.6 0.9l0.5 0.9zM370.9 43.6l2.1 0.3l3.8-2l1.9 0.4l0.9-0.4l1.3-1.2l-3.2-1.4l-3.7-0.3l-1 0.3l-0.9 1.8l-0.9 0.8l-0.3 1.7zM384.7 38.9l0.5 0.1l1-0.7l0.5-1.3l-1.5-0.6l-0.9 0.2l-0.7 1.3l1.1 1zM390.2 37.0l0.7 0.9l0.9-0.4l0.4-1.4l-0.4-0.6l-0.9 0.2l-0.7 0.4l0 0.9zM395.4 37.0l1.1 0.7l2.3-0.7l-1.3-3.6l-1 0l-1.2 0.8l0.1 2.8zM408.5 36.1l0.4 0l0.5-1l-0.2-0.9l-0.5-0.2l-1.1 1.1l0.9 1zM399.9 35.1l1.3 0.8l1-0.1l1.2-1.6l-2.2-0.4l-0.9 0.4l-0.4 0.9zM425.4 16.4l0.9 0l0.2-1l-1 0l-0.1 1z"/>
<path fill="#76c1ea" fill-rule="evenodd" d="M463.1 56.7l4.8-0.3l2.8-1.1l1.9-0.2l-0.1-1.2l1-1.8l0-2.5l-2.8-1.6l-3.7 1.2l-2.9-1.6l-2.8 0.7l-0.9-0.7l-1 0l-1.8 1.2l-1 0l-1.9-0.6l-2.8 0l-0.9 0.3l-1 1.2l-0.9 0.1l-2.8-1.7l-1.9 0.7l-6.6-0.2l-2.8 1l-2.8-1.6l-0.9 0l-2.9 1.9l-1.8-0.9l-3.8 0.5l-3.7-0.2l-1.9 1.2l-1.9-0.9l-3.8 0.6l-3.7-0.1l-1.7 1l-0.5 0.9l1 0.9l2.1 0.4l1.9 1.8l0.9 0.2l1.9-0.9l10.4 0.7l1.8-0.5l5.7 1.8l2.8-0.9l2.8 0.7l3.8-0.8l7.5 1.2l2.8-0.5l1.9 0.5l2.8-0.9l1.9 0.4l2.8-0.4l2.7 1zM372.7 42.6l1.3 0.1l0.9-0.7l0.1-1.3l-1-0.2l-1.3 2.1z"/>
<path fill="#4ea7df" fill-rule="evenodd" d="M447.5 55.8l5.4 0.1l1.8-0.8l2.9 0.5l2.8-0.4l2.8 0.6l3.8-0.3l1.8-0.4l2.2-1.2l0.5-1.9l-1.7-2.2l-1-0.2l-0.9 0.5l-2.8-1.1l-3.8 0l-1.9-0.7l-1.8 1.1l-2.9-0.4l-0.9 0.6l-0.9 0l-1-0.6l-1.9 1.6l-3.7-1.2l-1.9 0.3l-3.7-0.4l-3.8 0.2l-1.9 1.1l-0.9-0.2l-1.9-1.5l-0.9 0l-2.9 1.7l-1.8-0.9l-6.6 0.1l-2.8 1.4l-1.9-0.7l-2.8 0.3l-1.8 1.2l-0.2 0.9l0 1l1 0.6l1.9-1.1l9.4 1l3.8-0.3l4.7 1.6l2.8-0.7l2.8 0.5l3.8-0.6l6.8 0.9zM471.9 51.1l0.7 0.4l0.7-0.4l-0.7-1.2l-0.7 1.2z"/>
<path fill="#338bd2" fill-rule="evenodd" d="M438.5 54.8l2.2-0.6l3.7 0.8l1.9-0.6l6.6 0.7l1.8-0.7l1.9 0.6l3.8-0.4l1.9 0.6l2.8-0.1l3.7-0.8l1.4-1.4l-0.4-1.3l-1-0.7l-0.9 0.2l-2.8-1.4l-5.7-0.6l-1.8 0.9l-2.9-0.2l-1.8 1.1l-1-0.8l-1.9 1.4l-2.8-1.2l-1.8 0.2l-3.8-0.5l-2.8 0.6l-1.9-0.4l-1.9 1.6l-0.9-0.3l-1.9-1.6l-0.9-0.2l-2.9 1.6l-0.9 0l-1.9-1l-5.6 0.2l-1.2 0.6l2.1 2.2l1.9 0.6l3.8-0.3l4.7 1l2.8-0.4l4.4 0.6zM413.5 52.0l0.9 0.7l2.1-0.7l-1.2-0.6l-1.8 0.6z"/>
<path fill="#2470c0" fill-rule="evenodd" d="M438.3 53.9l2.4-0.4l3.7 0.9l1.5-1.5l0-0.9l-1.1-0.9l-2.3-0.5l-1.8 0.1l-1.9 0.9l-1.9 0l-0.3 0.4l1.7 1.9zM450.3 53.9l2.5 0l0.5-1l-2.3-0.5l-0.8 0.5l0.1 1zM455.2 53.9l1.4 0.5l3.8-0.5l1.9 0.7l5.1-0.7l-0.3-1.9l-1.1-1l-3.7-1l-1.9 0l-2.8 0.9l-1.9-0.5l-1 0.6l-0.6 1l0.1 0.9l1 1zM422.2 52.9l1.6 0.4l1.8-0.4l1-0.3l0.1-0.6l-1.7-0.9l-3.1 0.2l-0.8 0.7l1.1 0.9zM429.1 52.9l3.1 0l1.2-0.9l-1.2-1.3l-0.9-0.2l-1.6 0.6l-0.7 0.9l0.1 0.9zM447.3 52.9l1.4 0l0.2-0.9l-0.7-0.9l-1.1 0l-0.5 0.9l0.7 0.9z"/>
<path fill="#1d52a8" fill-rule="evenodd" d="M443.4 53.9l1-0.3l0.4-0.7l-0.4-1.1l-2.8-0.5l-1.2 0.7l3 1.9zM461.7 52.9l0.6 0.9l0.6-0.9l-0.3-1.8l-1.3-0.5l-1.3 0.5l-0.4 0.9l2.1 0.9z"/>
<use href="#land" x="295.4" y="15.1"/>
</g>
<rect x="295.4" y="15.1" width="225.4" height="75.05" fill="none" stroke="#1a1a1a" stroke-width="0.9"/>
<text x="289.3" y="17.30" class="ax" text-anchor="end">60N</text>
<text x="289.3" y="36.06" class="ax" text-anchor="end">30N</text>
<text x="289.3" y="54.83" class="ax" text-anchor="end">0</text>
<text x="289.3" y="73.59" class="ax" text-anchor="end">30S</text>
<text x="289.3" y="92.35" class="ax" text-anchor="end">60S</text>
<text x="295.40" y="102.05" class="ax" text-anchor="middle">0</text>
<text x="314.18" y="102.05" class="ax" text-anchor="middle">30E</text>
<text x="332.97" y="102.05" class="ax" text-anchor="middle">60E</text>
<text x="351.75" y="102.05" class="ax" text-anchor="middle">90E</text>
<text x="370.53" y="102.05" class="ax" text-anchor="middle">120E</text>
<text x="389.32" y="102.05" class="ax" text-anchor="middle">150E</text>
<text x="408.10" y="102.05" class="ax" text-anchor="middle">180</text>
<text x="426.88" y="102.05" class="ax" text-anchor="middle">150W</text>
<text x="445.67" y="102.05" class="ax" text-anchor="middle">120W</text>
<text x="464.45" y="102.05" class="ax" text-anchor="middle">90W</text>
<text x="483.23" y="102.05" class="ax" text-anchor="middle">60W</text>
<text x="502.02" y="102.05" class="ax" text-anchor="middle">30W</text>
<text x="520.80" y="102.05" class="ax" text-anchor="middle">0</text>
<path d="M293.0 15.10H295.4M293.0 33.86H295.4M293.0 52.62H295.4M293.0 71.39H295.4M293.0 90.15H295.4M294.1 21.35H295.4M294.1 27.61H295.4M294.1 40.12H295.4M294.1 46.37H295.4M294.1 58.88H295.4M294.1 65.13H295.4M294.1 77.64H295.4M294.1 83.90H295.4M295.40 90.14999999999999v2.4M314.18 90.14999999999999v2.4M332.97 90.14999999999999v2.4M351.75 90.14999999999999v2.4M370.53 90.14999999999999v2.4M389.32 90.14999999999999v2.4M408.10 90.14999999999999v2.4M426.88 90.14999999999999v2.4M445.67 90.14999999999999v2.4M464.45 90.14999999999999v2.4M483.23 90.14999999999999v2.4M502.02 90.14999999999999v2.4M520.80 90.14999999999999v2.4M301.66 90.14999999999999v1.3M307.92 90.14999999999999v1.3M320.44 90.14999999999999v1.3M326.71 90.14999999999999v1.3M339.23 90.14999999999999v1.3M345.49 90.14999999999999v1.3M358.01 90.14999999999999v1.3M364.27 90.14999999999999v1.3M376.79 90.14999999999999v1.3M383.06 90.14999999999999v1.3M395.58 90.14999999999999v1.3M401.84 90.14999999999999v1.3M414.36 90.14999999999999v1.3M420.62 90.14999999999999v1.3M433.14 90.14999999999999v1.3M439.41 90.14999999999999v1.3M451.93 90.14999999999999v1.3M458.19 90.14999999999999v1.3M470.71 90.14999999999999v1.3M476.97 90.14999999999999v1.3M489.49 90.14999999999999v1.3M495.76 90.14999999999999v1.3M508.28 90.14999999999999v1.3M514.54 90.14999999999999v1.3" stroke="#1a1a1a" stroke-width="0.7" fill="none"/>
<text x="294.9" y="10.1" class="tt" textLength="94.0" lengthAdjust="spacingAndGlyphs">(c) WP > 0 & WP_MME < 0</text>
<text x="520.8" y="10.1" class="tt" text-anchor="end">15 years</text>
<rect x="529.70" y="84.51" width="5.3" height="3.24" fill="#131f5e"/>
<rect x="529.70" y="81.32" width="5.3" height="3.24" fill="#183690"/>
<rect x="529.70" y="78.13" width="5.3" height="3.24" fill="#1d52a8"/>
<rect x="529.70" y="74.94" width="5.3" height="3.24" fill="#2470c0"/>
<rect x="529.70" y="71.75" width="5.3" height="3.24" fill="#338bd2"/>
<rect x="529.70" y="68.55" width="5.3" height="3.24" fill="#4ea7df"/>
<rect x="529.70" y="65.36" width="5.3" height="3.24" fill="#76c1ea"/>
<rect x="529.70" y="62.17" width="5.3" height="3.24" fill="#a1d7f1"/>
<rect x="529.70" y="58.98" width="5.3" height="3.24" fill="#c8e9f6"/>
<rect x="529.70" y="55.79" width="5.3" height="3.24" fill="#e6f5fb"/>
<rect x="529.70" y="52.60" width="5.3" height="3.24" fill="#ffffff"/>
<rect x="529.70" y="49.41" width="5.3" height="3.24" fill="#ffffff"/>
<rect x="529.70" y="46.22" width="5.3" height="3.24" fill="#fff6c8"/>
<rect x="529.70" y="43.03" width="5.3" height="3.24" fill="#fee79a"/>
<rect x="529.70" y="39.84" width="5.3" height="3.24" fill="#fdd163"/>
<rect x="529.70" y="36.65" width="5.3" height="3.24" fill="#fcb53f"/>
<rect x="529.70" y="33.45" width="5.3" height="3.24" fill="#f9962a"/>
<rect x="529.70" y="30.26" width="5.3" height="3.24" fill="#f37524"/>
<rect x="529.70" y="27.07" width="5.3" height="3.24" fill="#ee4f27"/>
<rect x="529.70" y="23.88" width="5.3" height="3.24" fill="#dc1f33"/>
<rect x="529.70" y="20.69" width="5.3" height="3.24" fill="#b8141f"/>
<rect x="529.70" y="17.50" width="5.3" height="3.24" fill="#9c1019"/>
<path d="M529.70 20.69h5.3M529.70 23.88h5.3M529.70 27.07h5.3M529.70 30.26h5.3M529.70 33.45h5.3M529.70 36.65h5.3M529.70 39.84h5.3M529.70 43.03h5.3M529.70 46.22h5.3M529.70 49.41h5.3M529.70 52.60h5.3M529.70 55.79h5.3M529.70 58.98h5.3M529.70 62.17h5.3M529.70 65.36h5.3M529.70 68.55h5.3M529.70 71.75h5.3M529.70 74.94h5.3M529.70 78.13h5.3M529.70 81.32h5.3M529.70 84.51h5.3" stroke="#000" stroke-opacity="0.28" stroke-width="0.35"/>
<rect x="529.70" y="17.50" width="5.3" height="70.2" fill="none" stroke="#000" stroke-opacity="0.5" stroke-width="0.4"/>
<text x="541.00" y="26.38" class="cb" text-anchor="middle">0.9</text>
<text x="541.00" y="35.95" class="cb" text-anchor="middle">0.6</text>
<text x="541.00" y="45.53" class="cb" text-anchor="middle">0.3</text>
<text x="541.00" y="55.10" class="cb" text-anchor="middle">0</text>
<text x="541.00" y="64.67" class="cb" text-anchor="middle">-0.3</text>
<text x="541.00" y="74.25" class="cb" text-anchor="middle">-0.6</text>
<text x="541.00" y="83.82" class="cb" text-anchor="middle">-0.9</text>
<text x="297.9" y="114.4" class="tl" text-anchor="middle">WP</text>
<text x="336.5" y="114.4" class="tl" text-anchor="middle">WP_MME</text>
<text x="374.7" y="114.4" class="tl" text-anchor="middle">NWP</text>
<text x="414.5" y="114.4" class="tl" text-anchor="middle">NWP_MME</text>
<text x="452.7" y="114.4" class="tl" text-anchor="middle">NINO</text>
<text x="492.9" y="114.4" class="tl" text-anchor="middle">NINO_MME</text>
<text x="530.9" y="114.4" class="tlg" text-anchor="middle">PNA</text>
<text x="297.9" y="125.4" class="tv" text-anchor="middle">0.50</text>
<text x="336.5" y="125.4" class="tv" text-anchor="middle">-0.63</text>
<text x="374.7" y="125.4" class="tvg" text-anchor="middle">0.57</text>
<text x="414.5" y="125.4" class="tvg" text-anchor="middle">0.08</text>
<text x="452.7" y="125.4" class="tv" text-anchor="middle">-0.87</text>
<text x="492.9" y="125.4" class="tv" text-anchor="middle">-0.88</text>
<text x="530.9" y="125.4" class="tvg" text-anchor="middle">-0.52</text>
<clipPath id="clipb"><rect x="21.5" y="144.3" width="225.4" height="75.05"/></clipPath>
<g clip-path="url(#clipb)">
<rect x="21.5" y="144.3" width="225.4" height="75.05" fill="#fff"/>
<path fill="#fff6c8" fill-rule="evenodd" d="M116.4 219.7l1 0.9l2.2 0l-0.3-0.9l-1.6-1l-0.7-1.1l-1.2 0.2l0.6 1.9zM236.3 220.6l0.9 0l2.2 0l-1.3-0.8l-0.9-0.1l-0.9 0.9zM126.2 216.8l0.5 0l0.3-0.9l-0.6-0.7l-0.7 0.7l0.5 0.9zM120.7 215.0l1 0.3l3.7-2.4l2.9 0.1l0.9-0.8l0.5-1.9l1.4-1.8l1.8 1.5l1-0.4l0.4-2.1l-1.4-0.2l-0.2-1.7l-0.7-0.5l-0.9 0.5l0.5 1.9l-0.5 0.8l-1 0l-4.7-2.6l-0.9-1.6l-1.9 0l-1.9 0.8l-1.8-0.8l-1 0.6l-1.9 0.3l-1.8-0.9l-1.8 1.5l-1.1 0.2l-1.9-1.1l0.7-2.9l-0.6-0.1l-1 0.1l-0.9 1.5l-0.9-0.1l-1-0.7l-0.9 0.2l0.2 1l1.2 1l-0.5 0.6l-1.9-1.2l-1.8 0.7l-1-0.1l-1.9-2.1l-0.3 1.1l-1.5 0.9l-2.9 0.2l-0.9 1.8l-0.9 0.1l-1.9-2.1l-1 0.2l-1.6 2.7l1.2 0.9l3.3 1.1l0.9 1.5l0.9 0.6l2.9-1l2.8 0.4l1 2.1l0.9 0.4l0.9 0l0.9-1.4l1-0.4l1.3 1.4l-0.4 0.8l-1.3 0.1l0.4 0.2l6.5-0.8l1.9 1.1l1.9-1.1l1.9 0.3l1.9-0.5l0.9 0.2l0.9 1.6zM78.4 213.1l0.4 0l0.8-1.9l0.8-0.3l2.8 0.2l1.9-0.6l2.1-2.1l-0.3-0.6l-0.9-0.4l-1.9 0.6l-1-2.4l-2.7-1.2l-3.8 0.8l-2.8-1.1l-1.9 0.2l-2.8-0.7l-2.8 0.3l-2.9-0.9l-0.9 1l-3.7 0.5l-1.9-2l-3.8 1.8l-2.8-1l-3.8 1.6l-3.7-1.5l-5.6 0.6l-0.9-1.2l-0.2-2.8l-0.8-0.9l-1-0.2l-0.6 1.1l0.5 3.7l0.6 1l-0.5 0.9l-1.1 0l-2.3-1.9l-0.3-0.8l-1 0.7l-1.8 0.5l-1 1.5l-1.4-0.9l0.5-1l2.9-1.9l0.5-0.9l-0.8-0.9l-4 0l-0.8 0.9l-0.5 1.9l-1.1 0l-1.3-2.8l1-1.9l-0.6-0.9l-1 0.7l0 12.8l1.9-1.3l2.8 0.6l1.9 1.1l3.8-1.2l1.9 2.2l1.8-1.5l1 0l0.9 1.1l1 0.3l1.7-1.7l1.1-0.2l2.8 1.3l1.9-0.5l2.8 1.1l1.9-0.6l3.7 0.8l3.8-0.9l2.8 0.4l1.9-0.9l1.8 0.8l3.8-0.8l1.9 0.5l2.8-0.4l1.4 0.3l0.5 1.4l2.5-2.3l1.2-0.3l0.9 1.2l-0.4 1l0.4 0.9zM229.5 213.1l0.7 0l0.5-0.9l-1-2l-1-0.3l-0.9 0.4l1.7 2.8zM239.2 211.2l1.8 0.6l3.7-1.2l2.8 0.1l0-10.6l-4.7 0.4l-2.8-2.2l-3.7-0.2l-1.9-1l-1.9 0.6l-1.9-1.5l-2.8 1.2l-1.9 2.5l-0.9 0.3l-1.9-0.7l-2.8 0l-1.9 2.2l-1.9-0.4l-2.3 1.5l-1 3.7l0.5 0.7l4.7-0.9l1 2.1l0.9 0.5l3.7-1.1l1.9 0.8l2.8-0.7l5.7 3.1l4.8 0.2zM193.2 208.4l8.3-0.9l0.9-0.8l1.1 1.7l0.8 0.4l2.3-1.3l0-1l-1.3-2.3l-1.6-1.4l-0.3-1.2l-1.9-0.2l-2.1 1.4l-3.5-2.4l-3.8-0.9l-1.9-2l-0.9-0.1l-1.9 0.8l-1.9-2.4l-1.8 0.9l-2.9-0.3l-1.8 0.5l-2.9-1.2l-6.5-1.6l-13.2 0.1l-4.7-0.3l-2.8-0.8l-7.5-0.2l-5.6-1.7l-4.9 0.3l-2.6-2.1l-2.4 0.2l-0.5 1.2l-1.8 0.2l-1.3 1.5l0.5 1.8l-0.1 1.9l2.4 1.9l-0.6 0.7l-1.5 0.2l-0.4 1.8l1 0.1l0.9-0.8l0.9 0.2l1.9 2.2l0.9-1.6l1-0.7l3.7-1l1.9-1.2l3.8 2.4l1.9 0l2.8 0.9l1.9-0.9l1.8 0.6l2.9-0.4l0.9 0.9l2.8 0.2l1.9-0.4l2.8 0.9l1.9-0.3l1.9 1.3l1.8-1.2l1.9-0.2l1 0.3l1.6 1.6l2.1 0.3l3.8 1.6l3.7-0.7l3.8 0.8l1 0.8l3.7 1.1l5.6-0.2l1.1 1zM208.3 208.4l0.7 0.9l1.9-0.9l-0.9-0.7l-1.7 0.7zM119.8 201.8l0.9 0.6l1.6-0.6l-0.6-0.3l-1.9 0.3zM29.6 200.0l1-0.2l0.6-0.8l-0.6-1.2l-1 0.6l0 1.6zM52.9 200.0l1.2 0.7l0.5-0.7l-0.2-1l-1.3-0.8l-0.2 1.8zM46.7 199.0l0.8 0.5l1.3-0.5l-0.1-2.8l2.3-1.9l-0.4-0.9l0.6-3l-1.9 0.2l0.7 2.8l-0.3 0.9l-0.3 0.9l-1.7 0.1l-1.2 2.8l0.2 0.9zM119.2 195.3l0.8 0l-1.1-2.3l-0.8 0.4l0.1 0.9l1 1zM234.3 195.3l1 0.8l0.6-0.8l-0.6-0.4l-1 0.4zM106.4 190.6l0.3 0.4l0.7-0.4l0.2-2.3l-1.4 0.4l0.2 1.9zM93.2 189.6l0.3 0.5l1.2-0.5l-0.8-0.9l-0.1-1.9l-0.3-0.4l-1.9-0.2l-0.6 0.6l2.2 2.8zM99.8 188.7l0.4 0l0.3-0.9l-0.4-1.3l-3.1-0.6l-0.3 0.9l3.1 1.9zM79.7 186.8l2.5 0.5l1.4-0.5l0.2-0.9l-1-0.9l-1.5-0.3l-0.9-1.1l-0.7 3.2zM55.6 185.0l0.3 0.9l1.6-2.8l-0.6-0.7l-1 0.6l-0.3 2zM103.6 185.0l0.2 0.3l1-0.1l0.9-1.1l1.9 0.5l0.5-0.6l-0.1-0.9l-1.3-0.2l-1 1.1l-1.3 0l-0.8 1zM205.2 182.1l1 0.1l0.9-0.7l1.9 0.1l0.4-1.3l-0.4-0.4l-3.6 1.3l-0.2 0.9zM110.1 181.2l1.6-0.9l-0.3-1l-1 0l-0.9-0.9l-1-0.1l0.1 1l1.5 1.9zM54.0 180.3l1.9 0.5l0.5-0.5l-0.1-1l-1.3-0.1l-1 1.1zM100.4 180.3l0.6 0.4l0.6-0.4l0.4-1.3l-1.2 0.3l-0.4 1zM37.9 178.4l0.2 0.6l1.8-1.6l-1.8-0.1l-0.2 1.1zM229.6 178.4l1 0.8l0.5-0.8l-1.4-1.1l-0.1 1.1zM68.5 177.4l0.7 0l-0.5-0.9l-1.1 0l0.9 0.9zM73.2 177.4l0.6 0.6l1.4-0.6l-1.4-2.6l-0.9 0.8l0.3 1.8zM100.0 173.7l1 0.6l0.7-1.5l-0.6-1l-1 0.6l-0.1 1.3zM20.9 172.8l0.9-1l-0.6-0.5l-1 0.4l0.7 1.1zM41.4 172.8l0.4 0.4l1-1.4l-1.9-3.1l-0.5 0.3l-0.1 0.9l1.1 2.9zM62.9 172.8l0.5 0.4l2.3-1.4l0.5-0.9l-0.6-1l-1.2-0.1l-1.4 2l-0.1 1zM213.7 171.8l0.5-0.9l-0.5-0.8l-0.5 0.8l0.5 0.9zM72.5 169.9l0.3 0.5l0.8-0.5l0.2-0.9l-1-0.4l-0.4 0.4l0.1 0.9zM128.2 169.9l3.8 0.1l3.8-1.7l1.8 0.2l2.9-0.6l6.5-2.8l1.9 0.2l1.9-2.8l3.7 0l1-0.6l0.3-1.3l-2.2-3.1l-3.7-0.8l-1.9-1.3l-2.8 0.5l-3.8-0.3l-2.8 1.2l-1.9-0.6l-1.7 0.6l-0.2 0.6l-3.7 0.5l-1.9 1l-3.8-0.6l-3.7 0.9l-1.9-1.1l-0.9 0.1l-1.9 0.8l-1 0l-1.8 1.5l-1.9-2.6l-3.8 1.8l-1.8-1.7l-2.8 0.7l-1.9 1.2l-2.7 2.5l-0.2 1l-1.8 1.9l1.8 2.2l1 0.2l0.9-0.4l1.9 2.3l2.8-0.8l1.9 0.3l4.7-0.9l0.9 1.3l1 0l1.8-1.5l1.9-0.5l1 0l1.8 1.9l1.9-0.8l1.9 1.2l1.9-1l1.8 1.1zM206.2 169.9l1.3 0l0.2-0.9l-0.9 0l-0.6 0.9zM26.6 169.0l1.2-0.4l0.8-0.5l-1.8-0.9l-0.9 0.1l0 1.5l0.7 0.2zM245.1 169.0l0.5 0.2l1-1.1l0.5-1.9l-1.5-1.7l-0.9-0.2l-0.9 0.3l-0.4 0.7l0.4 0.9l1.2 0.9l0.1 1.9zM38.9 168.1l1.1 0.4l0.2-0.4l-0.4-3.8l-2.6-1.5l-1-0.1l-1.1 0.7l-0.5 0.9l0.7 0.6l2.3 0.4l1.4 0.9l-0.1 1.9zM50.5 168.1l1.7 0.7l0.4-0.7l-0.2-1l-1.3 0l-0.6 1zM196.5 167.1l0.3 0.5l0.4-0.5l0-1.8l0.6-0.2l4.6 1.3l1-0.3l0.4-0.8l-0.9-1.9l0.9-1.9l-1.4-3l-1.8-0.3l-3.2 0.5l-0.4 0.9l-0.1 2.8l-2 0.7l-3.7-0.3l-1-1l-0.7 0.6l0 1l-2.1 1.3l-0.1 0.6l1.1 1.8l5.6-1.5l2.4 0.6l0.1 0.9zM43.6 166.2l1.1-0.9l-1-1.2l-0.6 1.2l0.5 0.9zM213.6 166.2l0.1 0.3l0.7-1.2l-0.7-1l-0.1 1.9zM235.0 166.2l0.3 0.4l0.8-0.4l-0.8-0.9l-0.3 0.9zM229.5 165.3l2.1 0.7l0.6-1.7l-0.1-0.9l-2.4-0.5l-0.8 1.4l0.6 1zM53.0 164.3l0.5 0l0.5-0.9l-0.9-1.6l-0.8 0.6l-0.2 1l0.9 0.9zM240.6 163.4l1 0l0.6-1l-0.3-0.4l-1.3 0.4l0 1zM27.2 161.5l0.6 0.5l0.9-0.7l0.6-1.7l-0.5-0.9l-2 0.2l-0.8 0.7l1.2 1.9zM77.0 160.6l0.8 0l-1.2-1.5l-0.3 0.5l0.7 1zM34.7 158.7l1.5 0.2l1-1.2l-1-0.7l-0.9 0.2l-1.2 0.5l0.6 1zM92.6 158.7l0.9 0.4l1.3-0.4l-0.4-1l-0.9-0.4l-0.9 0.4l0 1zM236.9 158.7l1.7 0l0.5-2.2l-1-0.1l-0.9 0.6l-0.7 0.7l0.4 1zM242.7 158.7l2.9 0.2l1.9-0.5l0-1.8l-1.9 0.8l-0.9 1.1l-0.9 0.1l-1-1.2l-1.4 0.3l0.5 0.8l0.8 0.2zM28.6 155.9l1-1l-0.9-0.7l-0.6 0.7l0.5 1zM224.7 155.9l1.2 0.8l1.9-0.8l4.7-0.3l2.8-1.6l1.9 0.2l1.9-0.7l1.9 0.7l0.5-0.2l0.2-1.9l1.1-0.6l1 0l0.9 1.1l1.9-0.1l0.9 0.5l0-1.9l-1.9 0.4l-0.8-1.3l0.2-0.9l1.5-0.9l0-1.9l-0.9-0.6l-1.7 0.6l-1.1 1l-0.2-1l-1.3-0.9l-1-1.9l-6.2 0l-0.7 0.9l-0.9 0.1l-1-1l-8.1 0l-0.8 1.9l-1.4 0.6l-0.7-0.6l0.9-1.9l-5.2 0l-0.5 0.9l0.8 0.6l0.3 2.2l0.9 1.9l-0.2 1.9l2.4 1.9l0.2 0.9l-0.4 0.9l0.6 0.4l0.7-0.4l1.1-1.8l1-0.4l0.9 0.6l0.7 2.6zM20.2 154.0l1 0.5l1.6-0.5l-0.1-0.9l-0.6-0.8l-1.9-1.1l0 2.8zM100.9 154.0l1.1-0.9l-1-1.3l-1.2 1.3l0.3 0.6l0.8 0.3zM29.5 151.2l1.1-0.6l0.4-1.3l-4.2-2l0 1.1l2.7 2.8zM206.1 150.2l0.6 0l-0.3-0.9l-1.1-0.3l0.8 1.2zM209.5 149.3l0.5 0.7l0.9 0.1l1.9-0.1l1-0.7l-2-1l-1.8 0.3l-0.5 0.7zM54.8 148.4l0.2 0.4l0.9-0.3l0-1.2l-0.9-0.1l-0.2 1.2zM62.4 148.4l0.1 0.4l0.9 0.1l0.4-0.5l-0.3-1l-1.1 1zM43.5 146.5l1.2 0.5l0.9-0.3l0.5-1.1l-1.4-0.6l-1 0.6l-0.2 0.9zM66.8 145.6l0.4 0.4l0.9 0l0.7-1.4l-0.7-0.5l-0.9 0.1l-0.4 1.4zM208.9 145.6l0.6-1l-0.5-0.9l-1 0l-0.9 0.9l1.8 1zM24.8 144.6l1.1 0.7l0.9-0.1l0.6-0.6l0-0.9l-2.9 0l0.3 0.9z"/>
<path fill="#fee79a" fill-rule="evenodd" d="M112.9 213.1l2.2-0.5l1.9 0.4l2.8-0.8l2.8 1.1l1-0.2l1.8-1.3l1-0.2l0.9 0.6l1-0.6l0.8-2.3l-0.3-0.9l-3.8-1.9l-1.4-1.6l-2.9 0.9l-1.8-0.4l-3.8 0.3l-0.9-0.5l-2.9 1.1l-2.8-0.3l-2.8 0.4l-1.9-1l-1.3 2.1l-1.2 0.9l-0.2 1.9l0.9 1.5l0.9 0.2l1.9-1.1l2.8 1.9l4.7-0.1l0.6 0.4zM26.7 210.3l1.1 0l1.8-1.4l1 0l1.9 1.6l0.9-1.2l2.8-0.4l1.9 0.6l1.9-0.4l2.8 1.5l2.8-1l4.7 1.1l2.8 0.2l8.5-0.8l2.8 0.8l1.9-0.5l0.9-1l0.9 0.1l1 1l3.7-0.1l1-0.2l0.9-0.9l2.8-0.3l1 0.3l0.9 1l3.8 0.1l1.2-1.1l-1.2-0.9l-1-2.1l-0.9-0.6l-4.7 0.4l-2.8-1l-2.8 0.7l-1.9-0.6l-2.8 0.4l-1.9-0.5l-5.6 0l-1.9-1.2l-3.8 1.2l-2.8-0.9l-0.9 0.1l-2.9 1.1l-3.7-1.2l-1.9 0.5l-1.9-0.2l-5.6 2l-3.8-1.7l-0.8 0.8l-0.1 1.2l-0.9 0l-2.9-1.1l-2.3-0.1l0.1-0.9l-1.5-1.1l-1-2.8l0 8l1-1l0.9-0.1l1 1.1l2.4 0.5l1.2 1zM239.6 210.3l2.3 0.4l3.7-2.2l1.9 0.4l0-8.1l-4.7 0.5l-2.8-1.7l-1.9 0.1l-0.9-0.7l-1.9 0l-1.9-0.7l-0.9 0.2l-1.9-1l-2.8 1.1l-0.9 1.9l-2.9 1l-1.8-1.3l-1.2-0.2l-2.3 2.8l0.7 0.7l1.8-0.5l0.5 0.7l-0.2 1l1.6 2.2l1.9 0l0.9 0.7l3.2-0.1l5.3 2.5l5.2 0.3zM95.3 209.3l1 0.5l2.8-0.3l1.5-1.1l-0.1-0.9l-2.3-1.5l-2.8-0.5l-1 1l0.9 2.8zM204.1 207.5l1.2 0.2l0.3-1.2l-1.3-1.5l-0.6 0.6l0.4 1.9zM185.1 206.5l5.1 0.4l1.9-0.6l1.9 1.1l1.9-0.7l1.9 0.6l2.7-0.8l-0.8-1.8l-1.9-0.9l-1.2-2l-2.6-1.1l-1.9-0.2l-2.8-1.9l-1.9 0.4l-1.9-1.2l-1.8 0.1l-1.9-1.1l-3.8 0.7l-2.8-1.5l-3.7-1l-5.7 0.5l-2.8-0.5l-2.8 0.4l-8.5-0.8l-2.8-0.9l-8.4-0.3l-1.9-0.7l-5.7-0.7l-1.8 0.2l-1.9-0.6l-5.8 0.9l1 3.7l1 0.7l2.3 0.2l0.3 1l-1.4 1.9l0.7 0.3l2.8-1.9l2.8-0.2l1.9-1.4l1 0.1l2.8 2.6l2.8 0.1l0.9 0.5l2.9-0.7l2.8 0.8l2.8-0.8l1.9 1.2l0.9 0l2.1-0.6l0.7-1.1l1-0.3l0.3 0.4l-1.1 1l0.8 1l2.8 0l1.9 0.5l4.7-0.2l1.8 1.6l5.7 1.9l2.8-0.5l4.7 0.6l3.3 1.6zM130.1 196.2l-0.3-0.9l0.3-0.7l1-0.2l0.3 1.8l-0.3 0.3l-1-0.3zM216.0 205.6l0.8 0l0.2-0.9l-0.5-0.6l-1.1 0.6l0.6 0.9zM24.8 202.8l2.5-1l0.2-0.9l-2.6-0.1l-0.6 1l0.5 1zM34.9 201.8l0.4 0.8l0-1.8l-0.2 0.1l-0.2 0.9zM129.7 169.0l3.2-0.4l2.9-1.1l4.7 0l4.5-2.2l1.1-1.1l1.9 0l2.8-2.6l3.7-0.1l0.3-0.9l-1.2-2.1l-3.7-1.2l-1.9-1.3l-2.8 0.5l-2.9-0.5l-3.7 1.4l-1.9-0.2l-1.9 1.5l-2.8-0.6l-2.8 1.6l-3.8 0.3l-1.8-0.7l-1.9 1l-1.9-1.2l-1.9 1l-1.9 0.3l-1.8 1.9l-1.6-0.8l-0.3-2.2l-1-0.2l-2.8 1.2l-1.8-1.1l-1 0.1l-0.8 0.3l-0.3 1l-3.6 2l-1.7 2.7l0.1 0.9l0.7 0.4l1.1-0.4l0.8-1.2l0.6 0.3l0.1 2.8l1.1 0.5l5.7-1.1l0.6-0.4l0.3-1.1l0.9-0.3l3.8 1.2l1.9 0l1.9-0.6l1.8 2l1-1l2.8 1.3l1.9-0.6l3.3 1zM189.2 165.3l1 0.3l1.6-0.3l1.6-1l-3.2 0l-1 1zM198.1 164.3l3.4 0.5l0.7-0.5l-0.8-2.8l1-0.8l0.1-1.1l-1-0.9l-3.4 0.9l-0.5 3.8l0.5 0.9zM225.4 154.9l0.5 0.4l1-0.5l1.8 0.4l1.7-0.3l3-4.2l1 0.1l1.9 2.3l0.9 0.3l0.9-0.3l1-1.6l2-1.3l0.5-1.8l-0.6-1.1l-2.9 0.8l-0.9 0.8l-0.9-0.1l-0.7-1.4l0.8-0.9l-0.1-1.1l-1-0.4l-0.9 0.4l-1 1.6l-0.9 0.4l-1.2-0.9l0-0.9l-0.7-1.2l-1.9 0.1l-2.5 2l0.4 6.6l-1.2 0.9l0 0.9zM220.6 152.1l0.6 0.2l1.1-1.1l0.6-1.9l-0.3-0.9l-0.4-0.7l-3.8-2.1l-0.6 0.9l0 0.9l1.6 3.5l1.2 1.2zM237.2 144.6l0.9 0.5l1-0.3l0.1-1.1l-2.6 0l0.6 0.9z"/>
<path fill="#fdd163" fill-rule="evenodd" d="M107.8 212.2l1.7 0.4l2.8-0.8l2.8 0l1.9 0.5l2.8-0.8l1.9 0.4l0.9-0.5l1.9 0.1l3.2-2.2l-0.1-0.9l-1.2-0.9l-1.9-0.3l-1.9-1.5l-1.9 0.7l-5.6 0l-0.9-0.4l-4.7 1l-2.8-0.1l-2.5 0.6l0.2 1.8l3.4 2.9zM64.3 210.3l3.8-2.6l1 0.6l0.1 1l0.8 0.4l2.8 0l0.8-0.4l1.1-1.8l-0.9-1.3l-2.8 0.6l-6.6-0.5l-5.6-0.5l-1.9-1.1l-1 0l-2.8 1.3l-0.9 0l-1.9-1.1l-3.8 1l-3.7-0.9l-3.8 0.4l-0.9 0.8l-2 0.3l-0.7 1l2.7 1l0.9-0.5l1 0.1l2.8 1.5l2.8-0.9l8.5 1.4l2.8-0.6l4.7 0l2.7 0.8zM80.0 209.3l2.5 0l-0.3-1l-2.8-0.5l-0.9-1l-1-0.3l-1.4 1l2.4 0.7l1.5 1.1zM239.6 209.3l2.5 0l2.5-4.6l0-1.9l-4.6-2.5l-1.9 0.5l-1.8-1.1l-2.9-0.3l-2.8 1.2l-5.5 1.2l-1.4 1l-0.6 1.2l0.2 1.6l1.7 0.4l0.9 0.8l3.8 0.3l4.7 1.7l1.9-0.4l3.3 0.9zM23.6 208.4l2.3 0.2l0.5-0.2l0.1-0.9l-1.6-0.7l-0.9 0.1l-0.7 0.6l0.3 0.9zM31.5 208.4l1.2-0.9l-1.2-1l-0.9 0.2l-0.3 0.8l1.2 0.9zM97.0 208.4l1.2 0.3l0.6-0.3l0.1-0.9l-1.6-0.5l-0.7 0.5l0.4 0.9zM20.2 206.5l0 0.5l0.6-1.4l-0.6-1.7l0 2.6zM247.4 206.5l0.1-4.7l-0.9-0.2l-0.5 0.2l0.1 1.9l-0.5 1l1.7 1.8zM184.4 205.6l2.1 0.5l3.7-0.3l1.9-1.8l2.8 1.6l1-0.2l1-1.7l-0.4-0.9l-1.6-1.1l-2.8-0.1l-2.8-2.1l-2.8 0.7l-1-1.3l-1.8-0.1l-1.9-1.4l-3.8 0.7l-2.8-1.4l-1.9 0.2l-1.8-1.3l-12.3 0.5l-1.2 1l1.2 2.4l1 0.7l6.6 0.4l2.8 1.8l5.6 1.7l1.9-0.3l2.8 0.7l1.9-0.3l2.6 1.4zM142.0 199.0l1.3 0.4l1.9-0.9l1.8 1.1l1-0.1l1.9-1.1l0.9 0l1.9 1.1l0.9-0.1l2.9-2.3l0-0.9l-4.8-0.8l-2.8-1.1l-3.7-0.1l-2.9 1.1l-4.7-2.2l-2.8 0l-1.9-0.6l-0.9 0.1l-0.6 0.8l1.5 3l2.9-0.6l2.8 2.8l0.9 0.4l1.9-0.5l0.6 0.5zM125.4 195.3l1.9 0.3l2.4-2.2l-0.5-0.7l-0.9-0.1l-3.8 0.7l0.9 2zM128.9 168.1l1.2 0.3l7.5-1.8l2.9 0.4l3.7-1.9l1.9-1.7l1.9-0.2l2.8-2.5l2.3-0.1l0-1l-5.1-2.8l-1.9 0.5l-3.8-0.6l-1.8 0.3l-5.7 2.3l-2.8-0.8l-1.9 1.6l-4.7 1l-1.8-0.9l-1.9 2l-1.9-0.8l-5.6 2.2l-1.9-0.5l-2.8-2.1l-1.9 0.1l-2.8 1.6l-1.3 3.5l0.3 1.2l3.8-0.5l1.1-0.7l0.4-1.9l1.3-0.8l1.8 1.8l1 0.2l3.8 0.6l1.9-0.7l2.8 0.5l2.8 1.8l2.8-0.3l1.6 0.7zM198.5 163.4l1.1 0.6l1-0.6l-1-1.5l-0.9 0.4l-0.2 1.1zM227.8 152.1l0.9 0.7l1-0.3l0.6-1.3l-1.9-1l1.3-1.8l-1.9-1.8l-0.8 0.8l0.8 4.7zM220.0 149.3l0.9 0l-0.6-1.1l-0.7 0.2l0.4 0.9z"/>
<path fill="#fcb53f" fill-rule="evenodd" d="M107.3 211.2l2.2 0.9l4.7-1.7l3.7 1.3l1.9-0.9l1.9-0.3l0.9-0.9l1-0.1l0.9 0.8l1.4-1l0.5-0.9l-2.8-0.2l-1-1.3l-4.7 0.3l-4.7-0.5l-3.7 1.1l-3.2-0.3l-1.2 0.9l0.9 1.9l1.3 0.9zM53.8 209.3l4.6-0.9l-0.1-1.9l-1.4-1.1l-1 0.1l-3.7 2l0.1 0.9l1.5 0.9zM42.4 208.4l1.3 0.1l1.9-0.7l1.9 1l3.7-0.7l1-0.6l-1.9-1.6l-3.8 0.6l-3.7-0.5l-1.7 0.5l1.3 1.9zM59.8 208.4l4.6 0.7l0.6-0.7l-0.1-0.9l-2.4-0.8l-1.9 0.1l-0.8 0.7l0 0.9zM232.2 207.5l1.2 0l1.9-1l1.9 1.2l1.9-0.7l2.8 0l0.9-0.7l0.5-2.6l-3.3-2.7l-1.9 0.6l-2.8-1.3l-1.9 0.1l-8.3 2.4l0.7 2.8l1.1 0.9l2.8 0.1l2.5 0.9zM184.2 204.7l2.3 0.6l3.7-0.8l1.2-0.8l0.5-0.9l-2.6-2.4l-2.8 1l-1.9-1.8l-1.9-0.4l-0.9-1.2l-3.8 0.5l-2.8-1l-2.8-0.1l-0.9-0.9l-6.6 0l-5.3 0.6l0 1l0.6 0.8l3.7-0.3l1 0.9l1.9 0.2l3.7 2.4l3.8 0.6l0.9 0.6l2.8 0l1.9 0.7l1.9-0.5l2.4 1.2zM193.9 203.7l1 0.5l1-0.5l-0.7-0.9l-1.2-0.5l-0.5 0.5l0.4 0.9zM147.9 198.1l2-1.9l-0.1-0.9l-4.6-0.4l-2.2 1.3l-0.4 0.9l0.7 0.8l2.8-0.7l1.8 0.9zM152.0 198.1l1.6 0.3l0.7-1.3l-0.7-0.5l-1.9 0.3l-0.3 0.2l0.6 1zM137.6 197.1l1 0.4l1.7-0.4l0.1-0.9l-0.9-0.5l-0.9-1.4l-1.9-0.3l-0.8 0.3l1.7 2.8zM133.6 195.3l0.5 0l0.5-1l-1.7-0.9l0 1.2l0.7 0.7zM128.3 167.1l1.8 0.6l7.5-1.8l2.9 0.5l4.7-3l2.8-1l1.1-0.9l0.6-1.9l-0.4-0.9l-1.3-0.7l-1.9 0.2l-1.9-0.9l-3.7 0.1l-1.9 1.2l-3.8 1.2l-2.8-0.6l-1.9 1.6l-3.7 0.7l-3.5 1.9l-0.1 1.9l1.7 1.7l2.8-0.4l1 0.5zM104.5 166.2l1 0l0.2-1l-0.9-0.3l-0.3 1.3zM117.9 164.3l1.9 0.2l0.2-1.1l-1.1-0.2l-1 1.1zM107.4 163.4l1.1 0.1l0.7-1.1l-0.7-0.4l-0.9 0.4l-0.2 1z"/>
<path fill="#f9962a" fill-rule="evenodd" d="M108.3 211.2l2.1 0.2l3.8-2.1l3.7 1.9l2.8-2.4l1.1-0.4l-8.6-1.1l-3.7 1.1l-3.3 0l0.7 1.9l1.4 0.9zM46.6 207.5l0.9 0.6l1.4-0.6l-1.4-0.5l-0.9 0.5zM232.1 206.5l1.3 0.1l1.9-0.9l1.9 0.9l3.8-1l0.7-0.9l-0.1-1l-1.6-1.7l-2.8 0.1l-1.9-1.2l-0.9 0l-6.6 2l-0.7 0.8l-0.2 2l5.2 0.8zM183.6 203.7l1 0.3l0.6-0.3l0.6-1.9l-1.2-1.3l-2.8-0.2l-1-1.3l-15-1.8l-0.7 0.9l2.6 1.1l2.8 2.4l3.8 0.2l1.8 0.9l1.9-0.2l1.9 1l1.9-0.8l1.8 1zM188.6 203.7l1.6 0.1l0.9-1l-0.9-1.1l-0.9-0.4l-0.8 0.5l0.1 1.9zM124.3 166.2l1.1 0.2l1.9-0.7l2.8 1.2l1-0.8l1.8 0.4l5.7-1.5l1.9 0.7l5.6-3.4l1.9-0.6l0.7-1.1l-0.7-1.2l-1.9-0.4l-1.9-1.1l-1.9 0.4l-1.8-0.5l-1.9 1.3l-2.8 1.1l-3.8 0.1l-1.9 1.3l-3.7 0.8l-2.5 1.9l0.4 1.9z"/>
<path fill="#f37524" fill-rule="evenodd" d="M108.4 210.3l0.8 0l-0.4-1l-0.9 0l0.5 1zM110.0 210.3l2.3-0.9l0.6-1l-1.9 0l-1 0.9l0 1zM233.3 205.6l3-0.9l1.8 0.7l2.2-0.7l0.1-1l-1.3-0.6l-2.8 0.5l-1.9-1.6l-3.8 0.7l-2.7 2l0.8 0.8l2.9-0.8l1.7 0.9zM179.6 202.8l1.3 0l0.5-1l-0.6-0.8l-1.5-1l-3.2-1.2l-5.6 0.3l-1.1 0.9l0.8 0.9l1.3 0.4l1.8-0.5l2.8 0.8l1.9-0.2l1.6 1.4zM183.5 202.8l1.4 0l-0.3-1.4l-0.9-0.1l-0.5 0.5l0.3 1zM128.6 165.3l3.4-0.6l0.9 0.7l2.9-0.1l2.8-1.3l1.9 0.9l6.2-3.4l0.9-0.9l-3.4-2.2l-1.9 0.5l-1.8-0.5l-3.8 2.3l-3.8 0.3l-3.7 1.6l-2.4 1.7l1.8 1z"/>
<path fill="#ee4f27" fill-rule="evenodd" d="M174.9 200.0l1.2 0.5l0.9-0.5l-0.9-0.4l-1.2 0.4zM135.4 164.3l1.3 0l1.9-1.2l1.9 0.6l0.9-0.9l2.8-0.3l1.8-1.9l-0.7-1l-1.1-0.5l-1.9 0.4l-1.8-0.4l-2.9 2.2l-2.8 0.9l-1.9-0.3l-0.7 0.5l0 1l0.7 0.7l1.9-0.3l0.6 0.5z"/>
<path fill="#e6f5fb" fill-rule="evenodd" d="M21.8 220.6l1.5 0l0.7-1.5l1.9-0.4l0.9-0.8l1 0.2l0.9 1.2l0.9 0.1l1.5 1.2l0.7 0l0.1-0.9l1.5-1.1l1.9 0.4l-0.3-2.2l1.2-0.3l2.8 1.2l2.8-0.3l0.7 0.4l-0.5 1.9l0.8 0.4l1.9-0.4l1.2 0.9l1.4 0l-0.2-0.9l0.6-1l1.7-1.3l0.9-0.1l0.9 0.3l1 1.3l0.9 0.3l1.9-0.1l1.9-1.7l0.9 0.4l0.8 1.9l1.7 0.9l1.8 0l0.5-0.9l1.8-1.3l5.6-2.2l1 2.4l0.9 0.5l2.8-0.6l1 0.8l0.9 0.1l1.6-1.6l-0.1-1l0.4-0.4l0.1 1.4l0.8 1.2l1 0.1l1.8-1l2.9 0.7l1.6-1l-2.6-2l-2.8-0.2l-4.7-1.9l-5.6 1.7l-1-1.2l-0.9-0.3l-1.9 1.9l-0.9 0.1l-1.9-1.9l-1.9-0.9l-4.7 0.6l-1.9-0.9l-1.8 1.1l-1.9 0.4l-2.8-0.5l-4.7 0.4l-2.9-1.4l-0.9 0l-1.9 1.8l-4.7-0.8l-1.8 1.2l-3.8 0.8l-0.2-2.7l-0.7-0.7l-1 0l-2.1 0.7l0.8 2.8l-0.2 0.9l-1.3 1.8l-1.9-0.2l-0.8 0.3l0.5 1.9zM87.4 219.7l0.5 0.5l0.9 0.1l1.4-0.6l-0.4-1l-1.9-0.5l-0.9 0.5l0.4 1zM112.0 220.6l2.5 0l-0.2-0.9l-1.1-0.3l-1.2 1.2zM137.4 219.7l0.4 0.9l2.3 0l-1.5-2.6l-0.9 0.7l-0.3 1zM171.6 220.6l2.5 0l0.1-0.9l-0.9-0.2l-1.7 1.1zM91.5 218.7l1.1-2.8l0-1.7l-2 0.8l-0.1 0.9l1 2.8zM177.0 218.7l2.9-1.6l0.9 1l0.5-0.3l-1.2-1.9l0.4-0.9l2.2-1.5l1.3 0.5l1.5 2l1.9-1.1l2.8 1.5l2.8-0.5l1.1-1.9l0-1.8l0.8-1.9l1 0.6l0.6-0.6l-0.6-0.7l-1 0.7l-2.8-0.3l-0.9-1.1l-1-0.1l-3.7 1.2l-1-0.4l-0.9-1.3l-2.9 0.1l-1.8-1.8l-1.9-0.3l-2.8 0.7l-1.9 1.4l-0.9-1.4l-1.9-0.6l-1.9 0.6l-0.9-0.6l-1.9-0.1l-1.9 1.6l-0.9-0.1l-4.7-2l-3.8 0.4l-0.9-0.6l0.2-0.9l-1.1-0.6l-1 0.1l-0.2 0.5l0 2.8l-0.7 0.2l-2.8-1.7l-1-0.1l-1.8 0.7l-1-0.7l-2.8 1l-0.9 1.3l-1.9-0.6l-2.2 2.7l0.3 1.5l1.9 0.4l-1.1 1.8l1.1 0.6l0 1.3l0.9 0.6l2.1-0.6l0.8-0.9l-1.1-1.9l1-1.3l1-0.2l0.8 0.6l0.3 0.9l-0.5 0.9l1.1 1.9l0 0.9l1.1 0.4l1.9 0l1.9-1.6l3.7 0.1l1.9 2.6l0.9 0l1.9-2.1l0.9-0.1l1.9 0.9l1.9-1.3l1.9 0.7l0.9-0.6l1.9 0.6l1.9 2l1.9-0.8l2.8-0.5l0.9-1l0.9 0.1l0.9 2.5zM226.3 218.7l0.9 0l0-0.9l-1.3-1.9l-0.9 0.9l1.3 1.9zM214.1 217.8l0.6 0.6l1.8 0.2l0.1-0.8l2.9-2.8l-0.1-1.6l-1-0.6l-1.3 0.3l-0.6 3.4l-2.8-0.8l-0.4 1.1l0.8 1zM100.2 216.8l1.8 0.6l1.3-0.6l0.1-0.9l-2.4-0.4l-0.6 0.4l-0.2 0.9zM104.2 216.8l1.5 0.7l0.6-0.7l-1.5-0.2l-0.6 0.2zM231.3 216.8l2.1-0.9l-0.9-1.5l-0.9-0.1l-1 0.7l-0.3 0.9l1 0.9zM203.3 215.9l1 0.5l1.2-0.5l0.1-3.7l-1.3-0.9l-1.5 0.9l0.8 1.8l-0.3 1.9zM197.2 214.0l0.6 0.2l1.6-1.1l-0.6-0.9l-2 0.3l-0.5 0.6l0.9 0.9zM207.5 212.2l0.6 0.8l0.4-0.8l-0.4-0.4l-0.6 0.4zM59.1 202.8l0.6 0.3l0.5-0.3l2.3-3.3l1.9 0.3l0.9 1l1.9-0.3l1.9 1.3l4.7 0.1l1.9 1.4l0.9 0.1l2.8-1.3l2.8 1l1.9-1.5l4.7 1.6l1.9-0.6l0.9 0.1l1 0.9l0.9-0.1l0.6-0.7l-0.1-1l-1.1-0.9l1-1.9l-2.2-1.9l-1-3.2l-2.8 0.8l-1-0.1l-0.9-1.7l-0.9 0l-1 1.2l-0.9 0l-1-0.7l-0.9-2l-0.9-0.6l-2.9 0.9l-3.7-2.6l-1.9 1.2l-1.6-0.7l0.8-0.9l-2-2l-1.4 1.1l0.5 0.9l-0.6 0.9l-2.3 2.3l-0.9 0.1l-1-0.9l-0.9-0.2l-0.9 1.2l-1-0.2l0-2.3l1.4-1.8l-0.4-0.3l-1.3 0.3l-1.5 2.7l-2.3 1l0.7 1.9l2.6 0l0 0.9l-1.4 1.9l0.7 2.8l0 3.8zM61.6 198.5l-0.3-0.4l0.3-1.1l0.3 1.1l-0.3 0.4zM51.0 201.8l1.4 0l-1.2-1.9l-1.2 1l1 0.9zM109.3 200.0l2-0.5l0-2.3l-0.3 0.9l-1.7 1.9zM192.1 198.1l1 0.3l0.5-0.3l0.4-1.3l2.1-2.5l0.1-0.9l-1.9-1.9l0.6-1.1l3.8 0.9l0.9 0.9l1 0.1l0.7-0.8l0.4-0.9l-1.1-0.6l-1.1-3.2l1.1-3.3l1.8 0.6l1-0.3l0.2-0.7l-2.1-1.3l-0.9 0.2l-1-6.7l-1.8-0.7l-2.4-3.7l-0.5-0.3l-1.8 0.9l-2.9 0.1l-0.8-0.7l0.3-1.9l-0.8 0l-1.5 1l-0.7-1.9l-0.9-1l0.1-4.7l1.5-0.5l3.1-2.3l0.2-0.9l-1.4-1.8l-5.6-0.3l-1-2.1l-1.3-0.5l-0.4-0.9l2.7-0.7l0.1-1.2l-1.1-1.4l-2.8-1.3l-0.3-2l0.3-0.7l0.9-0.3l2.9 0.5l0.9-1.4l-0.2-0.9l-14.3 0l0.8 1.9l-0.4 0.9l-2.8 0.9l-1-0.9l-0.9-2.5l-1.9 0.8l-0.9 2.6l-0.9 0.2l-2.9-2.3l-0.9 0l-0.9 1l-5.7-0.1l-0.7-0.6l0.3-1.9l-4 0l0 0.9l-1.2 0.5l-0.9-0.1l-2-1.3l-22.7 0l-0.7 1.9l-2.5 1.8l1 1.9l0.2 1.9l1.3 1.3l0.9 0.2l1.9-2.2l1.4 1.6l0.6 1.9l2.7 1.4l1.9 0l1.9 1.5l1-0.1l3.7-1.9l2.8 0.7l2.8-1.2l3.8 0.6l2.8-0.8l1.9 1l4.6 1l4.1-0.3l0 0.9l-1.2 1.9l-0.5 3.7l-2.4 2.4l-2.8-0.7l-1.8 2.3l-7.6 1.7l-2.8 1.6l-0.8 2.1l-1.1 0.6l-0.9 0l-0.9-2.1l-1.9 0.9l-1.9 1.9l-0.9 0.2l-1-0.2l-1.4-1.3l-1.4-0.1l-0.9 1.1l0 1l-1.3-2l-2.8-0.9l-0.3 2.8l-0.3 0.8l-0.7 0.1l0.7 0.4l0.9-0.4l2.4 1.9l-1.4 0.6l-1-0.2l-0.9-1.2l-2.8 0.9l-2.8-0.1l0.6 2.8l-0.1 2.8l1 2.9l-1 2.8l0.4 0.6l0.9-0.1l1-1.1l0.9 0.1l0.9 3.3l1-0.3l0.9-1.9l2.8-1.4l1.9 0.6l1-0.7l0.9 0.3l1.9 2.7l2.8 0.5l2.8-1l4.7 2.3l1.9-0.3l3.7 0.7l1.9-0.3l2.8 1l3.8-0.7l2.8 1l2.8-0.7l1.9 0.2l2.8-0.9l1.9 0.8l1.9 0l2.2 0.9l3.4 0.3l2.8 0.9l1.9-1.7l0.9-0.3l1.9 0.6l0.8-0.7l1.1-0.3l1.9 0.7l1.1-1.4l1.7-0.6l0.8 1.6l2.4 0.9l0.9 1.9l0.3 0.9l-1.6 0.8l0 1.1zM142.3 174.0l-0.4-0.3l-0.1-0.9l0.5-0.5l0.9 1.4l-0.9 0.3zM217.8 198.1l0.6 0.7l1-0.1l1.4-0.6l0.8-1l-1.3-1.5l-0.9-0.2l-1.8 1.7l0.2 1zM23.6 196.2l3.2-0.1l1 0.8l2.8-1.6l3 0l0.8-1l-1.9-1.3l-1.9 0.8l-0.4-0.4l0.4-0.9l1.5-1l1.5-4.7l1.5-1.8l-0.8-1.2l-0.9 0.2l-0.9 1.1l-1 0.1l-0.9-1l-2.3-0.2l0.5-1.9l-0.6-0.9l-0.4-2.7l-1-1.3l-2.8 0.1l-0.9 1.2l-2.9 0.4l0 16.8l1.9-0.3l1.5 0.8zM245.7 196.2l0.9 0.5l0.9-0.2l0-17.5l-1.9 0l-1.8-1l-0.9 0.4l-0.1 0.9l1 1.9l0 1l-2.8-0.2l-1-1l-2.8-0.5l-1.9 0.9l-1.9-0.3l-1.8 0.3l-1-0.1l-1.9-1l-3.2 1.8l0.6 1l-0.2 1.2l-0.9-0.1l-1-2.2l-5.6-2l-0.9 0.1l-0.6 1.1l0.4 0.9l-0.8 1l-2.3 0l1 1.9l-0.5 0.8l-1.9-0.8l-0.8 0.9l0.8 0.9l1.9 0.5l0.9 0.7l1.9-0.5l0 2.4l3.7-1.6l0.6 0.4l-0.1 1.9l0.4 0.9l1 0.6l2.8-3.1l1.9 1.1l0.6 0.5l-2 1.9l1.4 2.3l0.9 0.1l1.9-1.2l0.3-0.3l-0.8-0.9l0.5-0.4l1.9-0.2l3.4-1.3l0.4-1l0.9-0.4l1 0.4l0 1.9l2.8 1.9l1.8-0.6l1.7 0.6l0.3 1.9l0.9 0.9zM54.0 190.6l0.1 0.5l0.2-0.5l1.6-0.8l0.7-1.1l-0.6-0.9l-1.5 0.9l-0.5 1.9zM83.6 189.6l0.5 0.6l1-0.5l1.8 0.5l0.4-0.6l-2.2 0l-1-0.7l-0.5 0.7zM112.9 186.8l0.3 0.2l1.9-2.3l0.4-0.7l-0.4-0.8l-0.9 0.1l-1.9 1.7l-0.4 0.9l1 0.9zM86.1 185.9l1.8 0.5l0.3-0.5l-0.3-1l-1-0.6l-1.1 0.7l0.3 0.9zM206.3 185.0l0.8 0.7l1.6-1.7l-1.6-0.6l-0.8 1.6zM36.0 183.1l1.2 0.7l3.1-0.7l-0.3-1l-1-0.4l-3 1.4zM41.8 180.3l1 0.6l0.4-0.6l-0.4-1.5l-1 0.3l0 1.2zM75.5 180.3l0.2 0.5l0.9 0.1l0.5-0.6l-0.5-1.2l-1.1 1.2zM106.6 179.3l0.4-0.9l-0.3-0.7l-0.7 0.7l0.6 0.9zM223.9 179.3l1.1 0.9l0.5-1.8l-0.5-0.3l-1.1 1.2zM42.7 177.4l0.1 0.4l0.9-0.6l0-1.5l-0.9 0.1l-0.1 1.6zM60.9 177.4l0.7 0.6l0.4-0.6l-0.4-0.6l-0.7 0.6zM216.5 177.4l1.2-0.9l-1.1-1.9l1.8-0.3l1-1.3l-0.1-1.2l-0.9-0.8l-2.8 3.6l-1.4 1l0.5 0.9l1.8 0.9zM55.2 176.5l0.7 0.8l1-0.3l0.6-0.5l-0.2-0.9l-0.6-1l-1.7-0.4l-0.9-0.9l-2.9 0.3l-1 1l1 0.9l2.9-1.1l1.1 2.1zM80.0 176.5l1.7 0l1-0.9l-0.5-0.5l-2.2 1.4zM110.9 176.5l1.4 0.1l1.2-1l-0.3-1l-1.9-0.8l-0.9 0.7l-0.3 1.1l0.8 0.9zM22.7 174.6l1.3 0.7l1.5-0.7l0-1.8l1.8-1l0.1-0.9l-1 0l-2.4 1.7l-1.1 1.1l-0.2 0.9zM103.8 174.6l1-0.3l0.3-0.6l-0.3-1l-1 0.3l-0.4 0.7l0.4 0.9zM201.9 174.6l0.5 0.4l1.5-0.4l0.4-0.9l-0.9-0.8l-1 0.2l-0.6 0.6l0.1 0.9zM29.5 173.7l1.1 0l0-0.8l-1 0.4l-0.1 0.4zM71.1 172.8l0.8 0.8l1.8-0.8l-1.8-0.5l-0.8 0.5zM116.2 172.8l0.8 0.5l1.8-0.5l-0.2-2.9l-0.8 0l-1.6 2.9zM199.0 172.8l0.6 0.6l1-4.6l-1-0.1l-2.1 1.2l1.5 2.9zM34.1 171.8l1.2-0.1l0.3-0.8l-0.3-0.6l-1.2 0.6l0 0.9zM67.3 169.0l1.8 0.7l1.3-0.7l-1.3-1.1l-1.2 0.2l-0.6 0.9zM81.9 168.1l0.3 0.5l1-0.5l0.1-1l-0.3-0.9l-1.7-1.6l-0.8 0.7l1.4 2.8zM78.0 167.1l1 0l-0.3-0.9l-0.6 0l-0.1 0.9zM66.0 166.2l1.2 0.3l0.5-0.3l-0.5-0.5l-1.2 0.5zM220.9 166.2l0.3 0.6l2.3-0.6l-0.4-0.7l-0.9-0.2l-1.3 0.9zM28.5 165.3l0.5 0l0.4-1l-0.7-0.4l-0.4 0.4l0.2 1zM57.3 164.3l0.5 0.3l0.5-0.3l-0.5-0.9l-0.5 0.9zM75.4 164.3l1.2 0.1l0-1l-0.9-1.3l-1 1.1l-0.9-3l-2.1 1.3l-0.5 0.9l0.7 0.7l0.9 0.5l1.9-0.2l0.7 0.9zM206.5 164.3l0.6 0.4l0.7-0.4l0.1-0.9l-0.8-0.7l-1.1 0.7l0.5 0.9zM224.0 163.4l1.9 0.7l1.5-0.7l-0.5-0.9l-2.9 0.9zM91.7 162.4l0.9 0.6l0.9 0l0.9-0.6l0.3-0.9l-2.1-0.4l-0.9 0.4l0 0.9zM45.2 161.5l1.3 0.4l1.3-0.4l-0.3-1.7l-1-0.2l-1.3 1.9zM80.0 161.5l1.3 0.1l0.8-2l-0.8-0.2l-0.9 0.5l-0.4 1.6zM235.9 161.5l0.4 0.5l0.9 0.1l1.2-0.6l-0.3-0.6l-0.9-0.4l-1.3 1zM43.3 160.6l0.8 0l-0.8-1l-1.1 0l1.1 1zM60.6 159.6l1.2-0.9l-0.2-1l-1.1 0l-0.4 1l0.5 0.9zM208.2 159.6l0.8 0.4l1.1-0.4l0.1-0.9l-1.2-1.4l-1 1.4l0.2 0.9zM47.6 158.7l0.8 0.5l1-0.1l1.8-1.1l1.3-0.3l-2.2-0.7l-0.3-1.1l0.7-1.9l-0.4-0.3l-1.9 0.3l-0.8 4.7zM213.0 158.7l1.7 0.5l4.9-0.5l-2-1.9l-0.6-1.9l-1.4-1.4l-0.9-0.8l-0.9 0.4l-0.1 1l-0.9 0.1l-0.4-0.2l0.1-0.9l-0.7-0.5l-0.8 0.5l0.3 0.9l-1.6 1.9l0.4 0.9l2.9 1.9zM119.7 156.8l3.9 0.2l0.7-1.1l-3.6-2.6l-2.4 2.6l1.4 0.9zM196.2 156.8l1.6 0l-1-2.2l-1.9-1l-0.6 0.4l0.2 0.9l1.7 1.9zM107.4 155.9l1.5-1l0.6-1.9l-1 0l-1.8 1.9l0.7 1zM243.3 155.9l0.5 0.3l1-0.3l-1-0.8l-0.5 0.8zM80.3 154.0l1 0.3l1-1.2l-0.3-1l-1.6-1l-1 1l0 1l0.9 0.9zM188.3 154.0l1.9 0.5l0.9-0.5l-2.7-1.2l-0.1 1.2zM60.3 153.1l0.3 0.5l1-0.7l0.2-0.8l-1.2-0.5l-0.3 1.5zM114.1 153.1l1-0.6l0.3-1.3l-0.3-0.7l-0.9-0.4l-1.2 2l1.1 1zM191.5 153.1l0.6 0.7l1.7-0.7l0.4-1.9l-1.1 0.2l-1.6 1.7zM72.0 152.1l0.8 0.4l1.4-0.4l-0.4-0.7l-1.8 0.7zM97.0 151.2l0.3 0.6l0.9 0.2l1.5-1.8l-0.6-0.8l-1.8 0.3l-0.6 0.5l0.3 1zM84.6 150.2l0.5 0.3l1.4-2.1l-1.4-0.6l-0.9 0.6l-0.2 0.9l0.6 0.9zM108.3 149.3l1.2 0.5l2.8-0.4l0.5-1l-1.5-1.1l-1.8-0.2l-1.3 1.3l0.1 0.9zM23.5 148.4l1.3 0l0.1-1.1l-0.9-0.4l-0.5 0.5l0 1zM73.6 148.4l0.2 0.4l0.6-0.4l0.2-1.9l-0.8-0.9l-0.7 0.9l0.5 1.9zM80.1 146.5l1.7 0l0.2-0.9l-1.6-0.1l-0.3 1zM30.6 145.6l1 0l0.9-1l0.1-0.9l-1.9 0l-0.5 0.9l0.4 1zM60.8 145.6l0.8 0.3l0.3-0.3l0.2-1.9l-1.5 0.3l-0.4 0.6l0.6 1zM188.4 145.6l0.9 0.4l0.8-0.4l-0.1-1.9l-0.8 0l-0.7 0.9l-0.1 1zM40.1 144.6l1.4 0l0-0.9l-1.4 0l0 0.9zM52.2 144.6l0.9 0.9l1-0.1l1.6-0.8l0-0.9l-2.6 0.1l-0.9 0.8zM111.8 144.6l0.5 0.6l0.9-0.2l1-1.3l-2.6 0l0.2 0.9zM161.0 144.6l2.2 0l0.2-0.9l-2.4 0l0 0.9zM198.0 144.6l0.7 0.6l1.9 0l1.2-0.6l-0.3-0.9l-3.8 0l0.3 0.9z"/>
<path fill="#c8e9f6" fill-rule="evenodd" d="M31.3 218.7l1.1-0.9l-0.1-1l-1.7-0.3l-0.3 1.3l1 0.9zM46.1 217.8l1.4 0.2l1.9-1.4l3.6-0.7l-2.7-1l-3.8-0.1l-1.8 1.5l-1.9-1.2l-1 0.5l-0.9-0.5l-1.5 0.8l2.4 0.1l4.3 1.8zM52.8 217.8l0.3 0.4l1-0.3l2.8-1.8l5.6 2.1l0.9 0l2-1.4l-0.8-1.8l-1.2-0.6l-0.9-0.3l-4.7 1.1l-1.9-1.8l-1.1 0.6l-1.6 1.9l0.9 0.9l-1 0.2l-0.3 0.8zM71.5 217.8l0.4 0.5l0.9-0.1l1.9-2.1l1 1.5l0.9 0.4l0.3-3l-1.2 0.1l-1 0.7l-2.8 0l-0.6 1l0.2 1zM80.2 216.8l0.2 0.7l2.6-0.7l-0.8-0.2l-2 0.2zM146.9 215.9l1.1 0.3l1.9-1.3l2.8-0.1l1.5-0.8l0.3-0.7l1 2.8l0.9 0l1.9-1.2l0.9 0l1 1l0.9 0.3l1.9-1.8l4.7 0.8l1.9-0.7l0.9 1.9l2.8-0.1l1.9-1.5l2.8 1.1l1.4-1.9l-0.4-1.9l0.9-0.3l3.8 0.5l0.9-1.1l-0.9-1.7l-2.9-0.3l-1.1-1.7l-0.7-0.4l-3.8 0.8l-1.9 1.3l-0.9-0.4l-0.9-1.4l-1-0.1l-1.9 0.7l-1.8-0.9l-2.9 1.7l-3.7-1.6l-3.8-0.3l-2.2 0.6l2.1 1.8l-0.8 1.1l-1-0.3l-0.9-1.5l-6.6 0.3l-1.8-0.5l-2.6 0.9l-0.1 1l1.7 0.7l2.6 3l0.1 1.9zM26.5 215.0l0.3 0.6l0.7-0.6l-0.7-0.8l-0.3 0.8zM188.8 214.0l0.5 0.4l0.9-0.6l0.3-1.6l-3.1-1.4l-1.3 0.4l-0.5 1l0.9 1.8l2.3 0zM139.4 211.2l1.1 0.6l1-0.6l-0.3-0.9l-2.6-1.1l-1 1.1l1.8 0.9zM75.5 201.8l1.1 0.3l2.8-0.7l1.9 0.7l0.9-0.1l1-1.2l0.9-0.3l2.6 1.3l2.1 0.2l0.9-0.4l2-2.6l-2.9 0.4l-0.7-0.4l0.1-0.9l2.5-1.8l-1-1.3l-2.8 0.6l-1.8-0.5l-2.9 0.5l-2.3-2.2l0.5-1l-3.8 0.3l-0.9-1.3l-1-0.4l-0.9 1.1l-2.8-0.9l-1.9 0.6l-1.9-0.8l-1.9 1.9l-0.9 0.1l-1-0.6l-1.8 1l-0.4 0.9l2.2 3.8l1.9 1.2l1.9 0l1.9 1.8l1.5-0.2l0.4-1l0.9-0.4l2.8 1.4l0.8 0.9zM219.2 198.1l0.8-1l-0.6-0.6l-1 0.6l0.8 1zM246.2 195.3l1.3 0.3l0-3.1l-0.9-0.3l-0.5 1.2l0.1 1.9zM20.2 194.3l0 0.5l2.9-0.9l1.8 0.8l1-0.1l5.6-4l0.1-1l-1.3-1.8l0.2-1.9l-2.7-0.9l-2.2-3.8l-1.6-1.3l-0.9 0l-1.9 1.9l-1-0.2l0 9.7l1.5 1.2l-0.5 0.8l-1 0l0 1zM176.6 193.4l1 0l2.1-1.9l1.1-1.9l1.9 2.2l2.8-1.6l1.9 0.3l1.9-1.3l1.6 1.4l0.3 1l0.9 0l0.4-1l-0.9-1l0.5-1.3l1 0.1l0.9 1.1l5.1 0.1l-1.3-0.9l0.3-1.9l1.5-1.1l0.8-2.6l-0.8-5.4l-1.5-0.3l-2.2-2.7l-1 0l-0.9 1.4l-0.9 0l-2.6-0.5l-3.1-1.4l-1.9 0l-1-2.4l1.5-2.8l-1.6-1.9l0.6-1.8l-0.4-4.7l-0.9-0.6l-2.1 0.6l-0.7-1l0.7-1.9l-2-0.9l0.4-4.7l-1.2-1.9l0.3-0.9l-1.1-3.8l-0.9 0l-1.9 1.3l-2.8-0.1l-1.9 1.3l-3.7 0.5l-1.9-1.7l-2.8 1.8l-2.9-1.7l-1.8 0.8l-1-0.4l-1.9 0.4l-5.6-1.2l1.4-1.9l-0.4-0.9l-1 0.2l-0.3 0.7l0.2 1l-3.6 0.8l-1-0.2l-1.9-1.8l-1.8 1.4l-1.1-2.1l-8.1 0l-4 0.9l-1.9-0.8l-1.8 1.2l-1.9-0.9l-1 0.4l-0.4 2l-1.5 1.9l0.6 2.8l0.4 0.3l0.8-0.3l0.8-2.8l1.2-0.2l2.8 4.9l1 0.3l1.8-0.3l-0.6 0.9l0.7 0.4l0.9-0.1l1.9 1.7l0.9 0.1l3.8-2l0.9 0l1.9 1.1l1.1-0.3l1.7-1.3l3.8 0.8l1.8-1.1l2.9 1l1.8 0.2l1.9 0.9l2.8-0.7l4.7-0.3l1.9 1.5l0.1 0.9l-1 0.6l-1-0.4l-0.2 1.7l-1.7 2.9l-2.8 2.6l-0.2 1.1l-0.7 0.4l-2.8-0.2l-2.6 1.6l-7.9 1.9l-0.7 0.9l1.8 1.4l0.9 0.2l1-1l0.9-0.1l0.7 0.5l-0.7 0.9l-1.9 0.7l-0.1 2.1l-0.8 0.4l-3.4-1.3l-0.4-0.7l-2 0.7l-0.1 1.9l-1.6 1.3l-1.5-0.4l-0.4-0.7l-3.8 0.9l-0.5-0.2l0.4-1.9l-1.7-2l-1 1.1l-0.2 1.9l0.5 0.9l-0.4 0.9l-3.6 0.5l-3.8-0.5l-1.9 0.2l-0.6 0.8l0.1 3.7l1.5 3.4l4.7 1.7l1.8-1.1l1.9 0.5l1.9-0.2l1.9 2l2.3 1.2l3.3-1l3.8 2.1l2.8-0.1l3.7 1l1.9-0.3l1.9 0.8l2.8 0l3.8-0.7l1.8 0.9l1.9-0.5l1.9 0.1l2.8-1l1.9 0.8l2.8-1l2.8-0.3l3.3 3zM158.3 167.5l-0.5-0.4l-0.4-1l0.9-0.3l0.4 1.3l-0.4 0.4zM57.5 192.5l1.3 0l0.2-1l-1.3 0l-0.2 1zM239.8 191.5l1 0l1.1-1.8l1.9 1.7l3.2 0.1l0.5 0.5l0-12.2l-2.7 0.5l0.9 2.8l-1 0.5l-1.9-0.2l-2.8 1.8l-0.6-0.2l-0.5-1.9l-0.8-0.7l-0.9-0.1l-1.9 1.1l-1.9-1.3l-2.6 1l0.8 0l0.5 0.9l-0.3 2.8l2.6 1.3l0.9-0.7l1 0.1l1.8 1.1l1.7 2.9zM231.2 190.6l1.3 0.5l0.9-0.3l1-1.2l-1-0.8l-1.8 0.2l-0.6-1.2l0.1-1l-1.4-1.8l0-1l0.9-0.9l-0.4-1l-1.5-0.7l-1.1 0.7l-0.7 5.7l0.3 0.9l1.5 1.1l2.5 0.8zM222.8 187.8l0.3 0.4l0.6-0.4l0.8-1.9l-1.4-2.9l-0.9 0.5l-0.3 1.5l0.9 2.8zM219.2 186.8l1.1 0.5l0.4-0.5l-2.3-2l-0.7 0.2l1.5 1.8zM190.5 173.7l1.6 0.5l1-0.9l1.8-0.5l-0.9-0.5l-3.1 0.5l-0.4 0.9zM123.2 172.8l0.4 0.7l0.6-0.7l-0.6-0.9l-0.4 0.9zM187.9 172.8l0.5 0.3l1.1-0.3l-1.1-1.1l-0.5 1.1zM140.0 171.8l0.5 0.7l0.8-1.6l-0.8-0.5l-0.5 1.4zM198.8 170.9l0.8 0.7l0-1.6l-0.8 0.9zM212.7 156.8l1 0.8l1-0.3l1-1.4l0.1-1l-1.1-0.3l-1 1l-0.9 0l-1-0.7l-0.9 1l1.8 0.9z"/>
<path fill="#a1d7f1" fill-rule="evenodd" d="M46.5 216.8l1 0.2l0.4-1.1l-1.4 0l0 0.9zM62.9 216.8l0.5 0.4l1-0.3l0.1-1l-1.1-0.4l-0.5 1.3zM149.3 214.0l2.9 0l0.3-1.8l1-1l-0.2-0.9l-1.6-0.3l-0.9 1.9l-0.9-0.1l-1.1-1.5l-1.3 0l-0.6 0.9l0 1l2.4 1.8zM165.7 214.0l2 0.4l2-1.3l0.8-1.6l1.1 2.5l0.8 0.3l1.9-1.7l0.9 0.2l1.9 1.4l0.9-0.1l0.6-2.9l1.9-0.9l-1.5-2.3l-2.9 0.3l-2.8 1.6l-0.9 0l-0.9-1.6l-1-0.3l-3.7 1.5l-3.8-0.1l-2.8-1.2l-2.8 2.4l-1.7 0.6l-0.4 1l3 1.3l2.8-0.4l1 0.4l1.8-0.2l1.8 0.7zM182.4 211.2l0.5 0l0.3-0.9l-2.1 0l1.3 0.9zM76.4 200.9l2.1 0.2l1.9-0.6l0.9 0.3l2.8-1.4l1.9 0.1l1.8-2.4l-0.9-0.6l-4.7 0.2l-3.7-2.7l-1.9 0l-0.9-0.5l-1 0l-0.9 0.9l-1-0.1l-0.6-1.8l-1.2-0.4l-1.9 0.6l-1.9-0.8l-3.5 3.4l-0.2 0.9l0.9 1l0.9 0.8l1.9 0l1.9 1.8l1.9-1.1l0.9-0.1l4.5 2.3zM24.4 193.4l0.5 0.3l1-0.3l1.3-1.9l-2.3-0.9l-0.4-3.8l0.4-0.3l1-0.3l0.7 0.6l-0.1 1l2.2 3.2l1.3-0.4l0.3-1l-1.3-2.8l-2.1-0.9l-1-2.7l-1.9-2.3l-0.6 0.3l-0.1 4.7l-0.8 0.9l-1 0l-0.3-2.8l-1-0.1l0 3.4l0.5 0.5l-0.5 2.7l4.2 2.9zM152.2 191.5l1.4 0.2l4.7-1.3l0.9 0.7l3.8-0.1l2.8-1.1l1.9 0.8l1.9-0.9l3.7-0.4l3.8 1.9l0.9-0.1l1-0.3l0.9-2l0.9-0.5l1.5 0.3l0.4 1.4l1-0.3l0.3-0.2l-1.2-0.9l0.9-2.6l0.9 0l0.7 1.7l-0.5 0.9l0.7 0.4l3.8-2l1.9 0.3l1.9-0.3l2.8-1.6l1.9 0.2l1.8-0.5l0.6-2.1l-0.4-3.8l-0.2-0.7l-12.2-3.2l-1.1 0.2l-1.7 1.4l-2.5-2.4l1.6-1.5l-0.3-1.3l1.4-1.9l-0.1-0.9l-1.2-1.9l0.4-1.8l-1.3-1l-0.3-0.9l0.4-1l-0.9-0.8l-1.9 0.1l-3.2-2.1l1-1.9l0.1-1.8l1.2-1.5l0.4-1.3l-0.4-1.3l-1.8-1.6l0.9-1.8l-1-1.4l-2.8 1.1l-1.9 0.1l-1.9 1l-1.9-0.2l-2.8 0.7l-1.9-1.2l-2.1 1.7l-0.7 1.9l-1-0.9l0.9-1.9l-0.8-1.1l-1-0.1l-1.8 1l-2.9 0.3l-0.9-0.3l-0.9-1l-1.9-0.5l-2.8 0.1l-1-0.6l-2.8-0.1l-1.9-0.9l-1.8 0.6l-1-0.3l-0.9-1.3l-1.9 0l-1.9-1.1l-0.9 0.3l-1-0.5l-4.6 1.7l-2.9-0.4l-1.7 2.3l1.7 4.1l1 0.4l0.9-1l1.9-0.2l0.6 0.5l0.3 1.6l1 1.4l0.9-0.6l1.9 0.4l2.8-1.8l1 1.8l0.9 0.5l1.4-0.5l1.4-1.6l2.8 0.6l1-1.2l3.7 1.3l2.8-0.2l1.9 1.7l1.9-1.8l1.9 1.2l1.8 0.2l2.9-0.8l1.8-2l1 0.3l-0.1 1.4l-1.8 0.4l-0.4 0.5l1.6 1.9l0 0.9l-1.8 2.8l0.6 1l-1.9 0.4l-2.4 3.3l1.5 2.3l0.9 0.5l-1.2 1l-1.6 0.5l-0.9-0.1l-1-1.6l-0.9 0l-1.9 0l-0.9 0.8l-3.8 0.4l-1.5 0.9l1.2 1.9l-0.3 0.9l-3.1 1.5l0 1.3l-1 1.1l-4.7-0.6l-0.9 0.3l-1.9 1.6l-1.9 0.6l-12.2 0.9l-1.9 0.8l-1.8-1.1l-1 1l0.2 2.9l0.8 1.9l8.4 2l2.2-0.1l2.5 1.5l0.9-1.3l2.9 1.8l1.8-0.9l1 0.1l0.8 0.7l-0.4 0.9l0.5 1.1l1 0.1l1.8-0.6l4.7 1.5l5.2 0.7zM153.6 171.6l-0.9-1.7l0.9-0.8l1.5 0.8l0.2 1l-0.8 0.7l-0.9 0zM179.0 175.7l0-0.3l1-0.8l0.1 1l-1.1 0.1zM147.0 175.6l0-0.6l1-0.4l0.4 1l-1.4 0zM150.8 172.8l-1.3-1l0-0.9l1.4 0l-0.1 1.9zM247.3 190.6l0.2-6.9l-2.8 1.2l-1.9-0.2l-2.8 2l-0.9 0.3l-1-0.7l-0.5 0.5l2.4 2.7l2.8-0.9l1.9-2.4l0.5 0.6l-1.5 2.8l3.6 1zM228.2 188.7l1.5 0.6l0.6-0.6l-1.6-3.4l-0.9 1.5l-0.2 1l0.6 0.9zM232.7 185.9l0.7 0.9l1-0.2l0.2-1.6l-1.2-0.7l-0.7 1.6z"/>
<path fill="#76c1ea" fill-rule="evenodd" d="M166.2 213.1l1.5 0.5l1.6-1.4l0.3-1l-1-0.9l-2.2 1.9l-0.2 0.9zM158.1 212.2l1.1 0.3l0.8-0.3l1-1l0-0.9l-0.8-0.5l-1.4 0.5l-1 0.9l0.3 1zM175.7 212.2l1.4 0.5l1.1-3.4l-3 0l-2.5 1.9l3 1zM161.5 211.2l1.5 0.8l1.6-0.8l-0.5-0.9l-1.1-0.2l-1.4 0.2l-0.1 0.9zM76.2 200.0l2.3 0.5l4.3-2.4l-2.4-1.9l-3 0l-1.7-1.7l-1.9 0.7l-3.8 0l-1.9-2l-0.9-0.1l-0.7 1.2l-1.6 1l0.4 1.3l2.4 0.5l1.4 1.6l1.9-0.8l0.9 0.2l4.3 1.9zM21.9 190.6l1.2 0.2l0.9-0.9l0-1.2l-0.9-0.7l-1 0.1l-0.3 0.6l0.1 1.9zM152.4 190.6l1.2 0.3l0.9-1.2l1.9 0.5l1.9-0.4l1.9 0.4l2.8-2.6l0.9 1.7l2.9-1.1l0.9 0.6l4.7-0.8l0.9-1.1l1-0.2l0.9 1.1l0 1.1l0.9-0.1l0.5-1l1.4-0.6l3.8 0l1.9-2l0.9 0l1.9 1.5l0.9 0.1l1.9-0.5l2.8 0l4.7-1.8l1.9 0.5l0.9-0.4l0.2-0.6l0-3.7l-0.2-0.9l-6.5-1.9l-4.7-0.4l-1.9 1.2l-1 0l-3.7-0.9l-7.7-0.9l0.3-0.9l0.8-0.6l2.8 0.1l1-1.2l2.8-1.1l0.9-1.9l1-1l-0.7-3.7l-2.2-2.7l-2.8-2.4l-1.9-0.8l-0.9 0.2l-0.5-0.9l1.6-1.9l0.5-2.8l1.4-0.9l0.3-0.9l-0.5-1l-0.9 0.1l-1-0.7l-0.9-2.3l-0.9 0.3l-1 1.5l-1.8 1.2l-1 1.2l-0.9 0.2l-0.6-0.5l0.7-1.9l-1.1-0.9l-1.8 0.4l-1.1 0.5l0 1.9l-1.2 1.8l0.7 1l-0.5 1.8l0.5 4.7l-1.3 0.7l-1.8-0.6l-1.6 1.8l0.2 1l1.4 0.9l0.4 0.9l-0.4 1l-4.8 1.8l0.1 1.9l-1 2.2l-2.8 0.8l-3.7-0.6l-0.3 1.4l-1.5 0.9l-5.8-0.4l-1.8 1l-0.8-0.6l-1.1 0l-1.5 0.9l-3.2 1l-9.4 0.4l-3.8 1.2l-1.8 0l-0.2 2.1l0.5 1l4.4 0.8l3.7 1.6l3.8 0l0.9-0.5l3.8 1.6l2.8-0.2l1.9 1.2l0.9 0l1.9-0.9l0 2l6.6 1.8l2.5 0.1zM240.7 187.8l1.2-0.1l0.9-0.7l0.1-1.1l-2.2 1.9zM246.3 185.9l1.2 0.7l0-1.6l-0.9 0l-0.3 0.9zM24.8 185.0l0.6 0l-0.5-1.3l-0.3 0.3l0.2 1zM157.3 153.1l1 0.3l1.5-0.3l-0.8-1.9l0.8-1.9l-0.6-0.3l-1.5 1.2l-2.2 0.5l-0.1 0.5l1.9 1.9zM131.0 151.2l1.9 0.9l2.9-0.9l1.8 0.3l1.9-0.5l3.8 0.8l1.9-1.1l2.8 1.1l1.7-0.6l0.6-2.8l-2.3 0.7l-1.9-1.3l-5.6-0.4l-2.9-1.6l-3.7-0.2l-1.9-1l-2.7 1l-1 0.8l-1.9-0.3l-0.7 0.4l-0.1 0.9l1.7 2.1l2.8 0.2l0.9 1.5z"/>
<path fill="#4ea7df" fill-rule="evenodd" d="M175.5 211.2l1.6 0.2l0-1.1l-1-0.3l-0.7 0.3l0.1 0.9zM76.4 199.0l2.1 0.9l2.2-1.8l-1.3-1.2l-2.8 0.7l-0.9-1.6l-4.6 0.2l0 0.9l2.7 1.2l1.9 0l0.7 0.7zM148.7 189.6l2 0l0.6-0.9l-0.4-0.9l0.8-0.5l1 0.4l2.8-0.5l3.7 2.2l1 0l0.6-0.7l0.6-1.9l1.6-0.3l1.9 1.2l1.9-0.7l1.8 0.5l5.7-1.6l1.8 1.1l2.9-0.7l1.8 0l2.2-1.3l1.6-0.3l1.9 1.1l5.6-0.3l5.7-1.9l1.8 0.3l0-3.6l-6.5-2.2l-2.9 0.3l-1.8-0.3l-2.9 0.7l-3.7-0.4l-8.5-1.3l-1.8-1.3l-2-0.2l-0.8-1l0-1.8l-1-0.3l-0.8-1.6l1.7-0.4l1 0.3l2.3 2l0.5 1.1l0.9 0.3l1.9-0.6l1.9 0.7l0.9-0.4l0.5-1.1l2.3-1.2l1.4-2.6l-0.2-2.8l-2.1-1.9l-2.2-2.8l-0.6-0.4l-2.8 0.1l-0.7-0.6l0-1l1-0.9l0.7-1.9l-1-1.2l-0.1-1.6l-0.9-0.9l-0.9-0.2l-3.4 3l0.4 0.9l-0.8 0.6l-0.9-0.1l-0.9-0.7l-1 1l0.3 4.8l-2 1.9l-0.9 3.8l0.1 0.9l1 0.9l-1.3 0.9l-0.9-1.3l-1-0.2l-1.1 0.6l-0.9 1l1.1 0.9l-0.2 1l-3.6 2.6l-4.7 0.2l-2.8 1.3l-5.6 0.3l-1.9 0.8l-2.8-0.3l-4.7 1.1l-9.4 0.4l-4.4 2l-0.1 0.9l3.6 0.9l1.8 1.5l1.9 0.6l4.7-0.5l2.8 1l2.8 0.1l2.9 0.8l2.8-0.6l2.8 1.3l2.8-0.4l0.5 1l-1 0.9l0.3 0.9zM165.8 170.4l-0.5-0.5l0.5-0.4l1 0.4l0 0.4l-1 0.1zM166.5 154.9l1.2 0.7l1.1-0.7l-1.4-1.8l-0.1-1l-0.5-0.2l-0.3 3zM132.0 151.2l3.8-0.7l1.8 0.2l1.9-0.9l1.9 0.5l0.9-0.5l1 0.7l2.8-1.2l-0.9-0.5l-5.7-0.9l-1.9-1.5l-3.7 0l-1.9-1.2l-1.9 0.6l-2.1 2.6l2.1 0.1l1.9 2.7z"/>
<path fill="#338bd2" fill-rule="evenodd" d="M78.0 198.1l0.5 0.8l0.7-0.8l-0.7-0.2l-0.5 0.2zM159.1 188.7l0.3-0.9l-0.5-1l1.3-1.2l8.4 1.2l5.7-1.5l1.8 1l1-0.1l1.9-0.7l1.8 0.1l3.8-1.3l1.9 0.8l5.6-0.3l3.4-0.8l2.9-1.9l0.2-0.9l-0.8-1l-2.9-0.5l-2.8-1.1l-6.6 0.6l-12.2-1.4l-4.7-1.7l-1.8 0.9l-1-0.1l-1.7-2.3l-0.2-0.8l-3.7 0.8l-3.8 1.8l-5.6 0l-1.9 0.9l-2.2 0.1l-1.5 1.1l-1.9-0.5l-1.9 0.5l-4.7 0l-2.8 0.7l-5.6 0.3l-1.9 0.7l-1.9-0.4l-1.7 0.5l-1 0.9l2.7 1.5l0.9 1.3l1.9 0.7l4.7-0.4l3.8 1.1l2.8-0.1l1.9 0.6l2.8-0.4l2.8 0.8l2.6-0.4l4 0.9l1.8-0.7l2.1 0.7l2.5 1.9zM163.4 172.8l0.5 0.9l1 0l0.8-0.9l-0.8-1.1l-1.1 0.1l-0.4 1zM173.1 171.8l2.1 0.8l3.8-1.2l0.8-0.5l0.9-1.9l0.4-1.9l0-0.9l-2.7-1.9l-1.3-2.2l-3.8 0.1l-0.4-2.6l1.3-1.9l-1.7-1.8l0.5-1l-0.1-0.9l-0.5-0.2l-1 1.1l0.6 1l-1.8 1.8l-2.5 1.1l-0.9 0.8l-0.1 1l0.5 5.6l0.9 2.8l1.5 0.7l1.9 1.8l1.6 0.3zM132.1 150.2l0.8 0.3l2.9-0.8l1.8 0.3l1-0.7l0-0.9l-1-1.2l-3.7-0.1l-1.9-1.1l-0.9 0.2l-0.5 0.3l0 0.9l1.5 2.8z"/>
<path fill="#2470c0" fill-rule="evenodd" d="M152.0 185.9l0.7 0.3l2.8-0.6l1.9 0.7l3.7-1.3l7.5 0.9l5.7-1.1l2.8 0.7l0.9-0.7l1.9 0.3l4.7-1.2l6.6 0.4l3.7-0.4l2.4-1.8l0.1-0.9l-5.3-1.9l-6.6 0.3l-10.3-1.3l-2.8 0.1l-3.8-1.2l-2.8 0.4l-2.8-2.6l-0.9 0.2l-1.9 1.5l-5.7 0.8l-3.7-0.5l-5.6 1.9l-1.9-0.3l-4.7 0.6l-1.9-0.3l-2.8 0.6l-5.6 0.3l-2.9 1.6l-0.9-0.8l-1 0.6l1 0.3l0.9 1.7l1.9 1l4.7-0.3l3.8 1.1l6.5-0.1l3.8 0.8l2.8-0.4l3.1 0.6zM175.9 170.9l2.1-0.2l1-0.6l1.2-2l0-1.9l-5-2.9l-1.9 0.6l-0.9-0.2l-0.7-2.2l1.2-3.8l-0.5 0l-4 1.9l-0.7 1.2l-0.2 1.6l1.1 1.9l2 1l-1.5 1.8l0.3 1l1.5 0.9l0.6 1.5l4.4 0.4zM132.4 148.4l0.5 0.6l1.8-0.6l-1.8-1l-0.5 1z"/>
<path fill="#1d52a8" fill-rule="evenodd" d="M144.2 185.0l2.8 0.1l1.9-0.3l3.8 0.8l1.8-0.5l2.9 0.3l3.7-0.7l9.4 0.3l3.8-0.6l1.8 0.5l1.9-0.8l1.9 0.3l5.6-1l4.7 0.4l2.9-0.6l1.8 0.1l1.5-1.2l-0.6-0.9l-4.6-1.5l-5.7 0.3l-10.3-1.2l-2.8 0.5l-3.8-1.3l-2.8 0.2l-1.9-0.7l-2.8 0.4l-1.9-0.5l-6.5 0.8l-1.9-0.7l-5.6 1.9l-8.5-0.1l-8.4 0.8l-2 2l0 1l2 0.8l3.7-0.3l3.8 1l2.8-0.3l5.6 0.7zM175.4 169.9l1.7 0.3l1.9-1.1l0.5-2l-0.4-0.9l-3.9-1.6l-3.3 0.7l-0.6 0.9l1.1 3.1l0.9 0.6l2.1 0zM168.8 163.4l1.7 0.5l0.5-0.5l-0.3-1.9l0.4-0.9l-0.6-1.2l-1 0.2l-1 1.9l0.3 1.9z"/>
<path fill="#183690" fill-rule="evenodd" d="M152.0 185.0l9.1-0.6l4.7 0.2l2.8-0.7l1.9 0.5l3.8-0.3l1.8 0.3l1.9-0.7l5.7-0.3l2.8-0.8l3.7 0.7l4.8-1.2l-1.9-1.4l-1.9-0.5l-1.9 0.5l-1.9-0.5l-1.9 0.4l-1.8-0.7l-7.6-0.7l-3.7 0.6l-3.8-1.1l-2.8 0.1l-1.9-0.6l-2.8 0.4l-2.8-0.6l-5.6 0.9l-2.8-0.8l-1.9 1l-2.8 0.5l-8.5 0.1l-7.5 0.7l-1.7 0.8l-0.3 0.9l1.1 1.3l4.6 0.1l2.9 0.8l2.8-0.5l6.6 0.9l3.7-0.4l3.1 0.7zM174.1 169.0l3 0.6l1.1-0.6l0.5-0.9l-0.1-1l-1.5-0.9l-2.8-0.8l-1.6 0.8l0.6 2.6l0.8 0.2z"/>
<path fill="#131f5e" fill-rule="evenodd" d="M143.3 184.0l3.7 0.3l2.9-0.3l2.8 0.7l7.5-0.6l5.6 0.1l2.8-0.6l7.5 0.3l5.7-1l1.9 0.2l1.8-1l0-0.9l-1.8-1l-7.6-0.6l-3.7 0.7l-4.7-1.2l-2.8 0.2l-1.9-0.5l-1.9 0.3l-2.8-0.6l-5.6 1l-2.8-0.9l-1.9 0.9l-2.8 0.4l-8.5 0.2l-8.7 1.1l-0.1 0.9l1.3 0.9l3.7 0.2l2.9 0.7l1.8-0.5l5.7 0.6zM190.0 182.1l1.2 0.4l1.2-0.4l0.4-0.9l-1.6-0.4l-1.2 0.4l0 0.9zM186.9 181.2l0.5 0.4l1.1-0.4l-1.1-0.2l-0.5 0.2zM174.8 168.1l2.3 0.8l0.8-0.8l-0.6-1l-1.2-0.5l-1.4 0.5l0.1 1z"/>
<use href="#land" x="21.5" y="144.3"/>
</g>
<rect x="21.5" y="144.3" width="225.4" height="75.05" fill="none" stroke="#1a1a1a" stroke-width="0.9"/>
<text x="15.4" y="146.50" class="ax" text-anchor="end">60N</text>
<text x="15.4" y="165.26" class="ax" text-anchor="end">30N</text>
<text x="15.4" y="184.03" class="ax" text-anchor="end">0</text>
<text x="15.4" y="202.79" class="ax" text-anchor="end">30S</text>
<text x="15.4" y="221.55" class="ax" text-anchor="end">60S</text>
<text x="21.50" y="231.25" class="ax" text-anchor="middle">0</text>
<text x="40.28" y="231.25" class="ax" text-anchor="middle">30E</text>
<text x="59.07" y="231.25" class="ax" text-anchor="middle">60E</text>
<text x="77.85" y="231.25" class="ax" text-anchor="middle">90E</text>
<text x="96.63" y="231.25" class="ax" text-anchor="middle">120E</text>
<text x="115.42" y="231.25" class="ax" text-anchor="middle">150E</text>
<text x="134.20" y="231.25" class="ax" text-anchor="middle">180</text>
<text x="152.98" y="231.25" class="ax" text-anchor="middle">150W</text>
<text x="171.77" y="231.25" class="ax" text-anchor="middle">120W</text>
<text x="190.55" y="231.25" class="ax" text-anchor="middle">90W</text>
<text x="209.33" y="231.25" class="ax" text-anchor="middle">60W</text>
<text x="228.12" y="231.25" class="ax" text-anchor="middle">30W</text>
<text x="246.90" y="231.25" class="ax" text-anchor="middle">0</text>
<path d="M19.1 144.30H21.5M19.1 163.06H21.5M19.1 181.83H21.5M19.1 200.59H21.5M19.1 219.35H21.5M20.2 150.55H21.5M20.2 156.81H21.5M20.2 169.32H21.5M20.2 175.57H21.5M20.2 188.08H21.5M20.2 194.33H21.5M20.2 206.84H21.5M20.2 213.10H21.5M21.50 219.35000000000002v2.4M40.28 219.35000000000002v2.4M59.07 219.35000000000002v2.4M77.85 219.35000000000002v2.4M96.63 219.35000000000002v2.4M115.42 219.35000000000002v2.4M134.20 219.35000000000002v2.4M152.98 219.35000000000002v2.4M171.77 219.35000000000002v2.4M190.55 219.35000000000002v2.4M209.33 219.35000000000002v2.4M228.12 219.35000000000002v2.4M246.90 219.35000000000002v2.4M27.76 219.35000000000002v1.3M34.02 219.35000000000002v1.3M46.54 219.35000000000002v1.3M52.81 219.35000000000002v1.3M65.33 219.35000000000002v1.3M71.59 219.35000000000002v1.3M84.11 219.35000000000002v1.3M90.37 219.35000000000002v1.3M102.89 219.35000000000002v1.3M109.16 219.35000000000002v1.3M121.68 219.35000000000002v1.3M127.94 219.35000000000002v1.3M140.46 219.35000000000002v1.3M146.72 219.35000000000002v1.3M159.24 219.35000000000002v1.3M165.51 219.35000000000002v1.3M178.03 219.35000000000002v1.3M184.29 219.35000000000002v1.3M196.81 219.35000000000002v1.3M203.07 219.35000000000002v1.3M215.59 219.35000000000002v1.3M221.86 219.35000000000002v1.3M234.38 219.35000000000002v1.3M240.64 219.35000000000002v1.3" stroke="#1a1a1a" stroke-width="0.7" fill="none"/>
<text x="21.0" y="139.3" class="tt" textLength="95.0" lengthAdjust="spacingAndGlyphs">(b) WP < 0 & WP_MME < 0</text>
<text x="246.9" y="139.3" class="tt" text-anchor="end">7 years</text>
<rect x="255.80" y="213.71" width="5.3" height="3.24" fill="#131f5e"/>
<rect x="255.80" y="210.52" width="5.3" height="3.24" fill="#183690"/>
<rect x="255.80" y="207.33" width="5.3" height="3.24" fill="#1d52a8"/>
<rect x="255.80" y="204.14" width="5.3" height="3.24" fill="#2470c0"/>
<rect x="255.80" y="200.95" width="5.3" height="3.24" fill="#338bd2"/>
<rect x="255.80" y="197.75" width="5.3" height="3.24" fill="#4ea7df"/>
<rect x="255.80" y="194.56" width="5.3" height="3.24" fill="#76c1ea"/>
<rect x="255.80" y="191.37" width="5.3" height="3.24" fill="#a1d7f1"/>
<rect x="255.80" y="188.18" width="5.3" height="3.24" fill="#c8e9f6"/>
<rect x="255.80" y="184.99" width="5.3" height="3.24" fill="#e6f5fb"/>
<rect x="255.80" y="181.80" width="5.3" height="3.24" fill="#ffffff"/>
<rect x="255.80" y="178.61" width="5.3" height="3.24" fill="#ffffff"/>
<rect x="255.80" y="175.42" width="5.3" height="3.24" fill="#fff6c8"/>
<rect x="255.80" y="172.23" width="5.3" height="3.24" fill="#fee79a"/>
<rect x="255.80" y="169.04" width="5.3" height="3.24" fill="#fdd163"/>
<rect x="255.80" y="165.85" width="5.3" height="3.24" fill="#fcb53f"/>
<rect x="255.80" y="162.65" width="5.3" height="3.24" fill="#f9962a"/>
<rect x="255.80" y="159.46" width="5.3" height="3.24" fill="#f37524"/>
<rect x="255.80" y="156.27" width="5.3" height="3.24" fill="#ee4f27"/>
<rect x="255.80" y="153.08" width="5.3" height="3.24" fill="#dc1f33"/>
<rect x="255.80" y="149.89" width="5.3" height="3.24" fill="#b8141f"/>
<rect x="255.80" y="146.70" width="5.3" height="3.24" fill="#9c1019"/>
<path d="M255.80 149.89h5.3M255.80 153.08h5.3M255.80 156.27h5.3M255.80 159.46h5.3M255.80 162.65h5.3M255.80 165.85h5.3M255.80 169.04h5.3M255.80 172.23h5.3M255.80 175.42h5.3M255.80 178.61h5.3M255.80 181.80h5.3M255.80 184.99h5.3M255.80 188.18h5.3M255.80 191.37h5.3M255.80 194.56h5.3M255.80 197.75h5.3M255.80 200.95h5.3M255.80 204.14h5.3M255.80 207.33h5.3M255.80 210.52h5.3M255.80 213.71h5.3" stroke="#000" stroke-opacity="0.28" stroke-width="0.35"/>
<rect x="255.80" y="146.70" width="5.3" height="70.2" fill="none" stroke="#000" stroke-opacity="0.5" stroke-width="0.4"/>
<text x="267.10" y="155.58" class="cb" text-anchor="middle">0.9</text>
<text x="267.10" y="165.15" class="cb" text-anchor="middle">0.6</text>
<text x="267.10" y="174.73" class="cb" text-anchor="middle">0.3</text>
<text x="267.10" y="184.30" class="cb" text-anchor="middle">0</text>
<text x="267.10" y="193.87" class="cb" text-anchor="middle">-0.3</text>
<text x="267.10" y="203.45" class="cb" text-anchor="middle">-0.6</text>
<text x="267.10" y="213.02" class="cb" text-anchor="middle">-0.9</text>
<text x="24.0" y="243.7" class="tl" text-anchor="middle">WP</text>
<text x="62.6" y="243.7" class="tl" text-anchor="middle">WP_MME</text>
<text x="100.8" y="243.7" class="tl" text-anchor="middle">NWP</text>
<text x="140.6" y="243.7" class="tl" text-anchor="middle">NWP_MME</text>
<text x="178.8" y="243.7" class="tl" text-anchor="middle">NINO</text>
<text x="219.0" y="243.7" class="tl" text-anchor="middle">NINO_MME</text>
<text x="257.0" y="243.7" class="tlg" text-anchor="middle">PNA</text>
<text x="24.0" y="254.7" class="tv" text-anchor="middle">-0.86</text>
<text x="62.6" y="254.7" class="tv" text-anchor="middle">-0.79</text>
<text x="100.8" y="254.7" class="tv" text-anchor="middle">-0.88</text>
<text x="140.6" y="254.7" class="tv" text-anchor="middle">-0.60</text>
<text x="178.8" y="254.7" class="tv" text-anchor="middle">-0.54</text>
<text x="219.0" y="254.7" class="tv" text-anchor="middle">-0.50</text>
<text x="257.0" y="254.7" class="tvg" text-anchor="middle">-0.34</text>
<clipPath id="clipd"><rect x="295.4" y="144.3" width="225.4" height="75.05"/></clipPath>
<g clip-path="url(#clipd)">
<rect x="295.4" y="144.3" width="225.4" height="75.05" fill="#fff"/>
<path fill="#fff6c8" fill-rule="evenodd" d="M338.2 220.6l2.2 0l1-0.9l-0.3-0.8l-0.9-0.3l-1 0.4l-1 1.6zM386.7 219.7l1.7 0.9l2.9 0l-0.4-1.1l-1.9-1l-1.4-1.7l-0.5 0l-0.5 1l0.1 1.9zM409.3 220.6l0.4 0l0.8 0l-0.8-1l-0.4 1zM433.6 219.7l0.5 0.3l1-2.2l1.8-0.6l1.9 0.8l2.9-0.2l1.3-1l-0.3-0.9l0.8-1l0.9-0.3l2.8 1l0.6-0.6l-0.6-2l2-0.8l-0.6-3.8l-2.1-0.9l0.7-0.7l0-1.7l-0.9-0.4l-0.9 0.3l-4.7-2.6l-1.9-0.6l-0.7-0.9l0.3-0.9l-0.6-1.1l-0.9-0.2l-0.9 1.7l-4.7 0.2l-1.9 0.9l-2.8 2.2l-2.1 0l0.8 4.7l1.3 0.9l0.9 2l2.8 1.6l0.6 1.1l-0.6 1.6l-1.3 0.3l3.3 1.9l1.3 1.9zM499.8 220.6l3.5 0l0.3-2.2l-1-0.3l-1.7 0.6l-1.1 1.9zM322.2 218.7l1.1 0.5l1.9-0.5l-1.9-0.3l-1.1 0.3zM382.4 218.7l0.2-0.9l-1.1-1.5l-0.2 1.5l1.1 0.9zM401.0 218.7l1.2 0.9l0.9-0.2l0.2-1.6l-1.1-1l-1 0.4l-0.5 0.6l0.3 0.9zM315.7 216.8l1.6-0.9l0.2-0.9l-0.8-0.4l-1.8 0.4l-0.2 0.9l1 0.9zM328.7 216.8l1.1 0.2l0.4-1.1l-0.4-1.1l-0.9-0.8l-0.9 0.2l-1.1 1.7l1.8 0.9zM448.8 216.8l1.2 0.7l1.1-0.7l-0.1-0.9l-1-1.2l-1.1 0.3l-0.5 0.9l0.4 0.9zM355.7 215.9l0.4 0.4l1.2-0.4l-1.2-1.2l-0.5 0.3l0.1 0.9zM491.8 215.9l0.5 0.7l1.5-1.6l0.2-1l-0.7-1l-1 0.1l-0.5 2.8zM297.5 213.1l0.8 0l0.8-1.9l-1.2-0.4l-1.4 0.4l0 1l1 0.9zM460.2 212.2l1.1 0.1l1.1-1.1l-2-1.2l-1.4 0.3l0.1 0.9l1.1 1zM325.1 205.6l0.4-0.9l-1.3-1.5l-0.9-0.1l-0.4 0.6l2.2 1.9zM482.6 205.6l0.3 0.7l0-1.8l-0.1 0.2l-0.2 0.9zM298.7 204.7l2 0.1l1-0.7l0.2-1.3l-0.9-1l0-0.9l2.5-1.4l1 0l1.9 1.6l1.5-0.2l-1-0.9l-0.5-2.1l-1.9-0.8l1.7-1.8l0-1l-2.2-1.8l-0.7-1.9l0.2-1.4l1.9 0l0.5-0.5l0.3-1.9l-0.8-1.2l-0.9-0.6l-1.9 0l-2.1-1l-0.6-4.7l-1.1-0.3l-2.1 1.3l0 0.9l1.2 0.2l0.6 0.7l0.2 1l-0.8 0.9l-0.9 0.2l-1-1.9l-0.9 0.3l-1 1.5l0 15.4l1.5 2.3l3.2-0.7l1.7 0.7l-1.8 2.9zM354.6 204.7l0.6 0.4l1-2.3l1.8-1l1.9 1.6l4.7-0.4l1.9-2.1l2.8-0.9l1.9 0.2l-0.1-1.2l-1.8-0.7l-2.8-2.8l-1.9 0.4l-1-0.8l-0.9 0.2l-2.8 1.3l-1.7-1.3l0-1l0.8-0.9l-1-0.3l-1.8 1.2l0.2 1l-1.2 0.6l-0.9 0l-1.3-1.6l0.2-1.8l-0.8-0.8l-2.2 2.6l-0.6 1.7l-1-1.3l-8.4-0.4l-1.9-1l-1.9 1.9l-1.9-0.5l-1.8 1.6l-2.9 0.5l-1.8-1.4l-1 0.1l-0.9 1.3l-1.9-0.9l-0.9 0.1l-1 1.1l-0.2 2.9l0.4 0.9l0.8 0.3l1.8-0.6l2.9 2.5l4.7-1.2l2.8 1.2l4.7 1.2l0.9-0.7l1.9-0.3l2.8 1.3l1.9-1.1l1.9-0.3l5 1.5zM395.0 204.7l0.6 0.3l0.9-0.3l0.4-3.8l1.5-1.5l1.1 0.6l0.2 1.8l0.6 0.5l0.9-0.5l0.6-0.9l0.1-2.8l1.1-1.9l-0.8-1.6l-2.5-1.2l1.1-0.9l2.3-0.4l0.9 1.8l1-0.1l0.1-1.3l1.1-1.9l-0.5-1l0.2-1l3.8 1.3l0.5 0.7l0.4 2.4l1.9-2.9l1.9-0.6l0.9 0.6l0.9 1.7l3.8 1l0.9-0.3l-0.6-2.9l0.6-0.5l1 0l1.9 0.6l3.7-0.7l1.9 1.3l1.9-0.4l1.8 2.1l1.9 0.6l1.9-2.2l1.9 0.6l1.9-0.5l1.8-2.5l1.4 1.6l1.5 3.5l0.9-0.2l0.9-0.9l1 0l0.9 1.1l0.9 0.1l3.8-0.3l1.1-0.4l1.7-2.6l1.9 2.2l0.9 0.7l1-0.7l1 1.3l1.8 1.1l4.7 0l1.9-1.2l0.9-3.7l1 0.6l0.9-0.1l0.9-0.5l0.9-1.8l-1.8-3.7l0-2.3l1.1-4.4l1.7-1.3l0.9-2.4l-0.9-1.2l-0.9 0l-1.9 1.3l-0.9-0.7l-4.7 0.7l-1-1l0-1.3l-0.4 0.3l0.3 1l-1.8 1.5l-0.9 0.1l-1.2-0.7l-0.7-1.7l-1.9 0.8l-1.2-1l1.2-1.9l-0.7-0.9l0.5-1.9l-0.3-0.9l-1.7-1.9l1-1.9l0-0.9l-3.5-1.5l-0.9 0.3l-0.8-0.7l-0.1-0.9l0.8-1.9l1.3-0.9l0.7-1.6l1.2-0.3l0.3-2.8l1.1-3.8l-1.4-1.8l-1.2-0.7l-1.9 0.1l-0.6-1.3l-15.4 0l-1.8 0.3l-0.6-0.3l-34.1 0l-1 0.4l-1-0.4l-3.1 0l1 0.9l-0.4 1.9l0.9 1.9l-0.2 0.4l-1.9 0.4l0 0.5l0.9 0.3l1.9-1l1.9 0.4l1.9-2.5l1.8 0l2.9 2.4l-2.9 1.3l0.1 1.5l3.7 2.1l4.7-4l2.8 2.4l1.9-0.2l1.9 1l0.9-1.3l1.9 1.2l0.9 0.7l0.9 1.9l0.1 0.9l-0.5 0.9l0.5 0.8l0.9 0.2l0.2-1.9l3.5-2.8l1.2 0l1.7 2.4l1.8-0.9l1.9 1.1l3.8-2.2l0.9 0.5l0.3 1l-0.5 4.7l-0.9 1.8l-0.8 0.5l-1.8-0.4l-1.9 0.7l-2.8-0.5l-2.9 1.4l-2.8-1.7l-1.5 1l0.7 0.9l1 2.8l-2 0.4l-0.4 0.6l0.1 3.7l-0.7 0.4l-0.9-0.7l-1-2.1l-0.9-0.5l-1.2 1l0 1.9l-1 1.9l-2.5 0.8l-1.9-0.9l-4.7 0.9l-2.8-0.6l-0.9 0.7l-1.9 0.2l-1.9 1.2l-2.8-0.2l-2.7 1.6l-1.1 1.4l-1.8-0.3l-1 1.3l-0.2 1.4l0.9 2.8l5 3.6l1.8-1.1l1 0.3l0.4 1l-0.4 1.5l-2.8 0.7l-2.9-0.4l-0.9 0.6l-0.9 3l-2.9 3.2l-2 0.7l-0.3 1l1 0.9l-1.1 1l0.6 0.8l2.8 0.2l1.4-1l0.8 0l0.8 0.9l-0.7 0.9l0 1l1.8 1.9zM425.6 173.2l-1.6-1.4l1.6-1.3l1 0.1l0.5 0.3l0 0.9l-1.5 1.4zM453.8 163.7l-0.6-0.3l0.6-0.7l0.6 0.7l-0.6 0.3zM464.2 204.7l0.9 0.5l0.8-1.5l-0.8-0.4l-0.7 0.4l-0.2 1zM315.7 203.7l1 0.6l1.4-0.6l-0.2-0.9l-1.2-0.6l-1 0.6l0 0.9zM487.8 203.7l0.8 0.4l0.5-0.4l-0.5-0.7l-0.8 0.7zM319.0 202.8l1.4 0.4l1.1-0.4l-1.1-1.9l-1.6-0.9l-1.1-2.9l-2.9 0.5l-0.9-0.6l-1 0.6l0 1.7l1 0.3l0.9-0.7l0.9 0.2l1 1l1.8 0.8l0.5 1.9zM311.8 201.8l1.1 0.3l0-1.4l-0.9 0.7l-0.2 0.4zM375.6 201.8l0.3 0.2l0.5-1.1l-0.5-1.1l-0.8 1.1l0.5 0.9zM521.3 200.9l0.1 0.3l0-17l-0.7-2.1l-1.2 0l-2.8 2.5l-0.9 0.3l-0.9-0.5l-2.9 1.5l-0.7 0.9l-1.2 3.8l2.1 1.9l1.2 3.7l2.2 3.8l3-0.7l2.7 1.6zM384.2 196.2l0.1 0.5l0.9-0.3l0.4-1.1l-0.4-0.6l-1 1.5zM404.7 196.2l3.1-0.5l0.6-0.4l-1-1l-1.5-0.4l-0.7 0.4l-0.5 1.9zM485.3 195.3l0.4 0.6l1 0l0.6-0.6l-0.1-1l-1.5-0.8l-0.8 0.8l0.4 1zM330.9 194.3l0.8 0.3l0.5-1.2l-0.2-0.9l-1.2-0.8l-1.5 0.8l1.6 1.8zM380.4 194.3l1.1 0l-0.9-1.2l-0.9 0.3l0.7 0.9zM480.3 193.4l0.7 0.5l1.1-0.5l-0.6-3.8l2.1-2.8l0.3-1.2l-1-0.2l-1.3 0.5l-0.2 1.9l-0.4 0.2l-0.9 0.2l-1.9-0.5l-0.9 1.4l0 0.9l1.9 1l1.1 2.4zM332.9 192.5l1.6 0.1l1-1.1l-1.9-0.9l-0.9 0l0.2 1.9zM385.9 192.5l2.2 0l1.5-1l0.3-0.9l-0.9-0.7l-1.9 0.6l-1.9-1.4l-0.5 0.5l0.3 1l1 0.9l-0.1 1zM494.8 191.5l0.3 0.7l3.7-1.6l1.1-3.8l1.8-0.8l0.8 0.8l-0.2 1.9l0.3 0.4l1 0.5l2.8-1.4l0.9 1.9l1.1-0.5l-1-1.8l1.3-1l-0.2-0.9l1.8-1.9l-0.5-1.9l0.3-1.8l-0.9-0.3l-0.6 0.3l-0.1 1.8l-1.2 0.8l-1.8 0.2l0 0.6l-1-2.6l-2.8-2.7l-0.9 0l-1.2 1.9l-1.9 6.5l-0.1 1.9l-1.5 1l-2.5-2.9l-0.2-0.9l1.7-1.6l-0.8-2.2l2.4-1.8l-0.4-1.9l1.5-1.9l-0.2-1.9l1.5-1.8l0.7-2l1.9-0.9l3.1 1l0.5 1.9l1.1 1.2l2-1.2l0.3-1l-0.4-1.8l-1.9-1.9l-1.9 0.6l-0.9-0.4l-2.1-1.2l-0.3-0.9l0.5-1.3l2.8-0.9l2.8-2.5l2.1 0l0.1-1.9l0.7-1l-1 0.1l-2.8 2.5l-0.9-0.1l-2.9 1.7l-1.8 0.5l-2.7-0.9l-0.7-0.9l0.2-0.9l-0.6-0.4l-0.5 1.3l-1.8 0.9l-2.3 2.9l-0.4 2.8l-0.9 1.8l0.3 0.5l1.9 0.2l1.1 1.2l0.4 2.8l-0.5 1.9l0.6 1.9l-0.7 0.9l-1.9-0.6l-3 1.6l0.2 0.4l1.9 0.2l0.9 0.8l1.6 0.4l0 1l-0.6 0.7l-1 0.2l0.6 1.9l-5.3 0.8l-0.2 1.1l2.1 1.1l1.9-0.2l2.7 0.9l0.7 1.9zM506.4 186.4l-1.3-1.4l0.4-0.9l1.5 1.8l-0.6 0.5zM497.0 168.2l-0.8-0.1l-0.7-1l0.6-0.9l0.9 0.1l1.2 0.8l-0.3 1.2l-0.9-0.1zM500.3 191.5l1.4 0.7l0-2.5l-1.5 0.9l0.1 0.9zM318.9 190.6l1.5 0.7l1.5-0.7l0.6-1.9l-1.1-1.7l-2.8 1.6l-0.2 1l0.5 1zM374.1 190.6l0.8 0.5l1-0.4l1.8-2l0.8-0.9l-0.1-1.9l-1.6 0.2l-0.9 2.4l-1 0.2l-0.8 1.9zM336.1 189.6l0.3 0.9l1.5-0.9l0.3-0.9l-1-0.9l0.1-1.1l-0.9 0.1l-0.5 1.9l0.2 0.9zM331.3 187.8l0.4 0.8l0-2l-0.2 0.2l-0.2 1zM339.7 187.8l0.5 0.7l0.8-1.7l-0.7-0.9l-0.1-1.4l-0.5 3.3zM388.9 187.8l0.3-1l-1.1-1.2l-1 1.2l1.8 1zM310.1 185.0l1.4 0l0.2-1.9l1.7-1l-0.5-1.3l-0.9-0.4l-1.4 0.8l0.5 0.9l-1 1.1l0 1.8zM352.0 185.0l0.4 0.7l0.6-0.7l-0.4-1l-0.6 1zM319.4 184.0l0.9-0.9l0.1-1.2l-1.1 0.2l0.1 1.9zM381.6 183.1l0.8 0.7l1-0.5l0-1.4l-1.1-0.7l-0.8 0.9l0.1 1zM505.4 179.3l0.1 0.2l1.2-0.2l-0.3-0.7l-0.9-0.3l-0.1 1zM336.3 177.4l1 0.3l0.2-1.2l-1.1-0.3l-0.1 1.2zM501.1 177.4l0.6 0.8l0.4-0.8l-0.3-0.9l-0.7 0.9zM297.1 176.5l0.8 0.4l0.4-0.4l-0.7-2.8l-1.6-0.9l-1.9 0.3l0 3l1-1.2l2 1.6zM341.1 176.5l0.3-0.9l-1.1-1.9l0.6-0.9l-0.7-1.2l-0.6 0.2l0.5 1.9l-0.2 1.9l1.2 0.9zM354.9 176.5l4.1 0.7l0.9-0.3l1.2-2.3l-0.1-0.9l-0.7 0l-1.3 1.8l-4.1 1zM372.6 176.5l0.4 0.8l1-0.4l0.1-1.3l-1.5 0.9zM327.7 175.6l0.7 0l0.5-1.3l2.8 0.4l2.8-1.2l0.3-0.7l-1.1-1l-0.3-0.9l0.4-1.9l-1.1-2.9l-1-1.1l-1.9 1.1l-1.8 0.2l-0.8 0.8l1.1 1.9l-0.3 1l-1.9 0.5l-1.9-1.2l-1.1 0.6l-0.1 1l2.1 1.4l1.4 2.3l1.2 1zM521.1 175.6l0.3 0.7l0-2.5l-0.2 0.8l-0.1 1zM311.0 174.6l1-0.7l0-1l-0.9 0.1l-0.6 0.7l0.5 0.9zM351.1 174.6l1.3 0.2l1.6-1.1l0.2-0.9l-0.9-0.4l-1.1 0.4l-1.3 0.9l0.2 0.9zM486.3 174.6l1.3 0.1l1-0.7l1.8 0.5l0.6-0.8l-0.1-1.9l-0.5-0.6l-0.9 0.2l-1.1-0.5l0.9-2.8l-0.4-1l0.6-3.9l-3.6 0.2l1.9 3.7l-1.1 2.2l-2.3-0.3l1-2.8l-1.5-1.5l-1-0.1l-1.4 0.7l-0.4 0.9l0.2 0.9l-1.2 1.9l0.5 0.9l3.3 2l0.9 0.4l0.9-0.4l1 0.7l-0.4 2zM512.7 170.9l1.2-0.3l0.2-0.7l-1.1 0l-0.3 1zM516.6 170.9l1.1 0.5l1.7-1.5l-1.7-1.8l-1.2 0l0.1 2.8zM462.2 169.9l0.5-0.9l-1.4-2.7l-1.3 0.8l2.2 2.8zM473.2 169.9l0.3 0.9l0.8-0.9l-0.8-1l-0.3 1zM351.0 169.0l0.4 0.7l1 0.1l0.7-0.8l-0.7-4.8l-0.7 1.1l0.4 0.9l-0.2 0.9l-0.9 1.9zM510.0 168.1l0.2 0.4l0.9-0.4l-0.9-2.8l-0.2 2.8zM324.2 164.3l0.3-1.9l1.1-0.9l-0.5-0.9l-0.9-0.4l-1.1 0.4l-1.9 1.8l1.1 1.2l1.9 0.7zM419.2 164.3l0.8 0.8l0.9 0.1l1.3-0.9l-0.3-0.9l-2.7 0.9zM470.6 164.3l1.1 0.5l0-1.8l-1 0.4l-0.1 0.9zM475.4 164.3l0.9 0.8l0.9-1.7l-0.9-0.7l-0.9 0.2l0 1.4zM317.2 163.4l0.4 0.4l1-0.3l0.2-1.1l-1.2-0.5l-0.4 0.5l0 1zM337.3 163.4l0.8-1.9l-1.7-0.5l-0.4 0.5l1.3 1.9zM483.0 163.4l0.9 0.6l1.6-0.6l-0.7-0.5l-1.6-3.3l0.2-0.9l1.3 0l1 1l5.7-3.1l2.8-0.1l0.9-0.8l2.4 0.2l-0.5-0.8l-0.9 0.4l-1.4-2.4l-1.4-1.2l-7.6-0.6l-2.8 1l-0.9-0.1l-1-2.1l-2.8 3l-3.7-0.2l-2.8 1.3l-0.4 0.7l1.3 2.7l2.6 1.1l-0.7 0.9l0.9 0.1l0.1-1l0.8-0.3l4.7 0.3l1.6 0.9l-0.7 2.8l1.1 1zM376.6 162.4l1.1 0.6l2.9-0.2l1.3-3.2l-0.4-1.8l-1.9 0.2l-3.8 1.6l0.8 2.8zM340.9 161.5l1.1 0.7l1.7-0.7l-1.7-0.8l-1.1 0.8zM429.6 161.5l0.7 0.6l1-0.3l0.9 0.3l0.7-0.6l-0.7-1.1l-2.8-0.2l0.2 1.3zM296.7 160.6l0.9 0l-0.2-1l-0.6 0l-0.1 1zM310.5 160.6l0.8 0l0.7-1.9l-1.4 0l-0.5 0.9l0.4 1zM459.8 160.6l2.5-0.3l2.8-1.6l-1-0.6l-2.8 0.4l-1.9 1.1l0.4 1zM356.0 159.6l1.1 0.6l0.9-0.6l-0.1-1.9l-0.8-0.3l-0.5 0.3l-0.6 1l0 0.9zM518.1 158.7l1.4 0l-0.3-1l-0.9 0l-0.2 1zM503.4 156.8l1.1 0.5l0.9-0.5l0.5-0.9l-1.4-0.3l-0.7 0.3l-0.4 0.9zM391.6 155.9l1.2 0.3l0.4-1.3l-1.4-0.3l-0.4 0.3l0.2 1zM414.9 155.9l0.4 0.6l0.5-0.6l-0.5-1l-0.4 1zM315.3 154.9l0.4 0.4l1-0.4l-1-0.6l-0.4 0.6zM306.1 154.0l3.1 0.9l0.2-0.9l-0.2-1.1l-1-0.2l-0.9 0.8l-1.9-0.8l0 1.1l0.7 0.2zM462.9 154.0l3.1 0.7l0.2-0.7l-2.1-3.3l-1.9 2.4l0.7 0.9zM497.8 154.0l0.1 0.5l2.9-0.4l0.3-1l-1.3-1.1l-1.9 0l-0.5 1.1l0.4 0.9zM335.3 153.1l0.2 0.4l1-0.4l-1-0.2l-0.2 0.2zM351.9 153.1l0.5 0.7l0.9-0.4l0-1.6l-1.4 1.3zM360.8 153.1l1 0l2.1-1l-1.2-1.1l-0.9-0.2l-1 0.7l0 1.6zM310.8 152.1l1.2 0.5l0.7-0.5l0.1-0.9l-0.8-0.7l-0.9 0.2l-0.8 0.5l0.5 0.9zM313.9 150.2l1.8 0.7l0.8-0.7l-0.8-0.8l-0.9-0.2l-0.9 1zM371.4 150.2l0.9 0l0.2-0.9l-1.3-0.7l-0.7 0.7l0.9 0.9zM365.5 149.3l1 0.8l2.6-1.7l-0.8-0.8l-0.9 0.2l-1.9 1.5zM475.1 149.3l0.3 0.4l0.8-0.4l0.1-1.1l-0.9 0.1l-0.3 1zM300.5 147.4l1.2 0.4l0.8-1.3l-2.7-2l-0.9 2l1.6 0.9zM308.0 147.4l0.2 0.4l0.9-0.4l-0.9-0.7l-0.2 0.7zM340.0 147.4l1.1 0.9l0.9-0.1l0.4-0.8l-1.3-0.9l-1.1 0.9zM312.5 146.5l1.4 0.8l0.7-0.8l0.1-0.9l-0.8-0.5l-1 0.2l-0.4 1.2zM375.6 146.5l1.1 0l-2.4-2.8l-1.7 0l1.1 1.9l1.9 0.9zM462.3 145.6l0.9 0.5l0.5-0.5l-0.5-1.1l-0.9 1.1zM338.2 144.6l1 0.3l0.6-1.2l-2.1 0l0.5 0.9zM347.0 144.6l1.6 0.1l0.6-1l-2.6 0l0.4 0.9z"/>
<path fill="#fee79a" fill-rule="evenodd" d="M439.3 216.8l1.4 0l1.4-1.8l1.4-0.8l1.9-0.4l0.7-0.7l0.4-0.9l-0.2-1.6l-2.6-0.3l0.9-1.9l-0.2-1.6l-1.9-1.1l-0.4-1l-2.2-1.9l-3-1.1l-2.8 1.2l-3.8-0.2l-3.8 2l-0.4 0.9l0.5 1.9l0.9-0.3l0.3 0.3l-0.2 1.8l0.4 1l2.3 1.5l0.9 1.3l0.5 0.9l-0.1 1.9l0.6 0.7l1.9-0.6l1.9 0.2l1.8-0.9l1.5 1.5zM345.6 203.7l4-1.3l2.8 1.1l1.9-1.2l1.8-0.6l1.9-2.3l1-0.4l2.8 2.9l1.8 0.2l0.8-0.3l1.1-1.6l1.9-0.6l0.6-1.5l-0.6-1.1l-0.9-0.4l-1.5 0.5l-0.4 0.7l-1.9-1.1l-2.8 1.5l-1.9-1.9l-3.7 0.8l-1.9-1.8l-1-0.1l-0.9 1.4l-0.9 0.4l-1.9-1.5l-5.7-0.6l-2.8 0.5l-0.9-0.4l-1.9 1.1l-1.9 0l-0.9 0.9l-3.8 0.9l-1.8-0.9l-1.3 1.1l0.3 1.3l1.9-0.1l0.3 0.7l-0.3 0.8l-1.2 0.1l-0.2 0.9l0.5 0.3l1-0.3l0.1-0.9l4.5-0.8l1.9 2.3l4.7 0.5l3.7-0.6l1.7 1.4zM296.0 200.9l1-0.1l0.9-0.8l1.9 0.1l3.4-2l-0.8-9.4l1.1-1.4l1.2 0.5l0.2-1l-2.3-0.4l-2.8-1.8l-1-0.1l-1.8 1l-1.9-1.3l-1 0.8l0 13.7l1 0.4l0.9 1.8zM394.3 199.0l1.3 0.6l1.9-1.3l2.8 0.4l0.4-0.6l0.4-1l-2.6-1.8l-0.3-1.9l0.5-1.9l-0.3-0.2l-1.9-0.2l-0.3 2.3l-0.6 0.7l-2.5 1.2l-0.6 0.9l0.8 1.9l1 0.9zM519.8 199.0l1.6 0.8l0-14.6l-1.9-1.4l-1.8 1.8l-1.9 0.5l-1.9-0.2l-1.3 0.9l0.2 1.9l-1.1 1.9l2.2 2.5l0.9 3.1l1 1.3l2.8 0.6l1.2 0.9zM462.7 193.4l0.5 0.3l3.8-0.3l0.8-1.9l1-0.9l0.3-1.9l0.7-0.9l1.9-0.3l0.7-2.5l0-8.5l0.2-0.6l0.9 0.1l0.6-0.4l0.2-1l-0.8-0.1l-0.9 0.6l-0.9-1.1l-2.9 0.4l-1.7 1.2l0.2 0.9l-0.3 0.5l-1-0.1l-0.9-1l-4.7-1.1l-4.2-3.9l0-1l1.3-2.8l-0.9-1.8l-4.7-0.8l-0.9 0.5l-1.3-4.4l0.3-0.3l1.4 0.3l0.4-1l0.7-3.7l-0.7-1.9l0.1-1l3.9-0.9l-1.7-0.9l0.6-1.7l1.9-0.1l0.5-1l-0.2-1l-1.2-1l-1 2l-1.8 0.7l-0.7-0.7l-0.3-2.6l-0.9-0.6l-1.9 0.7l-0.9 1.9l-1.8-0.4l-1-1.5l-0.8 0.6l0.5 0.9l-0.7 0.7l-1.2-0.7l-0.5-0.9l1.3-0.9l-0.7-1l-2.6-0.7l-2.9 0.9l-2.8 0.3l-2.8-1.2l-1.9 0.5l-1.7-0.7l-25.9 0l-0.3 1.9l3.5 2l2.4 0.8l0.4 2.7l-1.9 0.2l-0.7 0.8l0.7 0.7l1 0.2l0.9-1.6l1.9-0.5l0.9-1.1l1.9-0.6l2.8 2.3l1.9-0.7l2 0.4l3 1.9l1.6 2.1l1.9-2l5.6 0.4l1.6-1.5l0.7 0l2.3 1.9l2.9-0.2l1 1.5l0.9 0.4l0.9-1.2l1 0.4l0.4 1l-0.4 0.5l-1 0.8l-0.9-0.2l-0.9 0.9l0 2.5l0.9 0.3l1-1.1l1.5 1.9l2.3 0.9l0.3 1l-0.4 0.9l-0.9 0.4l-1.9-0.9l-3.8 1.5l-1.9-1.3l-1.8-0.4l-2.9 0.6l-1.8-0.4l-2.9 1.4l-1.8 0l0.2 2.9l-1.1 0.9l1.8 1.2l0.9 0l1-0.6l0.9 0.5l1.9 2.9l-0.9 0.3l-2.9-1l-0.9 0.3l-0.9 1.4l-2.8 1.8l-1-0.2l-0.9-2.4l-1 0.1l-0.9 1.2l-4.7 0.9l-1.9 0.1l-1.9-0.7l-3.7 0.7l-1-0.7l-5.6 2l-2.8-0.2l-1.9 1.2l-1 1.5l-2.7 0.8l-0.5 1.1l0.5 1.9l2.8 1.7l4.7 0.9l1.9 2.8l3.7-1l4.7 2l5.5-0.8l0-0.9l1.1 0l0.3 0.9l-1.3 0l-0.3 0.9l0.3 1.1l1.9 1l1.3-0.2l-0.8-2.8l1.4-0.5l6.6 0.2l2.8-2l0.4 2.3l3.1 0.9l1.2 1.8l0.9 0.1l1.9-2l1.9 0.2l1.9-0.5l0.9-1.8l0.9-0.5l1.6 0.9l1.3 1.4l1.8-0.1l1.7 2.4l1.1 0.4l3.8-1.3l0.5-1l-0.1-1.8l0.5-0.3l1.9 0.8l1.9-0.1l1.9-0.8l0.9 0.4l2.1 2.8l0.3 0.9l-0.9 1l-0.1 0.9zM448.2 154.2l-0.5-1.1l0.1-1l0.4-0.9l0.9-0.7l2.5 1.6l-2.5 1.9l-0.9 0.2zM449.1 167.3l-0.3-0.2l1.2-1.2l1-0.2l0.9 1.4l-2.8 0.2zM400.7 190.6l0.5 0.5l1.8-0.5l-0.8-0.7l-1 0.1l-0.5 0.6zM403.1 190.6l0.9 0.7l1 0l0.3-0.7l-1.3-0.5l-0.9 0.5zM499.7 185.0l0.1 0.4l0.7-0.4l2.9-2.9l-0.1-0.9l-1.6-1.2l-0.9 0.2l-1 1.5l-0.1 3.3zM495.7 176.5l0.4 0.4l0.3-0.4l-0.3-1l-0.4 1zM330.7 173.7l1-0.2l0.9-0.7l0.5-3.8l-1.4-2l-1.1 0.1l-1.7 2.8l0.1 1.9l1.7 1.9zM495.0 169.9l1.1 0.4l0.8-0.4l-0.8-0.3l-1.1 0.3zM498.8 169.0l1 0.5l1.3-0.5l-0.1-0.9l-1.2-0.9l-1 1.8zM493.2 167.1l1-0.8l0-0.5l-0.9-0.2l-0.1 1.5zM498.3 165.3l0.6 0.6l0.6-0.6l-0.1-1l-0.5-0.4l-0.6 0.4l0 1zM495.0 164.3l0.1 0.4l1-0.2l0-1.1l-1.1 0.9zM455.4 162.4l1.2 0.3l0.4-0.3l-1.3-0.3l-0.3 0.3zM377.5 161.5l1.2 0.7l0.9-0.2l1.4-2.4l-0.4-0.5l-3.3 1.5l0.2 0.9zM477.9 157.7l8.8 0.5l4.7-2.2l1.9-0.2l1-0.9l-0.1-0.9l-2.8-1.7l-5.7-0.4l-2.8 0.9l-1.9-0.1l-3.7 1.3l-2.1 0l-0.7 0.9l0.6 1.9l2.8 0.9zM399.1 147.4l0.2 0.3l1.2-0.3l-1.2-1.1l-0.2 1.1z"/>
<path fill="#fdd163" fill-rule="evenodd" d="M434.8 215.0l1.2 0.3l2.8-1.5l1.9 1.2l3.8-1.9l1-0.9l-1.1-0.2l-0.9 0.5l-1.4-0.3l-0.2-1l0.8-1.9l-1.5-1.8l0.3-1.9l-1.8-1.8l-1.9 0l-0.9-1.2l-0.9 0l-1.9 1.4l-2.8-0.2l-1 0.7l-1.9 4.8l0.7 1l2 0.9l1.1 2l2.6 1.8zM346.1 202.8l0.8 0l1.1-1l0.6-1.4l3.8 2.4l0.9-1.2l2.2-0.7l0.9-1.9l1.3-0.9l-0.3-1l-0.5 0l-1.7 1.6l-2.8-2.3l-2.8 1.3l-2.2-1.5l-3.5-0.6l-1.5 0.6l-0.4 1.6l-1.8-0.5l-1.8 1.7l0.8 1.8l1.9 0.8l0.8-0.7l0.1-1.5l1-0.7l1.6 1.3l0.6 1.8l0.9 1zM335.9 201.8l1.4 0.4l1-0.4l-0.3-0.9l-1.4-0.9l1.4-1l0.1-0.9l-0.8-1.3l-0.9 0.4l-1.2 1.8l0 1.9l0.7 0.9zM296.9 199.0l2.9 0.1l2.7-2l-0.7-1.8l0.2-4.7l-0.5-1.9l-1.7-2.2l-2.8-0.1l-1.9-1.1l-1 2l0 10.5l2.8 1.2zM330.6 199.0l2.1 0.3l0.6-0.3l-0.1-0.9l-1.5-0.1l-1.1 1zM521.3 199.0l0.1-12l-0.9-1.2l-1-0.1l-0.9 1.4l-1.9-0.4l-1.8 1.1l0.7 1.8l-2.1 1l2.3 5l2.8 1.3l2.7 2.1zM449.1 190.6l1.3 0l0.5-1.9l2.9-2.4l2.8 0.9l3.8-0.5l2.8 1.7l3.8-1.4l1.8 0.4l1-0.7l1.9-0.5l0.4-5l-0.4-5.8l-2.5 1.1l-0.3 2.8l-1 0.4l-4.7-3.3l-2.8-0.6l-3.8 0.3l-0.9-1.2l-1.9-0.4l-1-0.8l0-0.9l1.1-1l-1-1.5l-1-0.5l-0.9 1.4l-1 0.2l-0.6-0.5l-0.1-1l1.2-0.9l-0.5-0.3l-1.2 0.3l-0.1 0.9l-1.5-0.1l-0.9-0.8l0-0.9l3.5-3.8l-0.7-2.3l-0.9 0l-1.9 4.1l-2 0.1l1.1 1.6l0.7 0.3l0.1 0.9l-1.8 1.8l-1.7-1.8l-0.8-2.8l-2.2 0.1l-1.9-0.4l-1.8-1.3l-1 0.1l-1.1 0.6l0 2.8l2 2.8l-1.8 0.3l-1.9-0.9l-0.3 0.6l1.7 0.9l0.2 1l-0.7 1.1l-2.8 0.1l-1.9-0.5l-0.7 1.1l-2.1 0.6l-1.8 1.4l-1 0.2l-1.9-1.9l-5.6 1.2l-4.7-0.5l-2.8 0.9l-1-0.8l-0.9 0l-0.9 0.7l-3.8 1.1l-2.8-0.2l-1.5 1.1l-0.9 1.9l-2.3 0.3l-0.5 0.6l0 0.9l1.4 1.5l5.7 1.2l1.4 1.1l0.5 1l1.2-0.1l0.6-1.4l3.8 2.1l2.8-1.4l1.7 0.7l1.1 1.4l2.8-1.4l5.7 0.8l1.9-0.9l2.8 0.8l1.8-2.1l1-0.2l1 0.7l0.1 1.9l0.8 0.5l0.9 0l0.6-0.5l0.2-1l1.1-0.2l1.6 0.2l0.3 1.3l0.9 0.4l3.8-0.6l0.1-1.1l0.8-0.5l3.8 1l1.8-0.4l1 0.8l0.9 2.9zM500.5 182.1l0.3 0.7l1.7-0.7l-0.8-1.1l-1.2 1.1zM456.4 173.7l0.7 0l-0.5-1.5l-0.7 0.6l0.5 0.9zM330.6 171.8l1.1 0l0.7-1.9l0-0.9l-0.7-0.7l-0.9 0l-1.3 1.6l0.1 1l1 0.9zM453.8 168.1l0.9 0.8l1-0.2l0.6-1.6l-0.2-0.9l-1.4-0.6l-1.7 0.6l0.8 1.9zM446.1 160.6l1.1 0.8l0.8-0.8l-0.3-1.9l-1.3-1.9l1.3-0.9l-1-1.9l0.1-0.9l1.4-3.8l-1.9-0.7l-0.9 0.5l-1 0l-3.7-1.7l-0.1-1.8l-6.5 0.4l-2.8-1.2l-2.2 0.8l-0.7 0.9l-0.9-1.1l-0.9-0.2l-1 0.4l-2.8-1.3l-3.2-0.6l-7 0l-1.1 0.8l-2.8 0.2l-3.7-0.6l-1.3 0.5l2.2 2.2l2.8 0.2l1 2.7l0.9-0.2l0.9-1.2l2.9-0.3l1.8 1.7l1-0.2l4.7 1.7l1.9-0.6l1.8-1.5l1 0.1l-0.2 2l2 1.5l1.9-0.8l2-2.6l0.8-0.4l0.5 0.4l0 1.9l1.4 0.3l1.9 1.5l4.7-0.3l1.9 1l2.2 2.2l0.2 0.9l-2.4 0.9l0.1 1l2.2 0.9l0.3 1zM449.8 157.7l0.2 0.3l1.2-1.2l0.1-0.9l-1.3-0.8l-1 0.8l0.8 1.8zM477.0 156.8l9.7 0.8l6.8-2.7l-0.2-1l-2.9-1.3l-4.7-0.2l-9.8 2.5l-0.3 1l1.4 0.9zM450.6 150.2l1.1 0l-0.7-3.4l-1 0.1l-0.5 2.4l1.1 0.9z"/>
<path fill="#fcb53f" fill-rule="evenodd" d="M434.3 213.1l1.7 0.8l4.7-2.9l0.8-1.7l-1.2-1.8l0.4-2l-1-0.7l-1.9 0.4l-1.8-1.6l-1.9 1.1l-2.8 0.3l-0.6 1.5l0.4 1l-1.7 1.8l1.9 0.9l0.9 1.5l2.1 1.4zM350.4 200.0l1 0.9l1 0l2.1-0.9l-0.4-1l-1.7-1.6l-1.7 0.7l-0.7 0.9l0.4 1zM345.3 199.0l1.4 0.7l1-0.2l1-0.5l0.2-0.9l-3.1-1.8l-1.4-0.1l-0.6 0.9l0.1 1l1.4 0.9zM298.3 198.1l2-1l0.4-0.6l-0.2-1.2l0.8-1.9l0.1-2.8l-1.6-2.3l-3.8-1.4l-1.9 1.5l0 8.2l1.9 1.3l2.3 0.2zM520.8 197.1l0.6 0.5l0-9.4l-3.7 0.2l-2.6 3.1l0.7 2.2l0.9 1.6l2.8 0.8l1.3 1zM420.6 186.8l1.3 0.1l1.9-0.8l2.8 0.5l1.8-2.3l3.8 1.5l2.8-0.3l4.7 0.7l1.9-0.7l3.8 0.5l2.8-0.9l2.8 0.6l2.8-0.3l6.6 0.7l2.8 1.4l1-0.7l0.2-1.8l1.6-1.5l1 0.1l0.9 1.8l0.9 0.4l1-1.1l1.9-0.1l0.1-4.3l-0.1-1l-1-0.3l-2.3 1.3l-1.4-0.1l-2.9-2.5l-1.8 0l-1.9-1.1l-1.9 0.2l-1.9 1.4l-1.9-2.1l-1.8-0.6l-1.9-3l-1 0.3l-0.7 1.8l-1.1 0.3l-1.2-0.3l0-0.9l0.6-0.9l0-1l-0.4-0.2l-0.9-0.2l-1.9 2.1l-1.9-0.1l-0.7-0.6l1-1.9l-1.2-2.7l-0.9-0.4l-1 0.5l-2.8-0.1l-0.6 0.8l1.1 2.8l-2.6 1l0.2 1.3l1-0.2l0.4 0.7l-0.4 2.2l-0.8 0.6l-0.9-0.9l0.3-0.9l-0.5-1l-3.8 0.2l-1.9 1.2l-2.8-0.2l-2.8 1.7l-2.8-1.4l-6.6 0.7l-2.8-0.7l-2.8 1l-1.9-0.3l-3.7 1.4l-2.9-0.4l-1.3 0.6l-0.5 0.9l-0.2 1.9l-2.8 0.9l0.9 1l1.1 0.2l1.9-0.6l3.8 2.4l1.8-0.5l2.8 2l1 0.1l2.8-1.2l2.8 1l3.8-0.2l3.4 0.5zM438.8 173.5l-0.8-0.7l0.1-1l1.6-0.9l1 0.2l0.4 1.7l-2.3 0.7zM330.7 170.9l1.1-1l-1-0.6l-0.6 0.6l0.5 1zM435.6 167.1l0.4 0.8l0.1-1.7l-1.1-0.3l0 0.7l0.6 0.5zM447.9 164.3l0.3 0.7l0.7-0.7l-0.7-0.4l-0.3 0.4zM481.6 156.8l5.1 0.2l5.3-2.1l0-0.9l-2.2-0.9l-4.1-0.2l-5.5 2l0 1l1.4 0.9zM446.1 152.1l0.5-0.9l-0.3-1.3l-1.4 1.3l1.2 0.9zM435.5 151.2l1.4 0.8l3.8-0.6l1.8 0.3l1.6-0.5l0.2-1l-0.5-0.9l-1.3-0.6l-0.9 0l-1.9 1.2l-0.7-0.6l0.5-1.9l-0.7-0.7l-2.8-0.1l-1.8 0.8l0.5 2.8l0.8 1zM419.2 149.3l1.7 0.6l1.2-0.6l-2.1-2.5l-1.9-0.2l-0.9 0.4l0.1 1.4l1.9 0.9zM431.4 147.4l0.8 0.6l1.7-0.6l-1.7-1.3l-0.9-0.1l-0.6 0.5l0.7 0.9zM413.1 146.5l0.3 0.4l0.3-0.4l-0.3-2l-0.8 1.1l0.5 0.9zM421.8 146.5l1.2-0.9l-1.1-0.6l-1.3 0.6l1.2 0.9z"/>
<path fill="#f9962a" fill-rule="evenodd" d="M433.1 211.2l1.9 0.4l1.6-2.3l0.2-0.9l-0.9-1.9l0.1-1.2l-2.9 0.3l-0.6 0.9l-0.8 2.8l1.4 1.9zM437.9 210.3l0.9 0.8l0.9-0.2l0.7-0.6l0.1-1l-0.8-0.8l-1.1-0.1l-1.1 0.9l0.4 1zM295.0 196.2l1 0.8l2.8-0.8l2-4.7l-0.1-1l-4.7-2.3l-1.9 1.3l0 5.2l0.9 1.5zM520.4 195.3l1 0.4l0-6.5l-2.8-0.2l-0.9 0.6l-1 1.9l1 1.9l-0.2 0.9l2.9 1zM406.6 185.9l1.2 0.3l2.8-1.3l2.8 0.8l3.8-0.4l3.7 0.9l2.9-0.9l2.8 0.3l1.8-2l1 0l2.8 1.5l1.9-0.6l2.8 0.4l2.8-0.9l2.2 1l1.6 0.1l5.6-1.1l0.9 0.4l7.6 0.4l4.7 1l1.8-2l1.9-1.2l1 0l0.9 1l0.9 0.1l1.9-0.8l0.8-1.7l-0.8-1.3l-2.8 1.1l-0.9 0l-2.9-2.1l-0.9-0.2l-1.9 0.7l-0.9 0.8l-0.9-0.9l0.8-0.9l-0.6-1l-2.1 1.4l-1 0l-2.8-2.1l-1.9 0.3l-0.9-2l-3.8 0.6l-1.8-0.8l-1 0.1l-1.9 2l-0.8-0.4l0-1.9l-1-0.3l-2.7 1.3l0.1 2.8l-3.1-0.1l-1.9 1.2l-1.8-2.7l-1.9 2.1l-1 0.1l-1.8-2.6l-1 0l-1.2 1l-1.6 0.6l-4.7-1l-4.7 0.3l-2.8-0.6l-8.4 2.1l-2.9 0l-0.5 0.5l0 1.9l1 1.9l2.4 1.4l1.8-0.5l1 0.4l1.6 1.5zM437.6 169.9l1.2 0.5l0.4-0.5l-0.4-0.4l-1.2 0.4zM481.6 155.9l4.1 0.6l1.9-0.3l2.7-1.3l0.1-0.9l-1.8-0.7l-1.9 0l-1.9 0.9l-2.8 0.6l-0.4 1.1zM441.4 150.2l1.1 0.5l0.7-0.5l-0.7-0.9l-1.1 0.9z"/>
<path fill="#f37524" fill-rule="evenodd" d="M295.5 195.3l1.5 0.8l0.9-0.4l1.5-4.2l-3.4-1.8l-1.4 1.8l0.9 3.8zM519.2 193.4l1.3 0.8l0.5-0.8l-0.5-2.5l-1-0.5l-1 0.2l1 0.9l-0.3 1.9zM406.4 185.0l1.4 0.6l2.8-1.3l2.8 0.8l1.9-0.2l1.9-1.1l2.8-0.2l1.9 0.4l3.7-0.3l1 0.6l4.7-2.7l3.7 1.6l1 1.1l0.9-0.1l2.4-1.1l1.4-1.6l0.9-0.1l2.8 1.9l8.5 0.2l1.8-1.5l1.9 1.7l5.7 0.7l2.9-2.3l0.4-0.9l-3.3-0.9l-2.9 0.7l-1.8-1.5l-1.9-0.4l-1.9-1.6l-2.8 0.6l-1-1.9l-2.8 0.2l-1.8-0.5l-2.9 2.1l-0.9 0l-0.9-1.8l-1-0.6l-0.5 3.7l-3.2-0.3l-2.9 1.7l-1.8-1.9l-1.9 1l-1-0.1l-1.4-1.3l-0.4-1l-5.7 1.2l-2.8-0.9l-4.7 0.2l-2.8-0.7l-4.7 1.5l-5.6 0.9l-0.7 0.7l0.5 1.8l1.1 1.3l1 0.4l1.8-0.5l1 0.3l1.4 1.4zM467.7 182.1l2.1 0.1l0.6-1l-0.6-0.2l-2.1 1.1zM485.4 154.9l1.3 0.9l2.7-0.9l-0.1-0.9l-1.7-0.3l-1.3 0.3l-0.9 0.9z"/>
<path fill="#ee4f27" fill-rule="evenodd" d="M296.0 194.3l1 0.6l0.3-0.6l0.2-1.8l-0.5-1l-1 0.3l-0.4 0.7l0.4 1.8zM406.4 184.0l1.4 0.9l2.8-1.2l2.8 0.9l3.8-1.6l3.7-0.5l2.9 0.6l1.8-0.5l1 0.5l2.6-1l0.5-0.9l-3.1-2.2l-5.7 0.2l-3.7-1l-1.9 0.6l-2.8-0.3l-1.9-0.8l-4.7 1.6l-5.3 1l-0.1 0.9l1.7 1.9l1.8-0.6l2.4 1.5zM436.8 182.1l0.1 0.4l0.9 0l1.1-0.4l-1.1-0.8l-1 0.8zM444.6 182.1l7.3 0.4l1.1-0.4l0.8-1.9l2.8 2l0.5-0.1l0.2-0.9l-0.5-0.9l-3-1.2l-3.8-0.3l-2.8 1.1l-0.9-0.2l-0.4-0.4l0-1.9l-1.5-0.1l-1.3 1.1l0.4 1.5l0.8 0.4l0.3 1.8z"/>
<path fill="#dc1f33" fill-rule="evenodd" d="M407.7 184.0l2.9-0.8l2.8 0.9l2.8-1.6l5.7-1.2l1.9 1l0.6-0.2l0-0.9l-1.6-0.9l-2.8-0.5l-1.9-0.9l-0.9-0.1l-1.9 1l-5.6-1.3l-5.3 1.8l-0.4 0.9l3.7 2.8zM426.5 181.2l1 0l-0.9-1.1l-0.2 0.2l0.1 0.9zM448.1 181.2l1.9 0.6l2.2-0.6l-0.4-0.9l-1.8-0.5l-1.9 1.4z"/>
<path fill="#b8141f" fill-rule="evenodd" d="M411.9 183.1l1.5 0.5l1-0.3l1.8-2.1l2.7 0l0.1-0.9l-1.8-0.8l-1 1.6l-5.6-1.7l-3.8 0.6l-1.3 1.2l2.3 1.7l2.8-0.3l1.3 0.5z"/>
<path fill="#9c1019" fill-rule="evenodd" d="M411.6 182.1l1.8 0.9l1.2-0.9l-0.3-0.9l-0.9-0.3l-3.1 0.3l1.3 0.9z"/>
<path fill="#e6f5fb" fill-rule="evenodd" d="M367.7 220.6l0.6 0l0.8 0l-0.8-0.8l-0.6 0.8zM377.6 220.6l2 0l0.7 0l-0.7-0.9l-2 0.9zM421.1 220.6l1.9 0l-0.2-0.9l-0.9-0.4l-0.8 0.4l0 0.9zM429.0 219.7l0.8 0.9l1.6 0l0.3-0.9l-0.2-1l-1.2-0.4l-1.1 0.4l-0.2 1zM490.2 220.6l0.3 0l1.1-0.9l-1.2-0.4l-0.5 0.4l0.3 0.9zM516.7 219.7l1 0.6l0.5-0.6l-0.5-0.9l-1 0.9zM363.1 218.7l0.5 0.5l0.4-0.5l0.2-0.9l-0.6-0.6l-0.5 1.5zM415.6 218.7l1.6 0.4l1.1-0.4l0.8-2.8l-1-1.7l-0.9 0l-2.4 2.6l0.8 1.9zM495.1 218.7l1 0.6l1.4-0.6l-0.1-0.9l-1.3-1.7l-0.7 0.7l-0.3 1.9zM348.0 217.8l0.6 0.6l1-0.3l0-1.7l-1 0.3l-0.6 1.1zM352.5 217.8l1.8 0.5l0.5-0.5l-0.5-1.6l-1-0.2l-0.9 0.8l0.1 1zM506.1 216.8l1.2 1l1.2-1l-0.2-0.8l-1-0.3l-0.9 0.4l-0.3 0.7zM365.0 215.9l0.5 0.4l1.1-1.3l0.8-2.8l1.9-0.9l0.9 0.4l1.9-0.6l0.9 0.3l1.9 2.9l1.9-2.6l1.9 1.2l1.9-2.4l0.9-0.5l2.8 2.4l1.9-3.6l1.9 2l1.8-1.4l4.7 0.6l1.6-1.6l-3.4-1.4l-1.9 0.8l-4.7-0.9l-3.8 0.2l-0.2-0.6l0.7-0.9l-0.5-0.3l-1.8-0.1l-0.8 0.4l-0.2 1.3l-0.9 0.2l-1-2.2l-2.8 0.7l-1.9-2.1l-3.7-0.8l0.3 2.9l-2.2 1.8l-0.9-0.1l-1-1.1l-3.7-0.4l-1.9 0.4l-1.9-0.9l-0.9 0.3l-1.9 2l-1.9 0.2l-0.9 1l-1.5 0.5l0 1l1.5 2.2l0.7-1.3l1.2-0.5l1.8-2.2l1 0.3l0.9 1.2l1.5-0.7l0.4-0.9l0.1 0.9l0.8 0.9l1 0l1-0.9l2.7-0.9l0.2 0.9l-1.1 0.5l-2 2.4l0 0.9l2.4 2.8zM403.9 215.9l1.1 0.5l-0.3-2.4l1.2-1.2l3.8 0.7l0.9 1l1.9-0.9l3.7-0.6l1.9 0.9l1.9-1.7l1.9 0l0.3-1l-3-2.8l-0.4-0.9l0.3-1l1-0.9l0-1.9l-0.8-2.8l-1.2-0.9l0-1l-1.1-1.9l1.1-1.4l3.3 0.5l-0.5-1.3l-4.7 0.2l-2.8-1.4l-2.7 1.6l0.2 1.8l-3.1 0.8l-1.8 1.1l1 1l-0.3 0.9l-1.5 0.9l-0.4 1l0.9 0.9l-0.4 1l-2.2-0.5l-1.9 2.1l-1.9-0.1l-2 2.2l2 0.4l0.4 0.5l-0.4 0.9l-5.6 2.9l0.9 0.9l3.8 0.6l0.6-0.6l0.3-1.8l1-0.2l0.9-1.2l1-0.2l0.9 0.6l-1.2 1.9l2 1.9l0 0.9zM496.9 215.0l0.1 0.3l1.4-0.3l-0.5-0.9l-1 0.9zM334.5 214.0l1 0.7l0.8-0.7l-0.8-0.9l-1 0.9zM308.6 213.1l0.6 0.9l1.3-0.9l-0.4-1l-0.9 0.1l-0.6 0.9zM325.1 213.1l1 0.8l0.9-0.9l0.3-2.7l0.7-1l-0.4-0.9l0.7-0.9l-0.3-0.8l-1.9 2l-2.8-2.6l-1-0.5l-0.9 0.2l-0.7 0.7l0.2 1.9l-0.6 1.9l2 1.3l1.9-0.8l0.5 0.4l0.4 1.9zM346.0 213.1l0.7 0.5l0.8-0.5l1.1-2.3l1.8-1.5l0.1-3l-1.4 0.2l-0.5 0.8l-0.9-2.2l-0.6 2.4l-1.9 0l-0.3-1l-1 0.3l-1 1.6l2.3 2.8l0.8 1.9zM386.5 213.1l0.6 0.5l1-0.1l0.6-0.4l0.1-0.9l-0.7-0.8l-1 0.4l-0.6 1.3zM339.1 212.2l2-0.1l1-0.9l-0.6-2.8l-2.3-2.1l-0.9 0l-0.5 0.2l0.1 1l1.2 1.8l-0.4 1l0.4 1.9zM355.0 212.2l1.1 0.3l0.4-0.3l-0.4-0.9l-1.1 0.9zM310.8 211.2l0.6 0l0.1-0.9l-1.2-1.9l-2.1-1.3l-1.2 0.4l-0.6 0.9l2.8 1.1l1.6 1.7zM505.1 211.2l0.4 0.7l0.9 0.1l1.2-0.8l-1.2-1.3l-0.9 0.4l-0.4 0.9zM508.8 211.2l0.8 0l1.5-1.3l1.3 0.4l0.4-1.9l1.1-0.8l1.5 0.8l-0.2 0.9l0.6 0.9l1.9-0.3l0.4-0.6l-0.4-2.6l-1.9-0.9l-0.9-1.1l2.8-2.9l-3.8-0.6l-0.9-1.5l-1.9 1.1l-1 0.1l0.2-1.9l-1-1.9l-1-0.6l-1 0.1l-1 3.4l-1.8 0.7l-0.8-1.7l2.1-0.9l-1.3-1.7l-0.9 0.7l-0.3 1l-1.6 0.2l-0.7 0.7l-0.4 1.9l0.8 0.9l-3.2 1l-0.1 2.8l-1.1 1.3l-1.3 0.6l0 0.9l2.2 2l2.9-1.2l2.8 0.4l0.6-0.3l-0.2-1.8l0.3-1l1.2-0.2l0.9 0.5l2.3 2.5l0.1 1.9zM466.3 210.3l0.7 0.2l0.2-1.2l-1.2-0.2l0.3 1.2zM296.6 209.3l1.4 0l0.8-0.9l-1.8-0.4l-0.5 0.4l0.1 0.9zM315.6 209.3l0.1 0.9l1-0.9l0-1.2l-1 0.2l-0.1 1zM302.5 207.5l1 0.8l1 0.1l1.4-0.9l-2.4-2.2l-0.9 0.9l-0.1 1.3zM475.9 207.5l1.1 0l0.5-1l-0.2-1.8l-1-1.4l-0.8 0.4l0.4 3.8zM328.3 206.5l2.2 0l0.1-0.9l-0.8-0.5l-1.5 1.4zM294.1 205.6l0 0.6l1 0.3l1.5-1.8l-0.6-0.5l-0.9 0.2l-1 1.2zM308.0 205.6l0.2 0.5l1-1.5l-1-0.2l-0.2 1.2zM377.9 203.7l0.8 0.9l0.6-0.9l0-0.9l-0.6-0.7l-0.8 1.6zM452.8 203.7l1 0.6l0.6-0.6l1.3-4l1.9-1.4l1.7-0.2l-1.7-1.4l-1.7-2.4l-1.2 0l-1.8 1l-2.9-0.3l-1.8 1l-2.8-1.2l-1.9-1.8l-1.9 0.4l-0.6 0.9l-0.3 3.8l1.8 1.3l2.9 0.1l0.9 1.7l2.8-1l2.8 0.2l2.1 1.4l-1.3 1l0.1 0.9zM496.8 201.8l0.2 0.5l0.7-0.5l-0.7-0.9l-0.2 0.9zM381.3 200.9l0.3-0.9l-1-0.1l0 0.2l0.7 0.8zM421.5 200.0l1.3 0.5l1.1-0.5l1.8-3.8l-0.4-0.9l-1.5-0.3l-1.8 1.2l-0.9 2.8l0.4 1zM481.7 200.0l1.2 0.3l1.2-1.3l0.5-1.9l-0.7-1.2l-1-0.3l-0.9 0.4l-1.1 1.1l0.8 2.9zM461.3 199.0l0.7 0l-0.4-0.9l-2.1 0l1.8 0.9zM462.3 199.0l0.9 0.8l0.9 0.1l1.9-1l1-0.8l-0.6-1.9l-1.3-0.2l-1 1.9l-1.8 1.1zM470.3 199.0l2.3-0.1l1.3-0.8l-1.3-1.3l-2.8-0.3l-0.6 1.6l1.1 0.9zM427.5 198.1l0.9 0.3l1-0.3l1-1l-0.1-0.9l-1.9-0.5l-1.1 0.5l-0.5 0.9l0.7 1zM433.5 198.1l0.6 0.5l1.4-0.5l0.8-1.9l-0.4-0.9l-0.9-0.6l-1.4 0.6l-0.1 2.8zM499.1 197.1l0.7 0.7l0.5-0.7l-1.4-2.7l-1.1 0.9l0.1 0.9l1.2 0.9zM477.3 196.2l0.9 0.9l1 0l0.6-0.9l-0.6-1l-1 0.1l-0.9 0.9zM316.7 193.4l0.9-0.2l0.2-0.7l-1.1-1.3l-0.7 1.3l0.7 0.9zM315.4 189.6l1.3 0.6l0-2.1l-1 0.2l-0.3 1.3zM324.2 189.6l0.9 0.9l0-1.9l-0.5 0.1l-0.4 0.9zM344.7 188.7l1.3 0l0.2-0.9l-0.4-0.5l-0.9 0.4l-0.2 1zM380.4 187.8l1.1 0.1l0.9-0.7l2.6-0.4l0.7-0.9l-0.3-0.9l-4.1 0.9l-1.2 0.9l0.3 1zM368.0 185.9l0.3 0.4l1.9-0.4l-1.9-0.5l-0.3 0.5zM322.8 184.0l0.5 0.3l0.9-0.3l-0.9-0.4l-0.5 0.4zM376.9 183.1l1.9 0l0.4-1l-0.5-1l-1.4 0.1l-0.7 0.9l0.3 1zM389.6 183.1l0.4 0l-0.1-1.5l-1 0.5l0.7 1zM324.8 181.2l0.3 0.5l0.5-0.5l-0.3-0.9l0.8-0.4l0.9-1.5l0-1l-0.9-0.7l-1 0.1l-0.3 4.4zM347.6 181.2l1 0.5l1.9-0.5l-0.9-1.3l-1 0l-0.8 0.4l-0.2 0.9zM366.7 181.2l0.7 0.9l0.5-0.9l-0.5-0.9l-0.9-0.2l-1.4-1.7l0.7-1l-0.2-0.9l-2 0.4l-0.3 0.5l0.2 1l1 1.9l2.2 0.9zM313.4 179.3l1.4 0l0.7-0.9l-0.2-1l-1.4-1.8l-1 0l-1.2 0.9l-0.4 0.9l0.2 1l1.9 0.9zM369.3 179.3l0.9-0.4l0-0.9l-1.1 0.4l0.2 0.9zM385.4 179.3l1 0l0.3-3.7l0.4-0.3l4.7-1.1l1 1.4l0.9 0.4l2.8-0.6l1.3-0.8l2.5-2.9l0.9 0l1 1l0.9-0.1l1.9-1.2l0.9 0l1.8 1.4l1 0.1l0.5-1.1l1.4-0.5l1.9 0.1l1.9 0.9l0.9-0.2l0.3-0.3l-0.3-0.5l-1.5-1.4l0.6-1.8l0.6 0l-0.6-0.1l-1.9-2.7l-2.7 0l0.8-1l0.9-0.1l1 1l1.9-1l1.9-2.7l-0.1-1.4l-0.9-0.4l-0.9 1.6l-1 0.4l-1.1-0.2l-0.8-1.7l-1.8 0.1l-1-0.5l-1 0.2l0.1 1l-1 0.2l-2.7-1.2l1.2-3.7l-0.3-0.3l-5.7 1.9l-1.8-0.7l0-0.9l-1-0.2l-0.3 0.2l1.2 0.9l-0.1 0.9l-0.8 0.4l-1.9-0.2l-0.9 0.7l-0.9-0.2l-1.9-1.7l-1.2 0.1l-0.7 0.9l-1.9-0.3l-3.7 7.2l-5.7 0.6l-1.8 1.5l-1.9-1.8l-2.8 1.1l0.9 5.9l1.9 1.2l2.2 0.6l0.7 1.9l0.8 0.4l1.4-0.4l-1.7-1.9l0.3-1.4l1-0.4l1.9 1.9l0.9-1.3l0.9-0.2l1.6 1.4l-2.1 1.9l1.4 0.9l0.4 1.9l1.7 0.9zM379.6 169.0l-0.5-0.9l0.5-1.5l1.1 1.5l-1.1 0.9zM345.6 175.6l1.1 0.5l1.7-0.5l-1.7-0.8l-0.9 0.2l-0.2 0.6zM359.7 169.9l0.2 0.4l1.2-0.4l-0.2-0.9l-1.2 0.9zM294.1 169.0l0 0.7l1-0.1l1-1.5l-1-0.4l-0.8 0.4l-0.2 0.9zM414.9 167.1l0.4 0.9l1.9-0.4l0.7-0.5l0.1-0.9l-0.8-1.1l-1-0.1l-1.3 2.1zM512.9 167.1l1 0.1l1.4-1l0.3-0.9l-0.7-1.1l-1.9 0.7l-0.6 1.3l0.5 0.9zM347.0 166.2l1.6 0.4l1.2-0.4l-0.2-1l-1-0.4l-2.1 0.5l0.5 0.9zM360.1 165.3l1.7 0.6l0.4-0.6l-0.4-1l-1-0.4l-0.9 0.3l0.2 1.1zM355.2 164.3l0.9 0.6l3.1-1.5l-1.2-1l-2.8 1.9zM328.8 163.4l1 0.3l0.3-0.3l-1.2-2.9l-0.9 0.4l-0.3 0.6l0.2 0.9l0.9 1zM512.5 163.4l0.5 0.4l0.6-0.4l-0.1-1l-0.5-0.3l-0.6 0.3l0.1 1zM367.2 161.5l1.1 0.5l1.7-0.5l-0.7-2.1l-1.3-0.7l1.3-3.8l-1-0.4l-1.2 0.4l-0.3 1.9l-1.3 1.3l-0.9 2.4l-1 0.1l3.6 0.9zM325.0 158.7l1.1 0.1l0-0.1l-1-1l-0.1 1zM337.5 158.7l0.8 0.2l0.4-1.2l-1.4-1.6l-0.2 0.7l0.4 1.9zM343.5 158.7l0.4 0.4l2-1.4l-2-0.1l-0.4 1.1zM307.0 157.7l0.6 0l0.3-0.9l-1.5-0.8l-0.8 0.8l1.4 0.9zM329.4 157.7l0.4 0.3l1-0.6l0.3-0.6l-0.3-1.1l-1.9 0.3l-0.4 0.8l0.9 0.9zM339.8 156.8l0.4 0.4l1.2-0.4l-0.3-0.3l-1.3 0.3zM410.3 156.8l0.3 0.6l1-0.6l-1-1.2l-0.3 1.2zM311.2 155.9l0.8 0.7l1-0.7l0-1l-1-0.2l-0.8 1.2zM355.1 154.9l0.1 0.4l0.7-1.3l-0.7-0.9l-0.1 1.8zM510.9 154.9l0.2 0.5l0.9 0l0.9-0.5l-1.4-1.8l-1.3-0.7l-0.6 0.7l1.3 1.8zM381.8 154.0l1.6 0.5l1-0.5l-0.4-0.9l-1.6-0.3l-0.6 0.3l0 0.9zM386.5 154.0l0.6 0.4l1.4-0.4l-0.4-0.7l-1 0l-0.6 0.7zM326.7 153.1l0.3 0.3l0.8-1.3l-0.8-0.5l-1.5 0.5l1.2 1zM501.3 151.2l1.3 0.3l1.9-1l2.8 0.5l1.9 1l1-2.9l2.8 0.3l0.4-1l0-1l-1.1-1.8l-0.1-1.9l-5.9 0l0.4 0.9l-1.2 0.4l-2.9-0.4l-1.8 0.6l-3.8-0.6l-2.8 1.5l-0.9-0.5l-0.2 1.8l2 2.6l2.8 0.5l1.9-1.2l1 0.7l0.5 1.2zM485.8 148.4l0.9 0.2l1.9-0.6l1.8 1.2l0.5-2.7l-0.5-0.4l-1.8 0.7l-1.9-0.2l-1.3 0.8l0.4 1zM294.1 147.4l0 0.5l0.7-0.5l0.3-0.9l-1-1.2l0 2.1zM347.6 147.4l1 0.2l1.9-0.8l0.2-1.2l-2.6 0.9l-0.5 0.9zM514.8 147.4l1 0.6l1.4-0.6l0.3-2.8l-0.8-0.4l-1.2 0.4l-0.9 1.9l0.2 0.9zM328.1 146.5l0.8 0.7l1.5-0.7l-0.6-1.2l-0.9 0.1l-0.8 1.1zM304.1 144.6l0.4 0.6l1.2-0.6l-0.3-0.5l-1.3 0.5z"/>
<path fill="#c8e9f6" fill-rule="evenodd" d="M416.2 217.8l1 0l0.7-1l-0.7-0.7l-1 0.3l-0.3 0.4l0.3 1zM364.4 212.2l0.2 0.5l0.9 0.2l0-1.6l-1.1 0.9zM404.4 212.2l3.4 0.2l1.9-0.9l1.8 0.8l1.9-0.2l3.8-2l0.7-1.7l0-2.8l-0.9-1.9l0.5-1.9l-1.3-2.4l-2.8-0.5l-0.9 2.1l-1.9-0.9l-3.2 1.7l-0.7 1l0.1 1.9l-0.9 0.9l-1.9 0.2l-0.7 0.7l-0.2 1.2l-1.2 0.7l0.3 0.5l0.9 0.1l1.3 3.2zM346.3 210.3l0.6 0l-0.2-1.1l-0.6 0.1l0.2 1zM367.2 210.3l0.2 0.4l0.5-0.4l0.4-1.1l-0.9 0l-0.2 1.1zM323.0 209.3l0.8-0.9l-0.3-0.9l-1.2-1.3l-0.9 0.3l0 1l1.6 1.8zM371.9 209.3l1.1 0.4l0.8-0.4l2.3-1.8l0.1-1l-2.2 0l-0.4 1l-1.5 0.1l-0.7 0.8l0.5 0.9zM501.4 208.4l1.3 0l0.9-2.5l1.9-0.4l2.8 0.5l0.9 0.6l2.8-0.8l1 0.6l0.9-0.1l0.2-1.6l1-1.9l-2.1 0.2l-2.8-1l-2.9 0.3l-1.8 1l-1.9-0.5l-1.9 0.7l-1.9-0.1l-0.2 3.1l1.8 1.9zM362.0 207.5l0.7 0.6l1.4-0.6l-1.4-0.7l-0.7 0.7zM507.8 200.0l0.8 0l-0.3-1.3l-0.3 0.3l-0.2 1zM447.2 199.0l1 0.4l2.8-0.2l0.7-0.2l0-0.9l-1.7-2.1l-2.8 1.7l0 1.3zM442.1 198.1l1.4 0.5l1.1-0.5l0.2-1.9l-1.3-2.1l-1 0.1l-0.5 1.1l0.1 2.8zM482.3 198.1l0.6 0.8l1-1.8l-1-0.6l-0.6 1.6zM428.0 197.1l0.4 0.4l1-0.4l-1-0.6l-0.4 0.6zM434.6 197.1l0.5 0l-0.1-1.5l-0.9 0.6l0.5 0.9zM396.4 173.7l0.5-0.9l1.8-1l1.6-1.5l1.2-0.4l0.7-1l0.9-0.3l0.6 0.4l0.3 1.5l1-0.1l1.2-0.5l-0.6-1.8l0.3-0.4l2.8 0.4l0.1-1l-5-2.8l1.7-0.9l0.2-1l-2.6-2.1l-1.9 0.7l-1.9-0.3l-0.9-2.2l-3.8 1l-1.8-0.1l-1.9 1.2l-2.8-1.1l-1.9 1.5l-1.5 2.4l0.7 0.9l-0.2 3l-1.8 0.3l-1-1.5l-0.9-0.4l-0.7 0.5l1.3 1.9l-1.3 1.8l0.5 1l2.1-0.7l0.9 0.4l3.8 0l1.8 0.6l1 1.4l0.9 0.4l0.5-0.2l0.5-1.4l0.9-0.1l0.9 1.5l1.8 0.9zM375.8 171.8l1 0.2l0.4-1.1l-0.4-0.4l-1 1.3zM372.6 169.9l0.4 0.5l1-0.1l1.1-1.3l-2.1-1.5l-0.9 1.5l0.5 0.9zM409.3 169.9l2.2 0.4l1-0.4l0.5-0.9l-0.5-1.2l-1 0.5l-0.9 1.4l-1.3 0.2zM406.9 164.3l0.9 0.4l0.7-0.4l0.3-0.9l-1-0.8l-1.5 0.8l0.6 0.9zM412.1 163.4l0.4 0.2l1.1-0.2l-1.1-0.5l-0.4 0.5zM367.6 160.6l0.7 0.4l1-0.4l-1-0.6l-0.7 0.6zM503.4 149.3l3-0.4l1.9 0.7l1.5-2.2l-1.5-2.1l-1.9 0.9l-3.8-0.8l-0.9 0.7l-2.8-0.2l-0.7 0.6l0.1 0.9l1 1l4.1 0.9zM511.9 148.4l0.6-1l-0.5-0.9l-0.9-0.3l-0.5 1.2l1.3 1z"/>
<path fill="#a1d7f1" fill-rule="evenodd" d="M410.6 211.2l0.9 0.3l1.9-0.7l1.9-1.7l0.9 0.3l0.8-1l-0.1-1.9l-1.2-2.8l0.7-1.9l-0.2-0.9l-0.9-1.1l-0.9 0.1l-1 1.6l-0.9 0.6l-2-0.3l-1.1 1.9l-1.6 1l-1.6 1.8l-0.7 1.9l-1.1 0.9l0.6 1.7l0.9-0.3l0.4-1.4l-0.3-0.9l0.8-0.4l3.8 3.2zM501.3 207.5l0.9 0l-0.5-1.6l-0.6 0.6l0.2 1zM509.5 203.7l0.7 0.8l0.9-0.8l-0.9-0.5l-0.7 0.5zM395.0 170.9l0.6 0.6l1.9 0l0.9-1.7l2.5-0.8l0.2-0.9l-1.8-0.7l-2.8-0.1l-3.7-3l-0.5-0.9l0.5-0.8l0.9 0l1.9 1.3l1.7-0.5l-0.8-2.4l-0.9 0l-2.8 1.2l-1-0.7l-2.8-0.4l-1.9 0.3l-0.9 0.7l-0.1 1.3l1 1.5l2.8-1l1 0.7l0.8 1.6l-2.1 1.9l-0.2 0.9l0.9 0.9l1.5 0.8l1.9-0.9l1.3 1.1zM386.2 169.0l0.9 0.1l1-1.1l-1-0.6l-0.9 1.6zM402.7 167.1l1.3 0.8l1.2-0.8l0.3-0.9l-1.5-0.6l-0.9 0.2l-0.5 0.4l0.1 0.9zM398.9 166.2l0.4 0.6l1.8-1.5l-0.8-1.9l-1-0.3l-1.5 1.2l1.1 1.9zM503.1 147.4l1 0l-0.1-0.9l-1.5 0l0.6 0.9z"/>
<path fill="#76c1ea" fill-rule="evenodd" d="M410.4 210.3l1.1 0.4l1.9-0.8l2.1-3.4l-2.1-2.3l-1.9-0.3l-1.8 1.7l-1.9 0.2l-0.4 0.7l1.8 2.8l1.2 1zM414.3 201.8l0.1 0.5l0.9-0.1l0-1.1l-1 0.7zM396.2 169.9l0.3 0.4l0.8-0.4l0.3-0.9l-1.3 0l-0.1 0.9zM391.2 169.0l1.2 0l0.5-0.9l-1.1-0.3l-0.6 1.2z"/>
<path fill="#4ea7df" fill-rule="evenodd" d="M409.3 208.4l1.3 0.8l2.8-0.8l0-2.5l-0.9-0.6l-0.6 0.3l-0.6 0.9l-2.1 1l0.1 0.9z"/>
<use href="#land" x="295.4" y="144.3"/>
</g>
<rect x="295.4" y="144.3" width="225.4" height="75.05" fill="none" stroke="#1a1a1a" stroke-width="0.9"/>
<text x="289.3" y="146.50" class="ax" text-anchor="end">60N</text>
<text x="289.3" y="165.26" class="ax" text-anchor="end">30N</text>
<text x="289.3" y="184.03" class="ax" text-anchor="end">0</text>
<text x="289.3" y="202.79" class="ax" text-anchor="end">30S</text>
<text x="289.3" y="221.55" class="ax" text-anchor="end">60S</text>
<text x="295.40" y="231.25" class="ax" text-anchor="middle">0</text>
<text x="314.18" y="231.25" class="ax" text-anchor="middle">30E</text>
<text x="332.97" y="231.25" class="ax" text-anchor="middle">60E</text>
<text x="351.75" y="231.25" class="ax" text-anchor="middle">90E</text>
<text x="370.53" y="231.25" class="ax" text-anchor="middle">120E</text>
<text x="389.32" y="231.25" class="ax" text-anchor="middle">150E</text>
<text x="408.10" y="231.25" class="ax" text-anchor="middle">180</text>
<text x="426.88" y="231.25" class="ax" text-anchor="middle">150W</text>
<text x="445.67" y="231.25" class="ax" text-anchor="middle">120W</text>
<text x="464.45" y="231.25" class="ax" text-anchor="middle">90W</text>
<text x="483.23" y="231.25" class="ax" text-anchor="middle">60W</text>
<text x="502.02" y="231.25" class="ax" text-anchor="middle">30W</text>
<text x="520.80" y="231.25" class="ax" text-anchor="middle">0</text>
<path d="M293.0 144.30H295.4M293.0 163.06H295.4M293.0 181.83H295.4M293.0 200.59H295.4M293.0 219.35H295.4M294.1 150.55H295.4M294.1 156.81H295.4M294.1 169.32H295.4M294.1 175.57H295.4M294.1 188.08H295.4M294.1 194.33H295.4M294.1 206.84H295.4M294.1 213.10H295.4M295.40 219.35000000000002v2.4M314.18 219.35000000000002v2.4M332.97 219.35000000000002v2.4M351.75 219.35000000000002v2.4M370.53 219.35000000000002v2.4M389.32 219.35000000000002v2.4M408.10 219.35000000000002v2.4M426.88 219.35000000000002v2.4M445.67 219.35000000000002v2.4M464.45 219.35000000000002v2.4M483.23 219.35000000000002v2.4M502.02 219.35000000000002v2.4M520.80 219.35000000000002v2.4M301.66 219.35000000000002v1.3M307.92 219.35000000000002v1.3M320.44 219.35000000000002v1.3M326.71 219.35000000000002v1.3M339.23 219.35000000000002v1.3M345.49 219.35000000000002v1.3M358.01 219.35000000000002v1.3M364.27 219.35000000000002v1.3M376.79 219.35000000000002v1.3M383.06 219.35000000000002v1.3M395.58 219.35000000000002v1.3M401.84 219.35000000000002v1.3M414.36 219.35000000000002v1.3M420.62 219.35000000000002v1.3M433.14 219.35000000000002v1.3M439.41 219.35000000000002v1.3M451.93 219.35000000000002v1.3M458.19 219.35000000000002v1.3M470.71 219.35000000000002v1.3M476.97 219.35000000000002v1.3M489.49 219.35000000000002v1.3M495.76 219.35000000000002v1.3M508.28 219.35000000000002v1.3M514.54 219.35000000000002v1.3" stroke="#1a1a1a" stroke-width="0.7" fill="none"/>
<text x="294.9" y="139.3" class="tt" textLength="94.3" lengthAdjust="spacingAndGlyphs">(d) WP < 0 & WP_MME > 0</text>
<text x="520.8" y="139.3" class="tt" text-anchor="end">6 years</text>
<rect x="529.70" y="213.71" width="5.3" height="3.24" fill="#131f5e"/>
<rect x="529.70" y="210.52" width="5.3" height="3.24" fill="#183690"/>
<rect x="529.70" y="207.33" width="5.3" height="3.24" fill="#1d52a8"/>
<rect x="529.70" y="204.14" width="5.3" height="3.24" fill="#2470c0"/>
<rect x="529.70" y="200.95" width="5.3" height="3.24" fill="#338bd2"/>
<rect x="529.70" y="197.75" width="5.3" height="3.24" fill="#4ea7df"/>
<rect x="529.70" y="194.56" width="5.3" height="3.24" fill="#76c1ea"/>
<rect x="529.70" y="191.37" width="5.3" height="3.24" fill="#a1d7f1"/>
<rect x="529.70" y="188.18" width="5.3" height="3.24" fill="#c8e9f6"/>
<rect x="529.70" y="184.99" width="5.3" height="3.24" fill="#e6f5fb"/>
<rect x="529.70" y="181.80" width="5.3" height="3.24" fill="#ffffff"/>
<rect x="529.70" y="178.61" width="5.3" height="3.24" fill="#ffffff"/>
<rect x="529.70" y="175.42" width="5.3" height="3.24" fill="#fff6c8"/>
<rect x="529.70" y="172.23" width="5.3" height="3.24" fill="#fee79a"/>
<rect x="529.70" y="169.04" width="5.3" height="3.24" fill="#fdd163"/>
<rect x="529.70" y="165.85" width="5.3" height="3.24" fill="#fcb53f"/>
<rect x="529.70" y="162.65" width="5.3" height="3.24" fill="#f9962a"/>
<rect x="529.70" y="159.46" width="5.3" height="3.24" fill="#f37524"/>
<rect x="529.70" y="156.27" width="5.3" height="3.24" fill="#ee4f27"/>
<rect x="529.70" y="153.08" width="5.3" height="3.24" fill="#dc1f33"/>
<rect x="529.70" y="149.89" width="5.3" height="3.24" fill="#b8141f"/>
<rect x="529.70" y="146.70" width="5.3" height="3.24" fill="#9c1019"/>
<path d="M529.70 149.89h5.3M529.70 153.08h5.3M529.70 156.27h5.3M529.70 159.46h5.3M529.70 162.65h5.3M529.70 165.85h5.3M529.70 169.04h5.3M529.70 172.23h5.3M529.70 175.42h5.3M529.70 178.61h5.3M529.70 181.80h5.3M529.70 184.99h5.3M529.70 188.18h5.3M529.70 191.37h5.3M529.70 194.56h5.3M529.70 197.75h5.3M529.70 200.95h5.3M529.70 204.14h5.3M529.70 207.33h5.3M529.70 210.52h5.3M529.70 213.71h5.3" stroke="#000" stroke-opacity="0.28" stroke-width="0.35"/>
<rect x="529.70" y="146.70" width="5.3" height="70.2" fill="none" stroke="#000" stroke-opacity="0.5" stroke-width="0.4"/>
<text x="541.00" y="155.58" class="cb" text-anchor="middle">0.9</text>
<text x="541.00" y="165.15" class="cb" text-anchor="middle">0.6</text>
<text x="541.00" y="174.73" class="cb" text-anchor="middle">0.3</text>
<text x="541.00" y="184.30" class="cb" text-anchor="middle">0</text>
<text x="541.00" y="193.87" class="cb" text-anchor="middle">-0.3</text>
<text x="541.00" y="203.45" class="cb" text-anchor="middle">-0.6</text>
<text x="541.00" y="213.02" class="cb" text-anchor="middle">-0.9</text>
<text x="297.9" y="243.7" class="tl" text-anchor="middle">WP</text>
<text x="336.5" y="243.7" class="tl" text-anchor="middle">WP_MME</text>
<text x="374.7" y="243.7" class="tl" text-anchor="middle">NWP</text>
<text x="414.5" y="243.7" class="tl" text-anchor="middle">NWP_MME</text>
<text x="452.7" y="243.7" class="tl" text-anchor="middle">NINO</text>
<text x="492.9" y="243.7" class="tl" text-anchor="middle">NINO_MME</text>
<text x="530.9" y="243.7" class="tlg" text-anchor="middle">PNA</text>
<text x="297.9" y="254.7" class="tv" text-anchor="middle">-0.54</text>
<text x="336.5" y="254.7" class="tv" text-anchor="middle">0.34</text>
<text x="374.7" y="254.7" class="tvg" text-anchor="middle">0.05</text>
<text x="414.5" y="254.7" class="tvg" text-anchor="middle">0.28</text>
<text x="452.7" y="254.7" class="tvg" text-anchor="middle">0.55</text>
<text x="492.9" y="254.7" class="tvg" text-anchor="middle">0.56</text>
<text x="530.9" y="254.7" class="tvg" text-anchor="middle">-0.15</text>
</svg>
</body></html>
